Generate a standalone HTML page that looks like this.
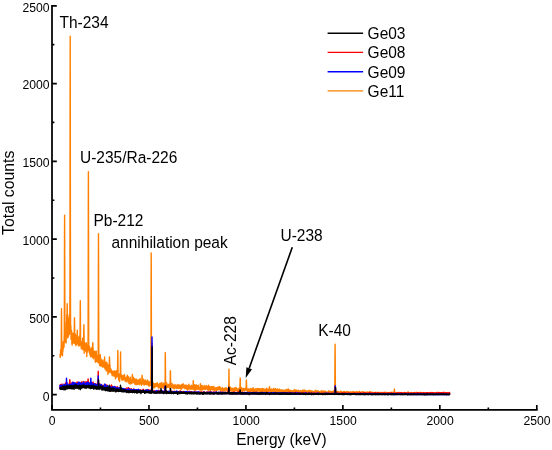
<!DOCTYPE html>
<html><head><meta charset="utf-8"><title>Gamma spectra</title>
<style>html,body{margin:0;padding:0;background:#fff}svg{display:block}</style></head>
<body>
<svg width="552" height="450" viewBox="0 0 552 450">
<rect width="552" height="450" fill="#fff"/>
<g fill="none" stroke-linejoin="round" stroke-width="1.4">
<path stroke="#ff8000" d="M60.0,355.7 60.0,354.6 60.1,355.9 60.2,357.4 60.3,355.9 60.4,357.1 60.5,353.8 60.6,349.8 60.7,354.8 60.8,354.9 60.9,351.3 61.0,351.4 61.1,351.1 61.2,350.0 61.3,336.2 61.4,317.9 61.5,308.8 61.6,318.5 61.7,339.0 61.8,349.3 61.9,354.5 62.0,350.0 62.1,353.0 62.2,348.0 62.3,348.0 62.4,348.8 62.5,355.7 62.6,349.3 62.7,347.4 62.8,346.6 62.9,351.4 63.0,347.8 63.1,349.1 63.2,348.3 63.2,342.0 63.3,347.6 63.4,344.8 63.5,341.5 63.6,345.9 63.7,344.2 63.8,343.3 63.9,343.3 64.0,347.3 64.1,342.7 64.2,336.4 64.3,334.5 64.4,294.8 64.5,243.7 64.6,215.1 64.7,242.2 64.8,294.6 64.9,332.5 65.0,339.1 65.1,339.1 65.2,341.7 65.3,338.6 65.4,340.9 65.5,338.3 65.6,335.5 65.7,342.4 65.8,339.2 65.9,341.3 66.0,339.0 66.1,343.0 66.2,339.2 66.3,333.4 66.4,325.4 66.4,322.3 66.5,325.8 66.6,327.2 66.7,319.1 66.8,314.5 66.9,318.6 67.0,320.5 67.1,310.1 67.2,303.8 67.3,311.7 67.4,326.4 67.5,335.2 67.6,332.0 67.7,337.9 67.8,334.6 67.9,329.2 68.0,327.1 68.1,329.6 68.2,336.2 68.3,336.2 68.4,336.6 68.5,327.8 68.6,321.7 68.7,317.8 68.8,321.6 68.9,330.7 69.0,330.2 69.1,328.8 69.2,319.2 69.3,314.7 69.4,319.5 69.5,331.6 69.5,334.3 69.6,325.8 69.7,322.0 69.8,320.6 69.9,297.4 70.0,229.2 70.1,104.4 70.2,36.3 70.3,104.0 70.4,230.6 70.5,309.2 70.6,328.2 70.7,327.6 70.8,325.5 70.9,328.2 71.0,333.0 71.1,339.2 71.2,335.7 71.3,336.7 71.4,331.1 71.5,330.2 71.6,331.8 71.7,336.2 71.8,337.2 71.9,344.3 72.0,341.6 72.1,336.5 72.2,345.1 72.3,334.9 72.4,343.8 72.5,335.3 72.6,340.8 72.7,335.3 72.7,337.6 72.8,343.3 72.9,333.9 73.0,333.3 73.1,338.4 73.2,339.2 73.3,338.8 73.4,341.7 73.5,334.7 73.6,340.3 73.7,338.7 73.8,341.3 73.9,340.8 74.0,343.0 74.1,334.2 74.2,337.2 74.3,329.2 74.4,322.5 74.5,317.8 74.6,322.8 74.7,332.6 74.8,337.0 74.9,340.1 75.0,340.2 75.1,344.0 75.2,342.1 75.3,333.9 75.4,341.7 75.5,343.1 75.6,338.5 75.7,334.9 75.8,344.6 75.9,340.5 75.9,341.9 76.0,345.8 76.1,337.5 76.2,340.1 76.3,339.8 76.4,342.6 76.5,338.6 76.6,342.0 76.7,340.7 76.8,344.0 76.9,344.2 77.0,335.4 77.1,337.9 77.2,332.3 77.3,330.2 77.4,332.9 77.5,338.0 77.6,337.8 77.7,341.6 77.8,341.3 77.9,340.8 78.0,337.1 78.1,338.8 78.2,339.8 78.3,343.0 78.4,345.8 78.5,338.1 78.6,338.1 78.7,341.8 78.8,339.6 78.9,338.9 79.0,338.8 79.1,338.5 79.1,343.1 79.2,336.7 79.3,345.8 79.4,338.9 79.5,340.2 79.6,339.0 79.7,335.7 79.8,337.0 79.9,345.0 80.0,342.9 80.1,325.5 80.2,310.8 80.3,300.7 80.4,309.5 80.5,330.9 80.6,344.7 80.7,341.3 80.8,342.7 80.9,343.8 81.0,343.0 81.1,346.0 81.2,348.2 81.3,343.9 81.4,346.6 81.5,348.9 81.6,342.0 81.7,343.9 81.8,342.5 81.9,347.1 82.0,346.1 82.1,347.3 82.2,347.0 82.3,343.7 82.3,346.9 82.4,343.3 82.5,343.5 82.6,338.2 82.7,349.2 82.8,342.0 82.9,345.2 83.0,345.1 83.1,349.7 83.2,346.7 83.3,342.9 83.4,345.6 83.5,344.9 83.6,344.3 83.7,335.8 83.8,329.5 83.9,324.8 84.0,330.0 84.1,342.3 84.2,353.2 84.3,347.5 84.4,342.0 84.5,346.2 84.6,350.1 84.7,349.5 84.8,343.1 84.9,346.2 85.0,346.6 85.1,347.0 85.2,346.8 85.3,344.5 85.4,345.4 85.5,346.5 85.5,350.6 85.6,345.8 85.7,349.6 85.8,344.2 85.9,351.6 86.0,348.2 86.1,347.8 86.2,352.0 86.3,342.7 86.4,343.6 86.5,349.6 86.6,345.9 86.7,347.2 86.8,356.5 86.9,347.7 87.0,348.8 87.1,348.4 87.2,352.1 87.3,349.7 87.4,349.5 87.5,345.4 87.6,348.1 87.7,349.2 87.8,344.6 87.9,350.7 88.0,347.6 88.1,336.6 88.2,282.4 88.3,211.0 88.4,171.6 88.5,211.3 88.6,285.5 88.7,331.6 88.7,348.0 88.8,350.6 88.9,350.2 89.0,346.0 89.1,349.0 89.2,350.9 89.3,352.6 89.4,352.8 89.5,346.2 89.6,349.6 89.7,351.0 89.8,352.4 89.9,354.7 90.0,351.7 90.1,349.0 90.2,352.9 90.3,352.5 90.4,352.6 90.5,351.7 90.6,356.8 90.7,352.9 90.8,354.8 90.9,349.8 91.0,354.8 91.1,350.9 91.2,348.2 91.3,353.7 91.4,354.7 91.5,352.4 91.6,353.1 91.7,356.1 91.8,352.0 91.9,347.5 91.9,354.2 92.0,354.2 92.1,356.7 92.2,352.8 92.3,357.4 92.4,356.9 92.5,349.6 92.6,351.7 92.7,344.6 92.8,342.7 92.9,345.1 93.0,349.2 93.1,348.4 93.2,355.1 93.3,356.5 93.4,358.8 93.5,354.9 93.6,350.9 93.7,352.4 93.8,357.9 93.9,357.8 94.0,356.9 94.1,354.7 94.2,356.2 94.3,355.1 94.4,355.0 94.5,356.7 94.6,356.1 94.7,355.5 94.8,356.4 94.9,354.8 95.0,351.1 95.1,354.8 95.1,356.3 95.2,361.3 95.3,355.6 95.4,362.2 95.5,360.8 95.6,354.6 95.7,355.1 95.8,357.5 95.9,361.9 96.0,358.3 96.1,359.3 96.2,355.7 96.3,351.3 96.4,357.0 96.5,359.9 96.6,361.0 96.7,358.0 96.8,358.5 96.9,361.2 97.0,357.8 97.1,361.4 97.2,355.3 97.3,355.5 97.4,355.5 97.5,359.9 97.6,357.2 97.7,359.1 97.8,359.9 97.9,359.8 98.0,362.5 98.1,362.7 98.2,354.9 98.2,347.1 98.3,313.7 98.4,261.5 98.5,233.8 98.6,262.6 98.7,314.0 98.8,346.2 98.9,358.8 99.0,357.1 99.1,359.5 99.2,363.4 99.3,362.8 99.4,358.3 99.5,359.3 99.6,365.6 99.7,357.1 99.8,359.2 99.9,357.3 100.0,362.0 100.1,361.8 100.2,364.1 100.3,354.6 100.4,361.8 100.5,357.3 100.6,363.2 100.7,361.2 100.8,366.1 100.9,362.8 101.0,359.3 101.1,365.2 101.2,359.3 101.3,361.3 101.4,364.9 101.4,363.6 101.5,363.6 101.6,362.6 101.7,364.0 101.8,364.8 101.9,363.6 102.0,365.5 102.1,366.3 102.2,363.2 102.3,360.9 102.4,367.1 102.5,363.3 102.6,365.0 102.7,366.0 102.8,361.4 102.9,365.0 103.0,360.0 103.1,365.8 103.2,362.9 103.3,364.6 103.4,366.0 103.5,362.7 103.6,364.6 103.7,362.8 103.8,364.5 103.9,367.2 104.0,364.8 104.1,364.5 104.2,362.4 104.3,366.9 104.4,364.2 104.5,364.8 104.6,358.4 104.6,357.0 104.7,359.8 104.8,362.4 104.9,362.1 105.0,369.0 105.1,368.2 105.2,367.5 105.3,368.5 105.4,364.9 105.5,367.9 105.6,367.7 105.7,364.6 105.8,368.0 105.9,365.2 106.0,368.6 106.1,369.3 106.2,370.9 106.3,362.1 106.4,367.4 106.5,366.1 106.6,366.8 106.7,366.5 106.8,366.8 106.9,362.5 107.0,369.5 107.1,370.9 107.2,369.6 107.3,370.5 107.4,365.6 107.5,365.5 107.6,369.8 107.7,370.9 107.8,368.5 107.8,364.5 107.9,374.4 108.0,366.7 108.1,370.5 108.2,365.6 108.3,370.6 108.4,368.9 108.5,371.8 108.6,370.6 108.7,365.2 108.8,366.6 108.9,369.5 109.0,370.6 109.1,372.8 109.2,368.4 109.3,364.6 109.4,359.7 109.5,357.0 109.6,360.3 109.7,364.9 109.8,368.1 109.9,366.3 110.0,365.2 110.1,369.8 110.2,371.3 110.3,369.8 110.4,371.1 110.5,371.5 110.6,370.1 110.7,372.4 110.8,368.7 110.9,370.4 111.0,369.7 111.0,370.7 111.1,372.0 111.2,372.6 111.3,371.1 111.4,371.9 111.5,370.2 111.6,370.8 111.7,373.9 111.8,370.8 111.9,374.0 112.0,372.5 112.1,371.8 112.2,375.8 112.3,371.1 112.4,371.1 112.5,371.8 112.6,372.5 112.7,372.4 112.8,373.8 112.9,372.4 113.0,373.0 113.1,371.7 113.2,374.6 113.3,371.6 113.4,371.9 113.5,372.5 113.6,373.2 113.7,371.2 113.8,376.0 113.9,371.6 114.0,372.1 114.1,372.1 114.2,371.9 114.2,374.2 114.3,373.4 114.4,371.6 114.5,372.1 114.6,372.7 114.7,376.3 114.8,372.1 114.9,370.9 115.0,371.3 115.1,373.0 115.2,376.7 115.3,371.6 115.4,373.9 115.5,378.9 115.6,373.0 115.7,376.9 115.8,376.5 115.9,375.3 116.0,371.5 116.1,374.9 116.2,373.6 116.3,370.7 116.4,371.1 116.5,374.6 116.6,374.9 116.7,377.0 116.8,376.0 116.9,373.8 117.0,373.9 117.1,374.6 117.2,372.9 117.3,376.4 117.4,375.0 117.4,373.2 117.5,371.6 117.6,364.9 117.7,355.8 117.8,350.4 117.9,355.9 118.0,367.6 118.1,375.8 118.2,374.0 118.3,375.7 118.4,375.1 118.5,379.0 118.6,376.5 118.7,377.0 118.8,377.5 118.9,380.2 119.0,376.7 119.1,374.4 119.2,375.4 119.3,377.3 119.4,376.3 119.5,374.9 119.6,381.6 119.7,376.7 119.8,375.5 119.9,375.3 120.0,373.4 120.1,374.5 120.2,375.7 120.3,373.7 120.4,366.9 120.5,357.8 120.6,352.0 120.6,357.2 120.7,365.6 120.8,374.7 120.9,376.7 121.0,376.6 121.1,374.6 121.2,377.2 121.3,374.5 121.4,379.0 121.5,377.6 121.6,377.6 121.7,375.9 121.8,375.5 121.9,380.1 122.0,379.1 122.1,376.9 122.2,378.7 122.3,380.3 122.4,375.7 122.5,376.7 122.6,376.8 122.7,378.5 122.8,375.9 122.9,378.2 123.0,375.9 123.1,379.5 123.2,379.4 123.3,377.6 123.4,379.2 123.5,376.8 123.6,377.6 123.7,379.7 123.8,378.0 123.8,378.8 123.9,376.6 124.0,379.3 124.1,379.0 124.2,376.2 124.3,374.4 124.4,374.9 124.5,378.3 124.6,378.0 124.7,375.8 124.8,378.7 124.9,380.2 125.0,378.4 125.1,377.8 125.2,380.1 125.3,381.5 125.4,381.2 125.5,377.6 125.6,380.1 125.7,379.1 125.8,378.5 125.9,377.8 126.0,379.5 126.1,378.1 126.2,380.5 126.3,379.6 126.4,380.8 126.5,377.2 126.6,379.2 126.7,380.4 126.8,379.8 126.9,379.6 127.0,378.1 127.0,382.0 127.1,381.1 127.2,380.0 127.3,375.2 127.4,377.9 127.5,379.7 127.6,378.3 127.7,376.1 127.8,380.0 127.9,380.2 128.0,377.6 128.1,378.9 128.2,378.6 128.3,380.6 128.4,376.6 128.5,377.0 128.6,378.9 128.7,378.8 128.8,383.2 128.9,378.9 129.0,380.3 129.1,379.3 129.2,378.9 129.3,380.6 129.4,382.8 129.5,379.5 129.6,381.4 129.7,380.7 129.8,381.2 129.9,380.8 130.0,384.0 130.1,378.4 130.1,379.9 130.2,378.6 130.3,377.2 130.4,380.4 130.5,383.3 130.6,381.8 130.7,382.4 130.8,381.3 130.9,380.4 131.0,383.7 131.1,380.0 131.2,382.9 131.3,380.1 131.4,380.8 131.5,381.1 131.6,380.7 131.7,381.5 131.8,381.6 131.9,383.3 132.0,380.6 132.1,377.5 132.2,376.5 132.3,375.5 132.4,374.5 132.5,376.2 132.6,377.1 132.7,380.3 132.8,380.8 132.9,381.3 133.0,380.7 133.1,381.6 133.2,381.0 133.3,382.6 133.3,381.5 133.4,377.5 133.5,381.1 133.6,381.4 133.7,380.2 133.8,380.0 133.9,382.8 134.0,381.4 134.1,379.7 134.2,380.7 134.3,380.9 134.4,378.8 134.5,382.2 134.6,381.1 134.7,382.0 134.8,379.0 134.9,384.2 135.0,382.3 135.1,382.1 135.2,380.3 135.3,380.4 135.4,379.2 135.5,383.7 135.6,380.2 135.7,381.8 135.8,382.4 135.9,380.6 136.0,382.8 136.1,384.6 136.2,382.0 136.3,383.7 136.4,382.5 136.5,381.0 136.5,381.1 136.6,379.2 136.7,381.9 136.8,383.9 136.9,382.7 137.0,383.0 137.1,383.5 137.2,381.0 137.3,382.6 137.4,384.6 137.5,380.7 137.6,381.9 137.7,381.2 137.8,381.6 137.9,380.9 138.0,381.7 138.1,380.0 138.2,381.2 138.3,381.3 138.4,381.3 138.5,384.0 138.6,382.1 138.7,382.3 138.8,381.6 138.9,383.9 139.0,379.6 139.1,381.8 139.2,383.8 139.3,384.5 139.4,382.4 139.5,382.2 139.6,383.1 139.7,382.0 139.7,383.0 139.8,381.3 139.9,383.2 140.0,382.2 140.1,380.8 140.2,378.5 140.3,383.6 140.4,382.9 140.5,383.4 140.6,381.1 140.7,383.9 140.8,383.0 140.9,382.3 141.0,383.7 141.1,383.7 141.2,383.0 141.3,385.3 141.4,384.4 141.5,382.9 141.6,382.1 141.7,382.5 141.8,384.0 141.9,380.3 142.0,376.7 142.1,375.3 142.2,376.9 142.3,380.7 142.4,380.9 142.5,383.2 142.6,384.1 142.7,383.6 142.8,380.5 142.9,382.2 142.9,380.9 143.0,383.2 143.1,381.2 143.2,383.4 143.3,382.8 143.4,379.1 143.5,381.5 143.6,383.3 143.7,382.8 143.8,382.2 143.9,381.0 144.0,383.4 144.1,385.1 144.2,383.1 144.3,382.7 144.4,382.6 144.5,380.9 144.6,382.3 144.7,381.6 144.8,384.3 144.9,381.6 145.0,379.9 145.1,381.7 145.2,382.5 145.3,382.6 145.4,380.3 145.5,384.2 145.6,383.0 145.7,382.2 145.8,381.9 145.9,383.5 146.0,382.5 146.1,383.3 146.1,382.8 146.2,383.1 146.3,384.6 146.4,383.0 146.5,381.8 146.6,384.3 146.7,383.3 146.8,382.1 146.9,384.5 147.0,382.8 147.1,384.5 147.2,381.5 147.3,379.9 147.4,380.3 147.5,383.4 147.6,382.1 147.7,383.0 147.8,383.0 147.9,381.0 148.0,385.0 148.1,381.7 148.2,383.3 148.3,381.3 148.4,383.0 148.5,384.2 148.6,382.9 148.7,382.2 148.8,383.2 148.9,382.6 149.0,384.0 149.1,386.2 149.2,382.1 149.3,382.4 149.3,383.1 149.4,383.3 149.5,381.9 149.6,384.0 149.7,384.3 149.8,383.6 149.9,381.8 150.0,385.3 150.1,381.9 150.2,384.4 150.3,385.1 150.4,382.0 150.5,383.9 150.6,385.5 150.7,384.1 150.8,380.5 150.9,369.3 151.0,337.1 151.1,282.3 151.2,252.9 151.3,282.7 151.4,336.6 151.5,371.1 151.6,382.8 151.7,384.8 151.8,384.3 151.9,384.4 152.0,385.2 152.1,385.1 152.2,383.2 152.3,384.4 152.4,383.6 152.5,383.2 152.5,384.1 152.6,382.0 152.7,386.0 152.8,383.9 152.9,385.4 153.0,382.6 153.1,382.8 153.2,387.5 153.3,386.2 153.4,384.2 153.5,384.0 153.6,384.1 153.7,385.1 153.8,384.4 153.9,384.2 154.0,385.1 154.1,383.7 154.2,387.9 154.3,384.2 154.4,386.4 154.5,383.9 154.6,385.4 154.7,386.2 154.8,384.6 154.9,386.2 155.0,386.2 155.1,387.1 155.2,385.1 155.3,384.5 155.4,383.8 155.5,385.3 155.6,383.8 155.7,385.1 155.7,385.3 155.8,384.4 155.9,383.8 156.0,385.6 156.1,385.5 156.2,385.4 156.3,385.1 156.4,386.3 156.5,383.9 156.6,385.7 156.7,384.6 156.8,386.2 156.9,384.8 157.0,384.7 157.1,385.7 157.2,382.7 157.3,384.8 157.4,383.0 157.5,384.1 157.6,386.1 157.7,385.7 157.8,384.7 157.9,385.2 158.0,385.2 158.1,385.6 158.2,387.5 158.3,385.6 158.4,388.1 158.5,384.8 158.6,386.2 158.7,386.2 158.8,385.6 158.8,385.0 158.9,387.1 159.0,387.5 159.1,386.7 159.2,387.9 159.3,386.6 159.4,383.4 159.5,386.7 159.6,384.6 159.7,387.1 159.8,385.0 159.9,385.8 160.0,385.5 160.1,384.7 160.2,383.2 160.3,385.2 160.4,385.3 160.5,386.6 160.6,384.7 160.7,385.7 160.8,384.4 160.9,385.5 161.0,383.3 161.1,387.9 161.2,385.8 161.3,384.4 161.4,385.9 161.5,386.5 161.6,385.8 161.7,387.2 161.8,385.4 161.9,382.5 162.0,384.1 162.0,386.9 162.1,386.6 162.2,386.0 162.3,384.3 162.4,386.6 162.5,386.4 162.6,384.5 162.7,384.5 162.8,386.0 162.9,386.9 163.0,387.5 163.1,386.4 163.2,388.3 163.3,384.7 163.4,386.4 163.5,385.0 163.6,383.3 163.7,384.2 163.8,387.0 163.9,384.6 164.0,384.2 164.1,386.6 164.2,386.8 164.3,385.8 164.4,387.6 164.5,383.9 164.6,388.6 164.7,387.0 164.8,386.0 164.9,385.9 165.0,384.9 165.1,382.1 165.2,373.9 165.2,359.6 165.3,352.5 165.4,359.9 165.5,374.3 165.6,382.2 165.7,384.9 165.8,386.8 165.9,386.5 166.0,384.8 166.1,385.3 166.2,386.6 166.3,383.3 166.4,383.0 166.5,387.6 166.6,385.4 166.7,382.8 166.8,384.9 166.9,385.5 167.0,386.1 167.1,386.5 167.2,386.1 167.3,386.5 167.4,384.9 167.5,386.3 167.6,386.4 167.7,387.3 167.8,385.9 167.9,386.9 168.0,386.1 168.1,384.6 168.2,385.4 168.3,385.3 168.4,385.5 168.4,385.8 168.5,386.1 168.6,386.3 168.7,385.0 168.8,387.2 168.9,384.3 169.0,385.9 169.1,386.8 169.2,386.5 169.3,386.8 169.4,385.8 169.5,386.8 169.6,384.6 169.7,386.9 169.8,388.7 169.9,386.9 170.0,388.1 170.1,384.5 170.2,379.7 170.3,373.9 170.4,370.6 170.5,374.3 170.6,379.1 170.7,384.2 170.8,385.8 170.9,384.8 171.0,383.2 171.1,384.5 171.2,385.9 171.3,385.7 171.4,385.4 171.5,386.8 171.6,387.4 171.6,386.1 171.7,387.3 171.8,386.2 171.9,386.0 172.0,383.4 172.1,387.2 172.2,386.3 172.3,386.4 172.4,385.7 172.5,385.0 172.6,386.8 172.7,387.2 172.8,388.1 172.9,387.3 173.0,385.6 173.1,386.2 173.2,387.4 173.3,386.7 173.4,386.2 173.5,385.7 173.6,387.0 173.7,386.6 173.8,388.4 173.9,387.6 174.0,384.4 174.1,388.9 174.2,386.7 174.3,386.1 174.4,386.8 174.5,387.3 174.6,386.4 174.7,386.3 174.8,386.4 174.8,388.6 174.9,386.5 175.0,387.4 175.1,387.0 175.2,386.1 175.3,385.6 175.4,385.3 175.5,387.0 175.6,385.3 175.7,385.0 175.8,385.1 175.9,384.8 176.0,386.6 176.1,386.6 176.2,385.5 176.3,388.0 176.4,386.2 176.5,387.1 176.6,386.9 176.7,388.5 176.8,387.5 176.9,386.5 177.0,385.5 177.1,385.4 177.2,386.6 177.3,386.7 177.4,387.5 177.5,386.1 177.6,386.8 177.7,385.8 177.8,384.5 177.9,386.6 178.0,388.3 178.0,387.6 178.1,388.3 178.2,388.0 178.3,385.1 178.4,386.3 178.5,388.4 178.6,385.9 178.7,385.2 178.8,387.0 178.9,387.4 179.0,387.0 179.1,386.3 179.2,385.9 179.3,385.3 179.4,385.3 179.5,385.3 179.6,385.1 179.7,385.9 179.8,388.4 179.9,386.8 180.0,386.3 180.1,387.1 180.2,385.7 180.3,387.1 180.4,387.8 180.5,385.1 180.6,386.0 180.7,386.5 180.8,385.7 180.9,385.5 181.0,386.4 181.1,389.6 181.2,387.5 181.2,387.3 181.3,387.9 181.4,386.6 181.5,385.4 181.6,387.4 181.7,388.1 181.8,384.5 181.9,387.3 182.0,388.2 182.1,386.6 182.2,386.4 182.3,387.7 182.4,386.0 182.5,387.4 182.6,387.9 182.7,386.7 182.8,386.0 182.9,387.6 183.0,386.5 183.1,387.0 183.2,383.7 183.3,387.7 183.4,385.4 183.5,387.0 183.6,387.1 183.7,386.1 183.8,385.9 183.9,385.5 184.0,386.6 184.1,387.6 184.2,387.6 184.3,386.4 184.4,386.3 184.4,385.4 184.5,386.5 184.6,385.8 184.7,385.3 184.8,386.8 184.9,388.7 185.0,388.3 185.1,388.6 185.2,385.2 185.3,388.0 185.4,385.7 185.5,386.4 185.6,385.1 185.7,385.9 185.8,387.2 185.9,387.3 186.0,387.0 186.1,386.9 186.2,387.7 186.3,387.1 186.4,385.3 186.5,389.0 186.6,386.8 186.7,388.1 186.8,386.9 186.9,386.2 187.0,387.2 187.1,386.3 187.2,388.9 187.3,385.9 187.4,387.8 187.5,386.5 187.6,387.0 187.6,390.1 187.7,388.0 187.8,387.0 187.9,385.5 188.0,386.9 188.1,386.9 188.2,388.8 188.3,385.6 188.4,385.2 188.5,387.2 188.6,387.5 188.7,389.0 188.8,386.3 188.9,384.3 189.0,386.5 189.1,385.9 189.2,386.7 189.3,388.4 189.4,385.8 189.5,388.7 189.6,387.5 189.7,387.0 189.8,386.3 189.9,386.9 190.0,386.9 190.1,388.2 190.2,388.8 190.3,387.3 190.4,388.1 190.5,388.8 190.6,388.8 190.7,387.9 190.7,389.4 190.8,388.9 190.9,389.2 191.0,387.2 191.1,387.0 191.2,385.2 191.3,389.1 191.4,388.2 191.5,386.4 191.6,387.7 191.7,387.8 191.8,385.6 191.9,387.8 192.0,388.7 192.1,388.9 192.2,387.1 192.3,387.1 192.4,389.0 192.5,388.6 192.6,386.9 192.7,386.9 192.8,388.2 192.9,386.7 193.0,386.3 193.1,386.3 193.2,382.2 193.3,380.6 193.4,382.3 193.5,386.5 193.6,387.1 193.7,386.6 193.8,385.8 193.9,389.9 193.9,384.7 194.0,388.8 194.1,386.5 194.2,386.3 194.3,386.5 194.4,387.4 194.5,388.9 194.6,386.9 194.7,388.4 194.8,390.3 194.9,384.6 195.0,386.9 195.1,385.7 195.2,388.6 195.3,386.1 195.4,385.9 195.5,386.0 195.6,387.7 195.7,389.0 195.8,387.9 195.9,390.0 196.0,389.4 196.1,387.3 196.2,387.4 196.3,385.6 196.4,385.0 196.5,385.1 196.6,385.8 196.7,387.5 196.8,386.4 196.9,388.6 197.0,388.1 197.1,386.8 197.1,389.1 197.2,388.1 197.3,389.2 197.4,387.6 197.5,386.0 197.6,388.6 197.7,387.5 197.8,388.7 197.9,389.0 198.0,389.1 198.1,386.3 198.2,385.3 198.3,387.3 198.4,388.6 198.5,387.1 198.6,388.2 198.7,387.0 198.8,387.5 198.9,387.6 199.0,387.2 199.1,388.5 199.2,388.3 199.3,389.7 199.4,388.3 199.5,389.4 199.6,388.0 199.7,388.9 199.8,387.8 199.9,387.4 200.0,389.4 200.1,388.7 200.2,388.4 200.3,385.9 200.3,384.3 200.4,383.7 200.5,384.7 200.6,385.4 200.7,389.0 200.8,386.3 200.9,388.6 201.0,390.9 201.1,385.2 201.2,386.3 201.3,389.1 201.4,387.8 201.5,388.2 201.6,387.9 201.7,389.6 201.8,388.7 201.9,387.5 202.0,387.8 202.1,386.8 202.2,387.9 202.3,385.6 202.4,388.8 202.5,387.8 202.6,390.0 202.7,389.4 202.8,386.7 202.9,389.0 203.0,387.5 203.1,388.1 203.2,389.2 203.3,388.4 203.4,388.6 203.5,388.6 203.5,387.3 203.6,387.4 203.7,388.7 203.8,389.1 203.9,387.8 204.0,388.2 204.1,387.1 204.2,385.4 204.3,387.3 204.4,388.2 204.5,388.3 204.6,389.0 204.7,389.1 204.8,389.2 204.9,388.6 205.0,388.6 205.1,387.4 205.2,388.6 205.3,388.4 205.4,389.4 205.5,386.5 205.6,387.7 205.7,386.4 205.8,387.4 205.9,386.7 206.0,388.5 206.1,387.5 206.2,385.5 206.3,388.4 206.4,386.6 206.5,386.5 206.6,386.8 206.7,387.1 206.7,386.9 206.8,388.9 206.9,387.8 207.0,389.2 207.1,389.0 207.2,388.9 207.3,388.4 207.4,388.1 207.5,387.8 207.6,389.8 207.7,386.2 207.8,387.1 207.9,387.6 208.0,388.7 208.1,388.4 208.2,387.8 208.3,387.9 208.4,390.1 208.5,387.6 208.6,385.3 208.7,390.3 208.8,387.3 208.9,388.0 209.0,388.5 209.1,386.9 209.2,389.6 209.3,388.2 209.4,386.9 209.5,388.6 209.6,388.8 209.7,388.3 209.8,388.9 209.9,386.8 209.9,389.4 210.0,387.5 210.1,389.7 210.2,387.7 210.3,388.5 210.4,391.1 210.5,388.4 210.6,389.6 210.7,388.9 210.8,386.9 210.9,389.6 211.0,389.6 211.1,387.0 211.2,388.4 211.3,386.9 211.4,388.1 211.5,389.4 211.6,388.6 211.7,387.2 211.8,387.5 211.9,388.5 212.0,388.5 212.1,388.6 212.2,389.1 212.3,386.5 212.4,388.5 212.5,389.7 212.6,389.0 212.7,387.8 212.8,387.9 212.9,388.7 213.0,389.2 213.1,388.5 213.1,390.3 213.2,389.9 213.3,387.7 213.4,389.1 213.5,388.2 213.6,387.3 213.7,387.9 213.8,388.6 213.9,386.4 214.0,387.9 214.1,389.0 214.2,387.9 214.3,388.2 214.4,389.5 214.5,388.6 214.6,388.8 214.7,390.6 214.8,388.8 214.9,388.9 215.0,389.1 215.1,390.3 215.2,389.0 215.3,388.7 215.4,388.6 215.5,389.8 215.6,388.0 215.7,389.9 215.8,388.9 215.9,387.4 216.0,389.4 216.1,389.2 216.2,387.6 216.3,389.1 216.3,389.0 216.4,388.5 216.5,387.7 216.6,391.0 216.7,389.6 216.8,389.8 216.9,389.8 217.0,389.6 217.1,389.6 217.2,388.4 217.3,389.7 217.4,388.6 217.5,388.4 217.6,389.5 217.7,388.6 217.8,387.1 217.9,388.5 218.0,389.4 218.1,388.9 218.2,389.7 218.3,388.5 218.4,387.9 218.5,389.6 218.6,389.0 218.7,387.7 218.8,389.1 218.9,388.0 219.0,387.5 219.1,386.8 219.2,387.4 219.3,386.8 219.4,389.0 219.4,389.3 219.5,389.4 219.6,389.0 219.7,388.2 219.8,388.7 219.9,386.9 220.0,388.7 220.1,387.5 220.2,388.6 220.3,388.3 220.4,390.3 220.5,389.0 220.6,389.0 220.7,389.1 220.8,391.0 220.9,388.1 221.0,389.3 221.1,389.3 221.2,389.2 221.3,389.2 221.4,388.5 221.5,390.2 221.6,389.8 221.7,388.7 221.8,388.8 221.9,389.3 222.0,389.5 222.1,389.8 222.2,389.0 222.3,387.8 222.4,390.0 222.5,387.5 222.6,388.2 222.6,389.4 222.7,388.2 222.8,390.4 222.9,390.7 223.0,390.3 223.1,389.4 223.2,389.3 223.3,389.5 223.4,388.9 223.5,391.1 223.6,388.6 223.7,390.4 223.8,389.7 223.9,389.4 224.0,390.2 224.1,390.4 224.2,390.0 224.3,389.1 224.4,388.5 224.5,388.5 224.6,390.0 224.7,389.8 224.8,390.0 224.9,388.7 225.0,391.0 225.1,387.9 225.2,389.6 225.3,389.9 225.4,388.8 225.5,388.1 225.6,388.8 225.7,388.1 225.8,389.0 225.8,388.0 225.9,387.9 226.0,389.2 226.1,387.8 226.2,389.0 226.3,389.1 226.4,390.0 226.5,389.4 226.6,388.4 226.7,390.4 226.8,388.6 226.9,388.8 227.0,388.9 227.1,391.3 227.2,389.3 227.3,388.6 227.4,389.9 227.5,389.1 227.6,391.5 227.7,388.6 227.8,389.8 227.9,388.4 228.0,391.0 228.1,388.6 228.2,389.5 228.3,388.5 228.4,390.1 228.5,389.8 228.6,386.8 228.7,387.9 228.8,382.4 228.9,373.7 229.0,369.1 229.0,373.4 229.1,381.0 229.2,387.8 229.3,390.5 229.4,388.1 229.5,388.2 229.6,388.5 229.7,388.2 229.8,390.1 229.9,389.5 230.0,390.6 230.1,390.6 230.2,388.4 230.3,389.9 230.4,387.2 230.5,389.3 230.6,389.9 230.7,388.6 230.8,387.7 230.9,388.9 231.0,390.5 231.1,389.0 231.2,388.1 231.3,389.8 231.4,390.1 231.5,388.4 231.6,389.2 231.7,390.4 231.8,389.7 231.9,390.1 232.0,389.1 232.1,389.3 232.2,388.3 232.2,388.7 232.3,390.9 232.4,389.0 232.5,388.6 232.6,389.0 232.7,388.5 232.8,389.9 232.9,390.3 233.0,388.6 233.1,390.4 233.2,391.4 233.3,388.5 233.4,390.1 233.5,389.7 233.6,390.7 233.7,390.7 233.8,390.5 233.9,389.8 234.0,389.1 234.1,391.6 234.2,388.8 234.3,390.6 234.4,390.5 234.5,388.9 234.6,389.6 234.7,390.9 234.8,387.8 234.9,390.3 235.0,389.3 235.1,389.3 235.2,388.2 235.3,389.9 235.4,388.6 235.4,390.2 235.5,388.5 235.6,390.2 235.7,389.9 235.8,387.8 235.9,389.3 236.0,389.5 236.1,387.5 236.2,389.2 236.3,390.3 236.4,388.9 236.5,390.7 236.6,388.5 236.7,388.5 236.8,390.1 236.9,390.2 237.0,389.4 237.1,389.6 237.2,390.5 237.3,389.1 237.4,391.5 237.5,390.0 237.6,390.0 237.7,389.9 237.8,389.3 237.9,390.7 238.0,389.1 238.1,389.8 238.2,390.2 238.3,390.9 238.4,390.7 238.5,389.3 238.6,390.5 238.6,389.6 238.7,388.7 238.8,388.7 238.9,388.3 239.0,389.9 239.1,390.7 239.2,388.8 239.3,389.4 239.4,388.7 239.5,389.7 239.6,388.6 239.7,388.9 239.8,388.9 239.9,388.1 240.0,385.2 240.1,380.6 240.2,378.0 240.3,380.4 240.4,385.8 240.5,387.1 240.6,389.6 240.7,388.8 240.8,389.8 240.9,390.0 241.0,387.9 241.1,390.0 241.2,390.9 241.3,390.4 241.4,390.0 241.5,387.8 241.6,389.6 241.7,388.9 241.8,390.7 241.8,389.5 241.9,389.2 242.0,388.2 242.1,390.4 242.2,389.3 242.3,389.5 242.4,390.7 242.5,389.8 242.6,390.0 242.7,391.9 242.8,389.3 242.9,389.3 243.0,390.2 243.1,391.0 243.2,388.5 243.3,389.6 243.4,388.9 243.5,388.6 243.6,390.3 243.7,389.1 243.8,390.1 243.9,389.9 244.0,389.9 244.1,389.9 244.2,388.9 244.3,389.8 244.4,390.0 244.5,390.1 244.6,389.6 244.7,390.7 244.8,390.3 244.9,389.9 245.0,390.4 245.0,390.0 245.1,390.4 245.2,388.1 245.3,388.7 245.4,389.5 245.5,390.0 245.6,388.0 245.7,389.6 245.8,390.0 245.9,389.7 246.0,389.5 246.1,387.8 246.2,386.4 246.3,381.8 246.4,380.0 246.5,382.1 246.6,386.9 246.7,387.5 246.8,390.1 246.9,390.0 247.0,389.1 247.1,388.9 247.2,390.9 247.3,390.3 247.4,391.2 247.5,389.8 247.6,390.1 247.7,390.3 247.8,390.6 247.9,390.3 248.0,390.6 248.1,389.5 248.2,388.6 248.2,391.7 248.3,390.1 248.4,390.4 248.5,389.6 248.6,390.8 248.7,390.1 248.8,390.9 248.9,389.4 249.0,389.9 249.1,390.1 249.2,389.7 249.3,390.2 249.4,391.4 249.5,389.5 249.6,389.8 249.7,390.1 249.8,389.2 249.9,389.0 250.0,391.0 250.1,390.7 250.2,388.7 250.3,388.8 250.4,390.7 250.5,391.1 250.6,390.6 250.7,390.5 250.8,391.4 250.9,390.0 251.0,391.2 251.1,391.1 251.2,389.2 251.3,390.6 251.3,390.1 251.4,389.5 251.5,389.3 251.6,390.3 251.7,390.0 251.8,390.8 251.9,388.5 252.0,389.5 252.1,391.0 252.2,390.1 252.3,389.4 252.4,389.6 252.5,388.5 252.6,388.9 252.7,390.5 252.8,390.2 252.9,391.2 253.0,389.9 253.1,389.9 253.2,387.7 253.3,390.0 253.4,391.9 253.5,390.7 253.6,390.0 253.7,391.2 253.8,390.8 253.9,390.4 254.0,389.8 254.1,390.2 254.2,390.9 254.3,389.4 254.4,390.6 254.5,390.5 254.5,391.3 254.6,390.8 254.7,389.5 254.8,391.5 254.9,390.2 255.0,389.5 255.1,390.4 255.2,389.9 255.3,391.1 255.4,389.0 255.5,389.2 255.6,389.9 255.7,391.6 255.8,391.0 255.9,389.3 256.0,388.7 256.1,389.9 256.2,389.1 256.3,390.7 256.4,390.3 256.5,390.1 256.6,389.8 256.7,391.5 256.8,389.3 256.9,389.0 257.0,391.1 257.1,391.3 257.2,389.9 257.3,390.7 257.4,392.2 257.5,389.5 257.6,390.0 257.7,390.6 257.7,388.4 257.8,390.1 257.9,390.8 258.0,390.1 258.1,391.1 258.2,390.8 258.3,389.8 258.4,390.7 258.5,390.6 258.6,388.8 258.7,389.5 258.8,389.5 258.9,389.7 259.0,389.8 259.1,388.9 259.2,390.2 259.3,388.6 259.4,391.0 259.5,390.4 259.6,391.4 259.7,390.5 259.8,389.8 259.9,389.0 260.0,390.8 260.1,390.2 260.2,390.5 260.3,390.8 260.4,391.2 260.5,390.2 260.6,391.7 260.7,390.1 260.8,390.2 260.9,390.8 260.9,391.1 261.0,391.4 261.1,388.6 261.2,391.4 261.3,388.9 261.4,389.7 261.5,390.6 261.6,391.2 261.7,389.4 261.8,388.8 261.9,391.0 262.0,390.5 262.1,389.4 262.2,390.0 262.3,388.6 262.4,390.7 262.5,389.8 262.6,391.3 262.7,388.5 262.8,390.9 262.9,392.1 263.0,390.4 263.1,390.4 263.2,388.6 263.3,390.6 263.4,390.3 263.5,389.8 263.6,388.9 263.7,390.3 263.8,389.4 263.9,389.8 264.0,390.5 264.1,390.2 264.1,390.3 264.2,391.1 264.3,389.3 264.4,391.5 264.5,389.3 264.6,389.5 264.7,390.4 264.8,391.0 264.9,390.5 265.0,389.9 265.1,389.7 265.2,390.1 265.3,389.5 265.4,390.8 265.5,390.1 265.6,391.6 265.7,389.7 265.8,390.2 265.9,390.7 266.0,389.3 266.1,389.7 266.2,392.7 266.3,390.3 266.4,391.6 266.5,389.4 266.6,388.2 266.7,390.8 266.8,390.3 266.9,390.6 267.0,390.0 267.1,389.8 267.2,389.3 267.3,391.2 267.3,389.0 267.4,391.1 267.5,390.1 267.6,389.4 267.7,389.8 267.8,391.2 267.9,391.0 268.0,390.8 268.1,390.4 268.2,389.4 268.3,391.5 268.4,390.0 268.5,389.9 268.6,389.9 268.7,390.0 268.8,389.1 268.9,390.0 269.0,389.7 269.1,389.9 269.2,388.7 269.3,390.1 269.4,387.4 269.5,386.8 269.6,387.7 269.7,389.6 269.8,391.4 269.9,390.7 270.0,391.0 270.1,390.0 270.2,391.6 270.3,389.2 270.4,390.2 270.5,390.6 270.5,391.0 270.6,391.1 270.7,391.4 270.8,390.9 270.9,390.4 271.0,390.6 271.1,391.6 271.2,390.7 271.3,391.2 271.4,390.3 271.5,388.9 271.6,390.0 271.7,390.7 271.8,391.8 271.9,391.7 272.0,391.9 272.1,389.9 272.2,391.1 272.3,390.4 272.4,391.0 272.5,390.4 272.6,389.4 272.7,391.1 272.8,390.8 272.9,391.2 273.0,389.8 273.1,391.4 273.2,391.5 273.3,391.7 273.4,391.7 273.5,390.2 273.6,388.4 273.7,391.4 273.7,389.8 273.8,390.4 273.9,391.5 274.0,390.8 274.1,390.8 274.2,391.1 274.3,389.0 274.4,392.1 274.5,390.3 274.6,390.3 274.7,391.1 274.8,390.5 274.9,389.9 275.0,390.5 275.1,390.3 275.2,390.1 275.3,392.3 275.4,389.4 275.5,388.8 275.6,389.8 275.7,389.8 275.8,391.8 275.9,390.7 276.0,391.3 276.1,391.1 276.2,389.9 276.3,391.3 276.4,390.8 276.5,392.2 276.6,390.8 276.7,390.6 276.8,391.3 276.9,391.3 276.9,389.2 277.0,391.7 277.1,391.5 277.2,391.4 277.3,389.7 277.4,389.0 277.5,390.4 277.6,391.3 277.7,391.1 277.8,389.9 277.9,391.5 278.0,389.6 278.1,389.6 278.2,390.7 278.3,390.2 278.4,390.1 278.5,389.5 278.6,391.6 278.7,389.8 278.8,391.1 278.9,391.4 279.0,390.7 279.1,390.9 279.2,391.6 279.3,392.1 279.4,391.5 279.5,389.6 279.6,389.2 279.7,390.3 279.8,389.9 279.9,391.2 280.0,390.9 280.0,390.6 280.1,391.7 280.2,391.6 280.3,390.7 280.4,391.1 280.5,391.7 280.6,390.5 280.7,391.0 280.8,390.0 280.9,390.9 281.0,391.1 281.1,390.8 281.2,391.0 281.3,391.4 281.4,391.2 281.5,390.3 281.6,390.4 281.7,389.9 281.8,392.2 281.9,391.2 282.0,391.2 282.1,390.8 282.2,391.3 282.3,391.3 282.4,390.3 282.5,390.8 282.6,391.8 282.7,389.9 282.8,390.1 282.9,391.4 283.0,390.3 283.1,391.5 283.2,390.1 283.2,391.1 283.3,391.6 283.4,391.2 283.5,391.5 283.6,390.8 283.7,390.8 283.8,390.9 283.9,391.4 284.0,393.8 284.1,390.9 284.2,392.4 284.3,390.8 284.4,390.1 284.5,390.8 284.6,391.3 284.7,391.1 284.8,391.1 284.9,391.4 285.0,391.5 285.1,391.7 285.2,390.1 285.3,391.0 285.4,390.3 285.5,391.2 285.6,391.0 285.7,391.2 285.8,390.7 285.9,390.4 286.0,390.9 286.1,391.6 286.2,391.6 286.3,389.8 286.4,391.3 286.4,391.3 286.5,389.9 286.6,390.2 286.7,390.7 286.8,391.4 286.9,389.3 287.0,390.8 287.1,390.7 287.2,391.2 287.3,392.2 287.4,392.1 287.5,390.8 287.6,390.8 287.7,391.3 287.8,392.0 287.9,392.2 288.0,391.4 288.1,392.2 288.2,390.4 288.3,390.2 288.4,389.0 288.5,390.5 288.6,391.6 288.7,391.8 288.8,393.8 288.9,391.6 289.0,391.3 289.1,390.4 289.2,390.7 289.3,390.7 289.4,391.0 289.5,390.7 289.6,390.1 289.6,392.0 289.7,391.5 289.8,392.2 289.9,390.0 290.0,390.2 290.1,390.6 290.2,392.1 290.3,391.1 290.4,391.4 290.5,391.1 290.6,391.3 290.7,390.8 290.8,391.5 290.9,390.6 291.0,391.0 291.1,391.4 291.2,391.3 291.3,391.6 291.4,390.6 291.5,391.4 291.6,391.0 291.7,391.5 291.8,392.4 291.9,390.6 292.0,392.0 292.1,390.8 292.2,390.9 292.3,391.2 292.4,390.9 292.5,391.0 292.6,391.5 292.7,392.0 292.8,390.7 292.8,391.5 292.9,391.0 293.0,391.6 293.1,391.1 293.2,391.9 293.3,391.3 293.4,390.9 293.5,391.3 293.6,391.7 293.7,392.1 293.8,391.2 293.9,391.1 294.0,391.5 294.1,391.9 294.2,390.9 294.3,389.5 294.4,391.6 294.5,391.1 294.6,391.1 294.7,393.2 294.8,391.3 294.9,391.9 295.0,390.3 295.1,391.5 295.2,391.9 295.3,391.5 295.4,391.3 295.5,391.8 295.6,391.4 295.7,392.4 295.8,391.6 295.9,390.8 296.0,390.0 296.0,390.9 296.1,391.2 296.2,390.5 296.3,390.7 296.4,390.2 296.5,390.6 296.6,391.5 296.7,391.2 296.8,391.3 296.9,391.2 297.0,391.3 297.1,392.0 297.2,393.0 297.3,391.9 297.4,392.9 297.5,391.4 297.6,391.4 297.7,392.7 297.8,391.0 297.9,390.8 298.0,391.4 298.1,390.3 298.2,390.1 298.3,392.3 298.4,390.7 298.5,391.2 298.6,391.2 298.7,390.8 298.8,392.0 298.9,391.9 299.0,392.1 299.1,392.0 299.2,391.6 299.2,392.5 299.3,392.3 299.4,391.1 299.5,391.6 299.6,391.2 299.7,392.9 299.8,392.1 299.9,391.9 300.0,391.5 300.1,392.0 300.2,390.9 300.3,391.6 300.4,391.5 300.5,391.5 300.6,391.0 300.7,391.9 300.8,390.8 300.9,391.2 301.0,391.5 301.1,391.5 301.2,391.2 301.3,390.9 301.4,390.9 301.5,391.3 301.6,391.0 301.7,391.5 301.8,390.7 301.9,391.6 302.0,393.1 302.1,390.7 302.2,391.5 302.3,392.4 302.4,391.7 302.4,392.2 302.5,390.1 302.6,391.3 302.7,392.7 302.8,391.2 302.9,391.9 303.0,390.3 303.1,392.4 303.2,393.2 303.3,391.6 303.4,391.9 303.5,391.9 303.6,393.2 303.7,391.4 303.8,390.5 303.9,393.0 304.0,390.8 304.1,392.1 304.2,390.0 304.3,391.4 304.4,391.8 304.5,390.9 304.6,391.3 304.7,392.1 304.8,391.2 304.9,392.0 305.0,392.9 305.1,390.3 305.2,391.9 305.3,392.1 305.4,391.5 305.5,392.8 305.6,392.6 305.6,392.1 305.7,392.1 305.8,391.7 305.9,390.9 306.0,392.1 306.1,391.4 306.2,391.3 306.3,392.5 306.4,391.6 306.5,392.4 306.6,391.0 306.7,391.4 306.8,391.7 306.9,392.7 307.0,391.7 307.1,392.3 307.2,391.3 307.3,391.8 307.4,392.3 307.5,391.1 307.6,391.3 307.7,392.2 307.8,391.0 307.9,392.0 308.0,392.0 308.1,391.7 308.2,392.3 308.3,392.1 308.4,391.9 308.5,390.8 308.6,390.8 308.7,392.0 308.8,390.7 308.8,391.8 308.9,391.6 309.0,391.2 309.1,391.6 309.2,390.2 309.3,391.7 309.4,392.6 309.5,390.9 309.6,392.1 309.7,392.0 309.8,393.9 309.9,391.2 310.0,391.3 310.1,391.3 310.2,391.2 310.3,390.7 310.4,391.9 310.5,391.2 310.6,392.4 310.7,392.1 310.8,391.2 310.9,391.6 311.0,392.8 311.1,391.6 311.2,392.0 311.3,392.4 311.4,391.6 311.5,392.2 311.6,392.9 311.7,392.6 311.8,390.7 311.9,392.9 311.9,391.8 312.0,391.5 312.1,391.5 312.2,392.7 312.3,392.1 312.4,391.8 312.5,391.4 312.6,392.4 312.7,392.7 312.8,391.3 312.9,391.2 313.0,391.7 313.1,392.3 313.2,391.7 313.3,391.9 313.4,391.4 313.5,392.8 313.6,391.9 313.7,392.1 313.8,392.7 313.9,391.8 314.0,391.9 314.1,392.2 314.2,391.7 314.3,392.9 314.4,392.0 314.5,391.7 314.6,391.8 314.7,391.3 314.8,392.8 314.9,393.0 315.0,391.8 315.1,391.7 315.1,390.6 315.2,391.6 315.3,392.6 315.4,391.5 315.5,392.6 315.6,393.0 315.7,390.3 315.8,391.8 315.9,391.5 316.0,391.6 316.1,390.8 316.2,391.8 316.3,391.2 316.4,392.7 316.5,392.9 316.6,391.1 316.7,391.1 316.8,391.7 316.9,391.9 317.0,391.9 317.1,392.5 317.2,391.0 317.3,391.6 317.4,391.7 317.5,391.8 317.6,391.4 317.7,391.7 317.8,391.6 317.9,392.8 318.0,391.7 318.1,390.6 318.2,392.4 318.3,392.1 318.3,391.5 318.4,391.4 318.5,391.7 318.6,393.1 318.7,391.7 318.8,392.8 318.9,392.6 319.0,391.7 319.1,392.1 319.2,391.7 319.3,391.8 319.4,391.8 319.5,391.7 319.6,392.6 319.7,392.5 319.8,392.8 319.9,392.4 320.0,392.8 320.1,392.5 320.2,392.2 320.3,392.8 320.4,393.0 320.5,393.0 320.6,391.8 320.7,392.1 320.8,391.5 320.9,391.4 321.0,392.3 321.1,391.7 321.2,393.1 321.3,390.7 321.4,391.4 321.5,392.3 321.5,392.9 321.6,391.9 321.7,393.3 321.8,392.6 321.9,391.7 322.0,392.1 322.1,392.5 322.2,391.5 322.3,392.8 322.4,392.0 322.5,392.5 322.6,392.7 322.7,391.9 322.8,392.8 322.9,391.0 323.0,392.5 323.1,390.9 323.2,392.9 323.3,391.8 323.4,392.9 323.5,393.0 323.6,392.1 323.7,391.8 323.8,393.0 323.9,391.4 324.0,392.7 324.1,392.1 324.2,392.0 324.3,391.8 324.4,393.3 324.5,391.2 324.6,391.8 324.7,392.5 324.7,392.9 324.8,393.3 324.9,393.1 325.0,391.9 325.1,392.4 325.2,392.9 325.3,392.6 325.4,391.2 325.5,392.4 325.6,392.6 325.7,391.4 325.8,391.9 325.9,392.2 326.0,392.6 326.1,393.2 326.2,393.0 326.3,392.5 326.4,392.4 326.5,392.0 326.6,391.9 326.7,392.1 326.8,392.1 326.9,392.9 327.0,393.6 327.1,392.6 327.2,392.9 327.3,392.7 327.4,392.4 327.5,393.0 327.6,393.0 327.7,392.3 327.8,392.2 327.9,392.7 327.9,392.0 328.0,392.4 328.1,392.9 328.2,392.3 328.3,391.1 328.4,392.7 328.5,391.6 328.6,391.4 328.7,391.4 328.8,392.8 328.9,391.0 329.0,392.2 329.1,392.5 329.2,392.4 329.3,391.9 329.4,392.3 329.5,392.4 329.6,391.5 329.7,392.8 329.8,393.0 329.9,391.8 330.0,391.9 330.1,391.6 330.2,393.0 330.3,391.7 330.4,392.0 330.5,391.2 330.6,393.1 330.7,392.2 330.8,392.5 330.9,393.3 331.0,392.8 331.1,391.6 331.1,392.6 331.2,392.8 331.3,391.8 331.4,391.7 331.5,391.7 331.6,392.8 331.7,392.4 331.8,391.7 331.9,392.8 332.0,392.8 332.1,391.9 332.2,391.4 332.3,393.1 332.4,394.0 332.5,393.3 332.6,393.0 332.7,392.5 332.8,392.0 332.9,392.5 333.0,392.8 333.1,392.3 333.2,393.0 333.3,392.4 333.4,392.8 333.5,390.8 333.6,391.9 333.7,392.9 333.8,393.0 333.9,392.7 334.0,393.4 334.1,392.8 334.2,392.8 334.3,391.9 334.3,392.7 334.4,392.9 334.5,393.2 334.6,393.0 334.7,391.6 334.8,387.7 334.9,374.6 335.0,355.2 335.1,344.2 335.2,355.0 335.3,375.0 335.4,388.7 335.5,392.4 335.6,391.9 335.7,391.6 335.8,392.3 335.9,392.0 336.0,392.7 336.1,392.7 336.2,392.8 336.3,391.9 336.4,392.2 336.5,392.6 336.6,392.6 336.7,392.1 336.8,392.3 336.9,393.0 337.0,391.4 337.1,392.3 337.2,392.5 337.3,391.6 337.4,391.9 337.5,392.5 337.5,392.2 337.6,393.1 337.7,392.9 337.8,393.8 337.9,391.8 338.0,393.6 338.1,392.1 338.2,393.0 338.3,393.1 338.4,392.6 338.5,392.3 338.6,392.1 338.7,391.4 338.8,392.3 338.9,392.0 339.0,392.9 339.1,392.1 339.2,392.4 339.3,392.8 339.4,392.6 339.5,392.5 339.6,392.4 339.7,392.3 339.8,392.8 339.9,393.0 340.0,392.1 340.1,393.5 340.2,392.9 340.3,391.6 340.4,394.1 340.5,392.9 340.6,392.1 340.6,393.5 340.7,391.0 340.8,394.1 340.9,391.7 341.0,391.6 341.1,392.0 341.2,392.7 341.3,392.3 341.4,393.1 341.5,392.1 341.6,393.2 341.7,392.7 341.8,392.0 341.9,393.2 342.0,392.8 342.1,392.5 342.2,393.3 342.3,391.9 342.4,392.4 342.5,393.5 342.6,392.6 342.7,393.0 342.8,393.0 342.9,392.5 343.0,393.0 343.1,392.0 343.2,393.0 343.3,392.0 343.4,392.6 343.5,392.1 343.6,392.9 343.7,392.9 343.8,393.3 343.8,392.3 343.9,392.1 344.0,391.4 344.1,391.9 344.2,392.5 344.3,392.7 344.4,392.4 344.5,392.6 344.6,391.8 344.7,392.1 344.8,393.1 344.9,393.0 345.0,391.8 345.1,392.4 345.2,392.8 345.3,391.9 345.4,392.8 345.5,392.8 345.6,392.9 345.7,393.8 345.8,392.1 345.9,393.3 346.0,393.0 346.1,393.1 346.2,392.2 346.3,392.7 346.4,392.6 346.5,393.6 346.6,392.7 346.7,393.5 346.8,392.5 346.9,392.4 347.0,392.7 347.0,391.5 347.1,392.4 347.2,392.3 347.3,392.6 347.4,392.8 347.5,392.1 347.6,392.0 347.7,393.4 347.8,392.1 347.9,392.4 348.0,392.1 348.1,392.4 348.2,393.4 348.3,393.3 348.4,391.6 348.5,392.5 348.6,393.5 348.7,392.5 348.8,392.9 348.9,393.7 349.0,394.0 349.1,393.6 349.2,392.5 349.3,392.7 349.4,392.8 349.5,392.5 349.6,392.4 349.7,393.9 349.8,392.9 349.9,393.2 350.0,393.4 350.1,393.0 350.2,392.8 350.2,392.9 350.3,393.5 350.4,393.0 350.5,391.6 350.6,393.3 350.7,393.7 350.8,392.6 350.9,392.4 351.0,392.5 351.1,393.4 351.2,392.2 351.3,393.2 351.4,393.4 351.5,393.1 351.6,392.8 351.7,392.3 351.8,392.4 351.9,392.8 352.0,392.2 352.1,392.7 352.2,392.3 352.3,393.5 352.4,393.6 352.5,392.3 352.6,393.5 352.7,392.9 352.8,392.8 352.9,393.0 353.0,393.0 353.1,392.0 353.2,394.2 353.3,392.3 353.4,391.5 353.4,392.8 353.5,392.8 353.6,392.4 353.7,391.8 353.8,393.4 353.9,392.7 354.0,392.9 354.1,392.5 354.2,392.7 354.3,392.4 354.4,393.0 354.5,392.8 354.6,393.2 354.7,393.2 354.8,392.9 354.9,392.9 355.0,393.4 355.1,391.9 355.2,392.9 355.3,393.6 355.4,392.2 355.5,393.2 355.6,392.5 355.7,392.8 355.8,392.7 355.9,392.7 356.0,393.1 356.1,392.8 356.2,391.7 356.3,394.0 356.4,392.8 356.5,392.6 356.6,393.4 356.6,393.6 356.7,391.7 356.8,393.0 356.9,391.7 357.0,392.5 357.1,392.8 357.2,392.6 357.3,392.5 357.4,392.2 357.5,392.6 357.6,392.8 357.7,392.7 357.8,392.1 357.9,392.4 358.0,393.4 358.1,393.2 358.2,392.7 358.3,393.2 358.4,393.1 358.5,393.4 358.6,393.0 358.7,392.6 358.8,392.3 358.9,392.9 359.0,391.7 359.1,392.9 359.2,391.2 359.3,392.3 359.4,392.6 359.5,393.1 359.6,394.4 359.7,393.0 359.8,392.8 359.8,391.9 359.9,393.5 360.0,392.0 360.1,392.3 360.2,392.1 360.3,392.6 360.4,392.6 360.5,393.0 360.6,392.5 360.7,392.8 360.8,393.5 360.9,392.4 361.0,392.5 361.1,392.6 361.2,392.4 361.3,392.3 361.4,392.9 361.5,393.6 361.6,393.6 361.7,392.2 361.8,392.5 361.9,392.9 362.0,393.1 362.1,392.9 362.2,392.9 362.3,393.1 362.4,393.3 362.5,391.8 362.6,392.8 362.7,393.2 362.8,393.6 362.9,393.3 363.0,392.5 363.0,392.5 363.1,393.0 363.2,392.9 363.3,393.1 363.4,393.5 363.5,392.3 363.6,392.7 363.7,391.6 363.8,393.3 363.9,393.0 364.0,392.5 364.1,393.1 364.2,393.7 364.3,393.4 364.4,392.9 364.5,392.8 364.6,393.0 364.7,392.4 364.8,392.4 364.9,392.8 365.0,392.9 365.1,393.1 365.2,392.7 365.3,392.5 365.4,392.9 365.5,392.7 365.6,393.1 365.7,393.7 365.8,393.5 365.9,392.6 366.0,392.7 366.1,392.2 366.2,392.9 366.2,392.5 366.3,392.4 366.4,392.4 366.5,392.6 366.6,392.8 366.7,392.9 366.8,393.5 366.9,392.7 367.0,392.5 367.1,393.2 367.2,392.0 367.3,393.1 367.4,393.1 367.5,393.1 367.6,393.4 367.7,392.8 367.8,393.0 367.9,392.1 368.0,392.7 368.1,392.7 368.2,393.1 368.3,393.7 368.4,393.1 368.5,393.5 368.6,392.5 368.7,393.0 368.8,392.2 368.9,392.6 369.0,392.6 369.1,392.9 369.2,392.9 369.3,392.7 369.4,392.6 369.4,393.4 369.5,392.8 369.6,391.7 369.7,393.1 369.8,393.2 369.9,393.4 370.0,393.8 370.1,392.4 370.2,393.0 370.3,392.9 370.4,392.1 370.5,391.8 370.6,393.5 370.7,392.5 370.8,392.7 370.9,392.8 371.0,392.8 371.1,393.1 371.2,392.2 371.3,392.7 371.4,392.9 371.5,392.4 371.6,392.6 371.7,392.8 371.8,392.9 371.9,392.2 372.0,392.8 372.1,393.1 372.2,393.5 372.3,393.2 372.4,393.6 372.5,393.0 372.5,392.9 372.6,394.1 372.7,393.1 372.8,392.7 372.9,393.0 373.0,393.6 373.1,392.4 373.2,393.4 373.3,393.7 373.4,393.6 373.5,393.1 373.6,392.6 373.7,392.5 373.8,393.0 373.9,393.7 374.0,393.4 374.1,393.5 374.2,393.2 374.3,394.0 374.4,393.0 374.5,392.8 374.6,393.2 374.7,392.9 374.8,393.6 374.9,393.8 375.0,393.4 375.1,392.5 375.2,392.6 375.3,393.3 375.4,392.5 375.5,393.3 375.6,392.4 375.7,392.9 375.7,393.3 375.8,392.7 375.9,393.5 376.0,393.6 376.1,393.8 376.2,393.0 376.3,393.2 376.4,393.2 376.5,393.3 376.6,392.4 376.7,393.3 376.8,393.5 376.9,392.5 377.0,392.4 377.1,393.0 377.2,394.0 377.3,393.4 377.4,392.8 377.5,393.1 377.6,392.4 377.7,393.8 377.8,392.8 377.9,393.5 378.0,392.5 378.1,393.2 378.2,392.6 378.3,393.5 378.4,393.8 378.5,393.7 378.6,393.5 378.7,393.7 378.8,392.6 378.9,392.5 378.9,393.0 379.0,393.7 379.1,393.2 379.2,393.5 379.3,392.5 379.4,393.0 379.5,392.9 379.6,393.4 379.7,394.2 379.8,393.6 379.9,393.7 380.0,393.0 380.1,393.1 380.2,393.6 380.3,393.4 380.4,392.4 380.5,393.7 380.6,393.6 380.7,393.3 380.8,393.5 380.9,393.4 381.0,392.9 381.1,392.4 381.2,394.1 381.3,393.2 381.4,393.2 381.5,393.2 381.6,393.3 381.7,393.4 381.8,392.7 381.9,393.4 382.0,393.3 382.1,393.2 382.1,393.2 382.2,393.3 382.3,392.7 382.4,393.2 382.5,393.1 382.6,393.2 382.7,393.7 382.8,393.6 382.9,393.7 383.0,393.1 383.1,393.6 383.2,393.7 383.3,393.1 383.4,393.0 383.5,394.1 383.6,392.4 383.7,393.2 383.8,393.3 383.9,392.7 384.0,393.2 384.1,393.5 384.2,392.2 384.3,393.7 384.4,393.3 384.5,392.8 384.6,393.7 384.7,393.3 384.8,393.0 384.9,392.1 385.0,393.6 385.1,393.2 385.2,392.9 385.3,393.2 385.3,393.8 385.4,393.0 385.5,393.2 385.6,393.0 385.7,392.7 385.8,392.7 385.9,393.0 386.0,393.1 386.1,393.7 386.2,393.3 386.3,393.1 386.4,393.4 386.5,393.2 386.6,393.6 386.7,392.5 386.8,392.2 386.9,393.4 387.0,393.0 387.1,393.3 387.2,392.6 387.3,393.0 387.4,393.2 387.5,393.3 387.6,393.2 387.7,393.7 387.8,392.9 387.9,393.6 388.0,393.0 388.1,393.2 388.2,392.7 388.3,393.2 388.4,392.7 388.5,393.7 388.5,392.9 388.6,393.3 388.7,393.1 388.8,393.2 388.9,392.8 389.0,394.2 389.1,393.1 389.2,394.0 389.3,392.7 389.4,394.2 389.5,393.7 389.6,394.0 389.7,392.5 389.8,393.9 389.9,393.2 390.0,393.5 390.1,394.1 390.2,393.4 390.3,392.9 390.4,393.3 390.5,392.8 390.6,393.4 390.7,393.2 390.8,393.4 390.9,393.1 391.0,392.3 391.1,393.1 391.2,393.2 391.3,393.5 391.4,393.6 391.5,392.6 391.6,393.8 391.7,393.7 391.7,393.3 391.8,393.5 391.9,392.3 392.0,394.4 392.1,393.1 392.2,392.9 392.3,393.8 392.4,393.6 392.5,393.1 392.6,392.5 392.7,393.7 392.8,394.0 392.9,392.8 393.0,392.5 393.1,393.4 393.2,394.3 393.3,392.6 393.4,393.4 393.5,392.7 393.6,393.3 393.7,393.4 393.8,393.5 393.9,392.6 394.0,392.5 394.1,393.7 394.2,392.0 394.3,389.8 394.4,389.0 394.5,390.1 394.6,391.7 394.7,392.9 394.8,393.2 394.9,393.5 394.9,393.4 395.0,393.5 395.1,393.1 395.2,393.7 395.3,393.4 395.4,393.3 395.5,392.7 395.6,393.1 395.7,393.3 395.8,393.0 395.9,393.1 396.0,392.8 396.1,393.0 396.2,392.4 396.3,392.6 396.4,393.3 396.5,393.5 396.6,392.9 396.7,393.0 396.8,393.3 396.9,394.0 397.0,394.1 397.1,393.1 397.2,392.9 397.3,392.9 397.4,393.9 397.5,392.8 397.6,393.5 397.7,393.1 397.8,393.1 397.9,393.7 398.0,393.6 398.1,394.3 398.1,393.7 398.2,394.1 398.3,393.1 398.4,393.3 398.5,392.9 398.6,393.1 398.7,393.6 398.8,393.1 398.9,393.5 399.0,393.0 399.1,393.1 399.2,393.8 399.3,393.3 399.4,393.3 399.5,393.4 399.6,392.9 399.7,392.5 399.8,393.5 399.9,393.5 400.0,394.3 400.1,393.4 400.2,393.5 400.3,394.3 400.4,393.2 400.5,393.0 400.6,393.6 400.7,393.5 400.8,393.7 400.9,392.9 401.0,394.0 401.1,393.4 401.2,392.4 401.2,393.3 401.3,393.1 401.4,393.4 401.5,393.8 401.6,393.3 401.7,393.1 401.8,393.8 401.9,393.1 402.0,392.7 402.1,392.8 402.2,394.0 402.3,393.8 402.4,394.1 402.5,392.8 402.6,393.0 402.7,393.0 402.8,393.7 402.9,393.8 403.0,393.3 403.1,393.3 403.2,393.7 403.3,393.2 403.4,393.0 403.5,393.2 403.6,393.8 403.7,394.3 403.8,393.4 403.9,393.2 404.0,393.4 404.1,393.5 404.2,393.6 404.3,393.0 404.4,393.3 404.4,393.3 404.5,393.8 404.6,393.6 404.7,393.2 404.8,393.8 404.9,393.9 405.0,393.5 405.1,392.8 405.2,393.2 405.3,392.6 405.4,393.4 405.5,393.5 405.6,394.0 405.7,393.6 405.8,392.7 405.9,393.2 406.0,393.0 406.1,393.0 406.2,393.3 406.3,393.4 406.4,393.3 406.5,393.0 406.6,393.1 406.7,393.1 406.8,393.3 406.9,393.7 407.0,393.4 407.1,393.8 407.2,392.9 407.3,394.3 407.4,393.4 407.5,392.2 407.6,393.5 407.6,393.9 407.7,393.3 407.8,392.7 407.9,393.4 408.0,393.0 408.1,393.3 408.2,393.5 408.3,391.9 408.4,393.3 408.5,393.6 408.6,393.6 408.7,393.2 408.8,393.1 408.9,393.0 409.0,393.3 409.1,394.0 409.2,393.1 409.3,393.5 409.4,393.5 409.5,394.0 409.6,393.6 409.7,393.7 409.8,393.4 409.9,394.0 410.0,393.3 410.1,393.3 410.2,393.9 410.3,393.6 410.4,393.7 410.5,392.9 410.6,394.5 410.7,393.5 410.8,394.1 410.8,393.5 410.9,393.0 411.0,393.6 411.1,393.3 411.2,393.7 411.3,392.5 411.4,392.9 411.5,392.8 411.6,394.0 411.7,393.9 411.8,392.9 411.9,393.4 412.0,393.5 412.1,393.2 412.2,393.9 412.3,393.0 412.4,393.3 412.5,393.1 412.6,393.7 412.7,393.1 412.8,393.7 412.9,392.9 413.0,392.8 413.1,392.9 413.2,393.1 413.3,393.1 413.4,394.6 413.5,393.0 413.6,393.5 413.7,393.3 413.8,393.5 413.9,394.0 414.0,393.6 414.0,393.1 414.1,392.7 414.2,393.6 414.3,393.8 414.4,392.7 414.5,393.8 414.6,392.4 414.7,393.3 414.8,393.8 414.9,392.9 415.0,392.6 415.1,394.0 415.2,392.7 415.3,393.5 415.4,392.7 415.5,393.5 415.6,394.1 415.7,393.1 415.8,392.9 415.9,392.4 416.0,392.6 416.1,393.1 416.2,393.5 416.3,393.6 416.4,393.5 416.5,393.7 416.6,393.5 416.7,394.5 416.8,393.3 416.9,393.4 417.0,392.2 417.1,393.0 417.2,393.6 417.2,393.1 417.3,393.9 417.4,393.6 417.5,394.2 417.6,392.7 417.7,393.1 417.8,393.9 417.9,393.4 418.0,392.9 418.1,393.2 418.2,393.2 418.3,393.8 418.4,393.7 418.5,393.3 418.6,393.0 418.7,393.8 418.8,393.9 418.9,392.9 419.0,393.8 419.1,392.9 419.2,393.3 419.3,393.0 419.4,392.6 419.5,393.1 419.6,393.0 419.7,393.8 419.8,393.7 419.9,393.1 420.0,392.7 420.1,392.8 420.2,392.3 420.3,393.2 420.4,393.3 420.4,392.9 420.5,393.4 420.6,393.4 420.7,393.9 420.8,392.9 420.9,393.9 421.0,393.2 421.1,394.0 421.2,392.9 421.3,393.9 421.4,393.0 421.5,394.1 421.6,393.6 421.7,392.9 421.8,393.8 421.9,393.4 422.0,393.6 422.1,394.4 422.2,393.3 422.3,393.2 422.4,393.9 422.5,393.1 422.6,393.8 422.7,393.8 422.8,393.4 422.9,393.7 423.0,392.4 423.1,394.1 423.2,393.1 423.3,393.0 423.4,394.3 423.5,394.2 423.6,393.1 423.6,393.6 423.7,393.2 423.8,392.9 423.9,393.6 424.0,393.9 424.1,394.6 424.2,393.3 424.3,393.8 424.4,393.3 424.5,393.3 424.6,394.0 424.7,392.6 424.8,392.9 424.9,393.0 425.0,393.9 425.1,393.6 425.2,393.7 425.3,393.6 425.4,393.9 425.5,393.2 425.6,393.3 425.7,393.2 425.8,393.6 425.9,392.8 426.0,393.3 426.1,394.6 426.2,393.7 426.3,393.4 426.4,393.0 426.5,393.5 426.6,393.5 426.7,393.7 426.8,393.1 426.8,393.6 426.9,393.7 427.0,393.7 427.1,393.2 427.2,393.7 427.3,394.2 427.4,393.1 427.5,393.7 427.6,393.3 427.7,393.3 427.8,392.9 427.9,393.0 428.0,393.7 428.1,393.5 428.2,394.0 428.3,392.7 428.4,393.2 428.5,392.8 428.6,393.6 428.7,394.3 428.8,392.7 428.9,393.4 429.0,393.4 429.1,393.4 429.2,393.1 429.3,393.2 429.4,394.1 429.5,392.9 429.6,393.7 429.7,393.6 429.8,392.7 429.9,393.0 430.0,393.6 430.0,394.2 430.1,393.4 430.2,393.2 430.3,393.5 430.4,394.0 430.5,393.8 430.6,394.0 430.7,393.3 430.8,393.1 430.9,393.0 431.0,393.8 431.1,393.3 431.2,393.2 431.3,393.7 431.4,393.5 431.5,392.5 431.6,393.3 431.7,393.0 431.8,393.6 431.9,393.4 432.0,394.2 432.1,393.4 432.2,392.9 432.3,392.5 432.4,392.9 432.5,393.1 432.6,393.4 432.7,393.7 432.8,393.5 432.9,393.2 433.0,393.8 433.1,393.0 433.1,393.9 433.2,394.2 433.3,393.9 433.4,394.2 433.5,394.0 433.6,392.9 433.7,393.5 433.8,393.3 433.9,392.9 434.0,392.9 434.1,393.7 434.2,392.9 434.3,393.3 434.4,393.4 434.5,393.3 434.6,394.1 434.7,393.8 434.8,393.5 434.9,393.2 435.0,393.6 435.1,393.5 435.2,393.0 435.3,392.8 435.4,393.1 435.5,392.9 435.6,393.6 435.7,393.6 435.8,393.3 435.9,393.6 436.0,393.7 436.1,392.7 436.2,393.5 436.3,393.9 436.3,393.2 436.4,392.7 436.5,393.4 436.6,392.9 436.7,393.6 436.8,393.7 436.9,393.8 437.0,393.5 437.1,392.7 437.2,394.0 437.3,392.7 437.4,393.9 437.5,393.6 437.6,393.1 437.7,393.2 437.8,393.3 437.9,394.2 438.0,393.3 438.1,393.9 438.2,392.3 438.3,393.6 438.4,393.4 438.5,394.0 438.6,393.7 438.7,394.0 438.8,393.0 438.9,393.6 439.0,393.2 439.1,393.8 439.2,393.7 439.3,392.9 439.4,393.9 439.5,394.3 439.5,393.3 439.6,394.0 439.7,393.7 439.8,393.1 439.9,393.8 440.0,393.1 440.1,393.8 440.2,392.8 440.3,392.9 440.4,393.7 440.5,393.6 440.6,393.8 440.7,393.4 440.8,393.0 440.9,394.1 441.0,393.1 441.1,394.0 441.2,393.8 441.3,394.2 441.4,392.6 441.5,393.5 441.6,393.4 441.7,393.8 441.8,393.0 441.9,394.4 442.0,393.5 442.1,392.5 442.2,393.6 442.3,393.5 442.4,393.2 442.5,393.8 442.6,393.5 442.7,393.1 442.7,393.4 442.8,393.3 442.9,393.6 443.0,393.3 443.1,393.5 443.2,392.9 443.3,393.2 443.4,393.6 443.5,394.5 443.6,393.2 443.7,393.2 443.8,393.9 443.9,394.3 444.0,394.0 444.1,393.1 444.2,393.9 444.3,393.7 444.4,393.4 444.5,393.0 444.6,393.5 444.7,393.5 444.8,393.7 444.9,392.8 445.0,393.0 445.1,393.5 445.2,394.1 445.3,393.8 445.4,393.2 445.5,393.8 445.6,393.1 445.7,393.3 445.8,393.4 445.9,393.2 445.9,393.3 446.0,393.9 446.1,393.6 446.2,392.5 446.3,394.0 446.4,393.7 446.5,393.0 446.6,393.6 446.7,393.8 446.8,394.1 446.9,393.3 447.0,393.1 447.1,392.9 447.2,393.5 447.3,393.1 447.4,393.9 447.5,393.4 447.6,393.8 447.7,393.4 447.8,393.2 447.9,393.0 448.0,393.9 448.1,393.0 448.2,393.7 448.3,393.9 448.4,393.6 448.5,394.1 448.6,393.5 448.7,393.4 448.8,393.6 448.9,393.3 449.0,393.6 449.1,393.5 449.1,394.1 449.2,393.5 449.3,393.9 449.4,393.7 449.5,393.5 449.6,393.4 449.7,394.2 449.8,394.2"/>
<path stroke="#ff0000" d="M60.0,387.7 60.0,389.0 60.1,386.5 60.2,387.4 60.3,384.7 60.4,387.4 60.5,386.0 60.6,385.9 60.7,385.0 60.8,388.6 60.9,385.0 61.0,386.9 61.1,387.0 61.2,387.3 61.3,387.4 61.4,387.3 61.5,388.8 61.6,386.2 61.7,386.8 61.8,388.0 61.9,386.9 62.0,383.9 62.1,386.3 62.2,387.2 62.3,384.6 62.4,387.7 62.5,386.9 62.6,387.4 62.7,387.0 62.8,385.8 62.9,385.9 63.0,387.6 63.1,386.8 63.2,386.5 63.2,387.1 63.3,386.6 63.4,387.5 63.5,387.5 63.6,386.5 63.7,387.8 63.8,386.0 63.9,386.7 64.0,387.6 64.1,387.2 64.2,387.0 64.3,386.6 64.4,386.3 64.5,386.7 64.6,387.5 64.7,384.6 64.8,385.2 64.9,386.2 65.0,385.1 65.1,385.9 65.2,386.6 65.3,386.2 65.4,382.9 65.5,385.0 65.6,384.9 65.7,386.7 65.8,385.4 65.9,383.3 66.0,385.6 66.1,384.8 66.2,384.5 66.3,385.3 66.4,384.1 66.4,385.8 66.5,385.4 66.6,386.9 66.7,382.6 66.8,385.6 66.9,385.9 67.0,384.2 67.1,386.6 67.2,386.0 67.3,387.0 67.4,385.9 67.5,386.4 67.6,385.2 67.7,386.0 67.8,386.6 67.9,386.2 68.0,386.0 68.1,386.5 68.2,384.6 68.3,384.9 68.4,385.6 68.5,387.3 68.6,385.1 68.7,387.4 68.8,385.5 68.9,385.6 69.0,386.4 69.1,386.7 69.2,386.5 69.3,382.9 69.4,385.9 69.5,385.7 69.5,383.8 69.6,383.1 69.7,380.8 69.8,379.8 69.9,381.4 70.0,380.6 70.1,384.9 70.2,385.7 70.3,385.2 70.4,384.1 70.5,387.0 70.6,385.0 70.7,385.4 70.8,384.4 70.9,385.1 71.0,386.0 71.1,386.4 71.2,387.5 71.3,383.9 71.4,387.2 71.5,385.8 71.6,383.0 71.7,385.8 71.8,384.4 71.9,385.5 72.0,384.3 72.1,385.1 72.2,385.9 72.3,383.4 72.4,385.5 72.5,387.0 72.6,385.6 72.7,384.4 72.7,386.6 72.8,384.1 72.9,384.1 73.0,382.3 73.1,386.0 73.2,384.2 73.3,387.3 73.4,385.7 73.5,385.0 73.6,384.5 73.7,385.2 73.8,385.2 73.9,385.9 74.0,385.7 74.1,384.6 74.2,384.3 74.3,384.2 74.4,383.7 74.5,383.4 74.6,387.3 74.7,385.7 74.8,385.2 74.9,385.9 75.0,383.6 75.1,384.0 75.2,385.1 75.3,384.8 75.4,383.3 75.5,385.4 75.6,385.4 75.7,383.7 75.8,384.3 75.9,383.0 75.9,384.4 76.0,383.9 76.1,385.7 76.2,386.2 76.3,384.9 76.4,387.2 76.5,384.3 76.6,383.6 76.7,384.8 76.8,385.2 76.9,383.4 77.0,384.9 77.1,383.5 77.2,381.9 77.3,383.9 77.4,383.6 77.5,384.2 77.6,384.5 77.7,384.4 77.8,384.7 77.9,383.3 78.0,387.0 78.1,385.1 78.2,383.9 78.3,385.9 78.4,384.9 78.5,385.7 78.6,384.2 78.7,383.6 78.8,382.8 78.9,384.0 79.0,385.7 79.1,384.4 79.1,383.9 79.2,382.8 79.3,387.1 79.4,384.2 79.5,387.0 79.6,383.7 79.7,384.1 79.8,384.0 79.9,383.4 80.0,384.1 80.1,385.5 80.2,384.2 80.3,383.0 80.4,384.8 80.5,384.6 80.6,386.3 80.7,383.0 80.8,385.3 80.9,385.6 81.0,385.2 81.1,385.8 81.2,384.9 81.3,382.8 81.4,383.5 81.5,382.6 81.6,382.5 81.7,385.8 81.8,383.9 81.9,382.5 82.0,381.4 82.1,386.4 82.2,386.5 82.3,383.8 82.3,384.9 82.4,385.8 82.5,383.9 82.6,385.5 82.7,386.9 82.8,384.5 82.9,384.3 83.0,383.6 83.1,383.1 83.2,384.2 83.3,384.7 83.4,385.3 83.5,386.7 83.6,385.0 83.7,383.0 83.8,383.5 83.9,381.5 84.0,384.6 84.1,386.8 84.2,383.2 84.3,382.9 84.4,386.0 84.5,386.6 84.6,384.1 84.7,383.3 84.8,385.9 84.9,384.8 85.0,385.4 85.1,386.0 85.2,386.2 85.3,384.2 85.4,384.9 85.5,385.3 85.5,386.8 85.6,382.0 85.7,385.7 85.8,384.6 85.9,386.0 86.0,383.9 86.1,386.6 86.2,384.4 86.3,384.8 86.4,383.3 86.5,386.0 86.6,385.4 86.7,384.9 86.8,381.7 86.9,386.6 87.0,384.2 87.1,385.5 87.2,384.2 87.3,383.8 87.4,384.5 87.5,384.3 87.6,384.3 87.7,385.4 87.8,384.4 87.9,384.1 88.0,380.4 88.1,379.0 88.2,380.4 88.3,382.1 88.4,383.8 88.5,384.1 88.6,383.3 88.7,387.2 88.7,384.3 88.8,384.9 88.9,385.0 89.0,386.7 89.1,384.2 89.2,383.4 89.3,383.6 89.4,385.1 89.5,384.1 89.6,383.8 89.7,382.6 89.8,383.4 89.9,384.8 90.0,384.9 90.1,384.8 90.2,384.8 90.3,385.7 90.4,384.1 90.5,386.0 90.6,386.2 90.7,384.7 90.8,385.9 90.9,385.5 91.0,387.4 91.1,384.1 91.2,385.2 91.3,385.4 91.4,384.6 91.5,385.0 91.6,386.2 91.7,382.6 91.8,385.9 91.9,384.0 91.9,382.9 92.0,386.1 92.1,385.2 92.2,386.4 92.3,384.0 92.4,385.8 92.5,386.8 92.6,383.7 92.7,384.2 92.8,386.6 92.9,383.9 93.0,385.2 93.1,381.9 93.2,383.2 93.3,386.2 93.4,385.9 93.5,386.7 93.6,385.4 93.7,385.5 93.8,384.6 93.9,385.5 94.0,387.5 94.1,386.6 94.2,383.8 94.3,384.1 94.4,385.8 94.5,385.8 94.6,385.9 94.7,385.6 94.8,387.8 94.9,384.5 95.0,386.6 95.1,385.5 95.1,387.9 95.2,385.4 95.3,384.0 95.4,387.9 95.5,383.8 95.6,385.2 95.7,386.7 95.8,387.9 95.9,384.3 96.0,385.5 96.1,385.1 96.2,386.2 96.3,386.9 96.4,384.8 96.5,387.1 96.6,384.8 96.7,388.0 96.8,387.1 96.9,387.8 97.0,384.3 97.1,388.0 97.2,387.4 97.3,385.2 97.4,385.7 97.5,383.2 97.6,383.7 97.7,385.3 97.8,385.2 97.9,388.1 98.0,385.6 98.1,381.0 98.2,374.7 98.2,371.3 98.3,374.9 98.4,381.5 98.5,383.5 98.6,385.4 98.7,386.6 98.8,386.5 98.9,385.8 99.0,387.1 99.1,386.6 99.2,388.3 99.3,385.4 99.4,385.1 99.5,385.8 99.6,385.7 99.7,385.8 99.8,383.8 99.9,386.1 100.0,388.0 100.1,387.7 100.2,385.5 100.3,385.0 100.4,385.4 100.5,385.3 100.6,386.2 100.7,388.3 100.8,387.3 100.9,388.4 101.0,387.0 101.1,388.2 101.2,386.4 101.3,386.8 101.4,388.5 101.4,385.7 101.5,385.7 101.6,388.3 101.7,386.5 101.8,385.8 101.9,387.0 102.0,385.7 102.1,386.5 102.2,385.4 102.3,386.5 102.4,387.0 102.5,386.2 102.6,385.9 102.7,386.5 102.8,387.4 102.9,387.8 103.0,387.3 103.1,387.6 103.2,386.7 103.3,386.7 103.4,387.1 103.5,387.0 103.6,386.8 103.7,385.1 103.8,385.6 103.9,387.8 104.0,386.6 104.1,387.5 104.2,387.2 104.3,387.4 104.4,387.9 104.5,388.8 104.6,389.0 104.6,387.0 104.7,385.8 104.8,388.3 104.9,386.7 105.0,387.7 105.1,387.0 105.2,388.3 105.3,387.6 105.4,387.5 105.5,389.1 105.6,387.1 105.7,387.6 105.8,389.2 105.9,386.7 106.0,387.5 106.1,387.2 106.2,387.1 106.3,388.0 106.4,388.8 106.5,388.1 106.6,388.1 106.7,385.0 106.8,385.5 106.9,388.2 107.0,388.1 107.1,387.3 107.2,387.0 107.3,388.5 107.4,388.9 107.5,385.5 107.6,386.5 107.7,389.4 107.8,389.4 107.8,388.7 107.9,387.5 108.0,387.2 108.1,388.2 108.2,389.5 108.3,387.6 108.4,387.2 108.5,387.9 108.6,388.5 108.7,387.3 108.8,388.0 108.9,389.2 109.0,387.9 109.1,389.5 109.2,386.9 109.3,387.5 109.4,389.2 109.5,387.8 109.6,386.7 109.7,389.7 109.8,388.3 109.9,386.3 110.0,389.7 110.1,388.3 110.2,389.8 110.3,388.3 110.4,389.8 110.5,389.8 110.6,388.8 110.7,388.1 110.8,387.8 110.9,387.8 111.0,387.0 111.0,387.5 111.1,387.5 111.2,389.4 111.3,388.5 111.4,384.9 111.5,385.9 111.6,387.5 111.7,387.6 111.8,387.3 111.9,388.9 112.0,386.3 112.1,388.9 112.2,388.6 112.3,386.1 112.4,390.0 112.5,388.1 112.6,390.1 112.7,389.3 112.8,388.7 112.9,389.0 113.0,388.4 113.1,389.4 113.2,388.7 113.3,389.9 113.4,389.1 113.5,390.2 113.6,388.0 113.7,390.1 113.8,388.0 113.9,389.2 114.0,389.1 114.1,387.5 114.2,388.7 114.2,390.3 114.3,388.3 114.4,390.3 114.5,388.5 114.6,389.3 114.7,390.3 114.8,388.8 114.9,389.2 115.0,386.8 115.1,389.4 115.2,386.9 115.3,387.5 115.4,389.6 115.5,389.8 115.6,387.6 115.7,389.1 115.8,388.8 115.9,389.3 116.0,390.3 116.1,389.4 116.2,390.0 116.3,390.5 116.4,389.4 116.5,387.3 116.6,387.5 116.7,389.2 116.8,389.0 116.9,388.6 117.0,387.8 117.1,388.9 117.2,389.7 117.3,389.6 117.4,388.1 117.4,386.6 117.5,389.9 117.6,390.6 117.7,388.5 117.8,389.4 117.9,389.2 118.0,388.1 118.1,389.3 118.2,390.7 118.3,390.7 118.4,389.4 118.5,390.5 118.6,389.1 118.7,390.7 118.8,389.8 118.9,390.8 119.0,389.8 119.1,389.9 119.2,388.9 119.3,388.2 119.4,389.7 119.5,390.4 119.6,387.6 119.7,389.2 119.8,389.0 119.9,389.0 120.0,388.2 120.1,388.6 120.2,389.0 120.3,388.9 120.4,390.5 120.5,390.2 120.6,389.8 120.6,389.6 120.7,389.7 120.8,389.4 120.9,389.7 121.0,390.1 121.1,391.0 121.2,389.0 121.3,389.2 121.4,390.6 121.5,389.3 121.6,389.4 121.7,389.7 121.8,391.1 121.9,391.0 122.0,390.4 122.1,388.4 122.2,390.7 122.3,390.2 122.4,390.9 122.5,390.4 122.6,389.6 122.7,391.2 122.8,391.2 122.9,389.3 123.0,389.9 123.1,390.5 123.2,389.1 123.3,389.1 123.4,391.2 123.5,390.2 123.6,389.0 123.7,390.6 123.8,390.3 123.8,389.2 123.9,390.3 124.0,391.2 124.1,390.7 124.2,391.3 124.3,389.6 124.4,391.3 124.5,389.3 124.6,391.3 124.7,390.1 124.8,391.4 124.9,390.5 125.0,389.3 125.1,389.2 125.2,389.1 125.3,390.3 125.4,390.2 125.5,390.1 125.6,389.7 125.7,390.6 125.8,389.3 125.9,390.0 126.0,389.3 126.1,389.9 126.2,389.8 126.3,391.0 126.4,390.7 126.5,391.5 126.6,390.6 126.7,390.5 126.8,389.7 126.9,391.5 127.0,387.7 127.0,390.5 127.1,389.4 127.2,389.6 127.3,391.6 127.4,390.7 127.5,389.3 127.6,391.6 127.7,389.9 127.8,391.3 127.9,390.9 128.0,390.4 128.1,391.6 128.2,390.4 128.3,391.1 128.4,391.2 128.5,390.0 128.6,387.7 128.7,390.3 128.8,390.2 128.9,390.7 129.0,391.2 129.1,390.4 129.2,389.4 129.3,390.5 129.4,390.0 129.5,390.9 129.6,388.7 129.7,391.8 129.8,390.2 129.9,390.3 130.0,390.5 130.1,391.6 130.1,391.6 130.2,390.9 130.3,390.7 130.4,391.7 130.5,391.6 130.6,390.3 130.7,389.9 130.8,391.2 130.9,391.3 131.0,391.3 131.1,388.8 131.2,390.4 131.3,390.8 131.4,390.0 131.5,389.0 131.6,389.9 131.7,391.8 131.8,390.9 131.9,391.1 132.0,391.1 132.1,391.8 132.2,391.1 132.3,391.7 132.4,390.6 132.5,390.8 132.6,391.9 132.7,391.9 132.8,391.2 132.9,390.3 133.0,390.5 133.1,390.9 133.2,391.9 133.3,391.2 133.3,391.4 133.4,391.1 133.5,391.8 133.6,391.2 133.7,391.4 133.8,388.8 133.9,390.3 134.0,391.0 134.1,390.9 134.2,391.0 134.3,390.8 134.4,391.2 134.5,390.9 134.6,390.1 134.7,390.3 134.8,390.7 134.9,389.9 135.0,390.8 135.1,391.7 135.2,391.9 135.3,391.5 135.4,391.0 135.5,390.6 135.6,390.1 135.7,391.4 135.8,391.6 135.9,390.4 136.0,390.1 136.1,391.3 136.2,390.7 136.3,389.9 136.4,390.7 136.5,391.0 136.5,392.0 136.6,390.0 136.7,390.5 136.8,390.9 136.9,391.3 137.0,391.9 137.1,391.1 137.2,391.1 137.3,390.2 137.4,391.9 137.5,389.9 137.6,391.0 137.7,390.1 137.8,391.7 137.9,390.8 138.0,390.1 138.1,391.0 138.2,392.0 138.3,391.3 138.4,390.7 138.5,392.0 138.6,392.0 138.7,390.9 138.8,391.8 138.9,390.6 139.0,391.9 139.1,392.0 139.2,391.6 139.3,390.0 139.4,391.7 139.5,391.1 139.6,390.9 139.7,391.8 139.7,390.3 139.8,391.0 139.9,390.8 140.0,392.1 140.1,392.1 140.2,392.1 140.3,391.2 140.4,391.3 140.5,390.6 140.6,390.0 140.7,391.3 140.8,391.3 140.9,390.8 141.0,390.0 141.1,391.7 141.2,390.7 141.3,391.3 141.4,391.4 141.5,390.6 141.6,391.7 141.7,391.9 141.8,390.7 141.9,391.2 142.0,391.3 142.1,391.3 142.2,390.8 142.3,391.4 142.4,390.6 142.5,390.9 142.6,390.1 142.7,390.3 142.8,390.6 142.9,391.3 142.9,391.1 143.0,391.6 143.1,389.1 143.2,391.3 143.3,390.8 143.4,390.2 143.5,392.1 143.6,391.8 143.7,391.5 143.8,391.9 143.9,392.1 144.0,391.6 144.1,390.3 144.2,390.7 144.3,391.2 144.4,391.2 144.5,392.2 144.6,390.7 144.7,390.9 144.8,392.0 144.9,391.1 145.0,391.4 145.1,391.6 145.2,391.9 145.3,391.7 145.4,391.9 145.5,390.9 145.6,391.0 145.7,391.0 145.8,391.4 145.9,391.5 146.0,389.8 146.1,392.2 146.1,390.4 146.2,391.0 146.3,391.2 146.4,391.6 146.5,391.4 146.6,392.1 146.7,392.2 146.8,391.4 146.9,392.2 147.0,390.7 147.1,390.5 147.2,392.2 147.3,392.2 147.4,391.1 147.5,391.1 147.6,391.2 147.7,391.0 147.8,390.8 147.9,390.7 148.0,390.0 148.1,391.3 148.2,390.7 148.3,392.2 148.4,391.4 148.5,392.2 148.6,390.3 148.7,389.7 148.8,390.9 148.9,392.2 149.0,391.4 149.1,391.3 149.2,391.2 149.3,390.6 149.3,390.7 149.4,392.3 149.5,390.4 149.6,391.7 149.7,391.7 149.8,390.4 149.9,391.5 150.0,392.3 150.1,392.3 150.2,391.4 150.3,390.8 150.4,390.4 150.5,391.6 150.6,391.8 150.7,390.4 150.8,391.8 150.9,390.5 151.0,391.4 151.1,391.4 151.2,391.7 151.3,391.4 151.4,391.8 151.5,391.2 151.6,386.8 151.7,374.5 151.8,354.1 151.9,343.3 152.0,354.2 152.1,374.3 152.2,387.0 152.3,389.8 152.4,391.7 152.5,392.1 152.5,392.0 152.6,391.4 152.7,391.9 152.8,391.9 152.9,392.0 153.0,391.7 153.1,391.6 153.2,391.5 153.3,392.6 153.4,392.5 153.5,392.6 153.6,391.3 153.7,391.1 153.8,391.0 153.9,391.8 154.0,391.1 154.1,391.9 154.2,391.9 154.3,392.7 154.4,392.4 154.5,392.2 154.6,391.3 154.7,390.8 154.8,392.2 154.9,391.6 155.0,391.7 155.1,392.4 155.2,392.7 155.3,392.4 155.4,392.7 155.5,392.1 155.6,392.0 155.7,392.0 155.7,392.0 155.8,391.6 155.9,392.5 156.0,391.3 156.1,392.7 156.2,391.9 156.3,391.7 156.4,392.4 156.5,392.7 156.6,391.5 156.7,392.4 156.8,391.4 156.9,391.5 157.0,391.9 157.1,391.9 157.2,391.3 157.3,391.7 157.4,392.5 157.5,391.9 157.6,391.6 157.7,391.8 157.8,391.8 157.9,392.1 158.0,392.0 158.1,392.6 158.2,392.7 158.3,391.3 158.4,392.4 158.5,391.8 158.6,392.8 158.7,391.9 158.8,392.5 158.8,390.1 158.9,392.6 159.0,392.6 159.1,391.4 159.2,391.3 159.3,392.8 159.4,391.9 159.5,391.5 159.6,392.8 159.7,391.6 159.8,392.3 159.9,392.6 160.0,392.2 160.1,392.3 160.2,392.8 160.3,390.7 160.4,392.3 160.5,392.5 160.6,391.5 160.7,392.1 160.8,391.2 160.9,392.2 161.0,391.8 161.1,392.0 161.2,392.0 161.3,392.2 161.4,392.1 161.5,391.0 161.6,392.5 161.7,392.4 161.8,392.3 161.9,391.7 162.0,391.8 162.0,391.5 162.1,392.8 162.2,391.9 162.3,392.2 162.4,392.3 162.5,392.0 162.6,392.8 162.7,391.9 162.8,392.0 162.9,392.9 163.0,392.2 163.1,391.2 163.2,392.4 163.3,391.8 163.4,392.3 163.5,392.6 163.6,392.7 163.7,392.4 163.8,391.3 163.9,391.6 164.0,392.6 164.1,391.5 164.2,392.2 164.3,392.6 164.4,391.9 164.5,392.7 164.6,392.9 164.7,391.3 164.8,392.5 164.9,389.7 165.0,387.6 165.1,386.0 165.2,387.5 165.2,390.1 165.3,392.7 165.4,392.1 165.5,392.2 165.6,392.7 165.7,392.2 165.8,391.6 165.9,392.6 166.0,392.0 166.1,392.9 166.2,392.0 166.3,391.8 166.4,390.7 166.5,391.7 166.6,391.9 166.7,391.4 166.8,392.8 166.9,391.6 167.0,392.5 167.1,392.6 167.2,391.6 167.3,392.1 167.4,391.4 167.5,392.9 167.6,392.1 167.7,392.5 167.8,392.4 167.9,393.0 168.0,391.7 168.1,392.1 168.2,392.8 168.3,393.0 168.4,392.8 168.4,391.4 168.5,392.3 168.6,392.4 168.7,392.0 168.8,392.3 168.9,392.1 169.0,391.8 169.1,392.1 169.2,391.8 169.3,393.0 169.4,392.2 169.5,392.5 169.6,392.2 169.7,392.3 169.8,392.6 169.9,392.5 170.0,391.7 170.1,392.6 170.2,393.0 170.3,391.9 170.4,391.7 170.5,392.4 170.6,392.2 170.7,392.8 170.8,392.4 170.9,391.7 171.0,391.8 171.1,392.2 171.2,392.5 171.3,393.0 171.4,392.1 171.5,392.1 171.6,391.7 171.6,391.2 171.7,392.1 171.8,391.8 171.9,393.0 172.0,391.6 172.1,391.8 172.2,391.6 172.3,392.0 172.4,392.1 172.5,391.5 172.6,392.7 172.7,392.0 172.8,391.7 172.9,392.8 173.0,393.0 173.1,392.1 173.2,392.3 173.3,392.0 173.4,392.0 173.5,392.8 173.6,392.2 173.7,391.7 173.8,392.6 173.9,392.5 174.0,393.0 174.1,391.9 174.2,391.3 174.3,393.1 174.4,392.0 174.5,391.9 174.6,392.7 174.7,392.6 174.8,393.0 174.8,392.8 174.9,392.3 175.0,392.0 175.1,392.3 175.2,391.9 175.3,392.3 175.4,393.1 175.5,391.6 175.6,391.7 175.7,392.8 175.8,391.4 175.9,392.1 176.0,392.3 176.1,391.4 176.2,393.1 176.3,393.1 176.4,392.0 176.5,392.6 176.6,392.9 176.7,391.6 176.8,392.2 176.9,393.1 177.0,392.8 177.1,392.0 177.2,391.5 177.3,393.1 177.4,392.3 177.5,392.7 177.6,393.1 177.7,392.5 177.8,393.1 177.9,392.7 178.0,391.6 178.0,392.2 178.1,392.0 178.2,392.1 178.3,392.3 178.4,391.9 178.5,393.1 178.6,392.7 178.7,392.0 178.8,392.9 178.9,392.7 179.0,391.8 179.1,391.6 179.2,392.8 179.3,392.9 179.4,392.2 179.5,392.3 179.6,392.9 179.7,392.2 179.8,392.2 179.9,392.4 180.0,390.9 180.1,391.8 180.2,392.1 180.3,391.9 180.4,390.9 180.5,391.9 180.6,392.9 180.7,392.3 180.8,392.5 180.9,392.8 181.0,392.4 181.1,392.4 181.2,392.5 181.2,392.8 181.3,392.1 181.4,393.2 181.5,392.1 181.6,392.5 181.7,392.4 181.8,393.2 181.9,391.6 182.0,393.2 182.1,393.0 182.2,392.2 182.3,392.9 182.4,392.8 182.5,393.2 182.6,392.8 182.7,392.4 182.8,392.2 182.9,392.7 183.0,392.4 183.1,392.3 183.2,392.9 183.3,393.0 183.4,391.5 183.5,393.0 183.6,391.9 183.7,392.5 183.8,391.8 183.9,392.9 184.0,392.3 184.1,392.4 184.2,392.7 184.3,392.4 184.4,393.0 184.4,392.6 184.5,392.8 184.6,392.2 184.7,392.6 184.8,393.3 184.9,392.8 185.0,392.7 185.1,393.1 185.2,391.9 185.3,392.4 185.4,392.2 185.5,393.0 185.6,392.8 185.7,392.1 185.8,393.3 185.9,392.4 186.0,392.6 186.1,392.9 186.2,392.6 186.3,393.2 186.4,392.5 186.5,393.3 186.6,393.3 186.7,391.9 186.8,393.0 186.9,393.3 187.0,392.1 187.1,393.1 187.2,393.3 187.3,392.7 187.4,392.2 187.5,392.5 187.6,391.8 187.6,392.7 187.7,392.3 187.8,393.2 187.9,392.6 188.0,391.9 188.1,392.4 188.2,392.6 188.3,393.3 188.4,392.9 188.5,393.3 188.6,392.3 188.7,393.1 188.8,392.5 188.9,393.2 189.0,391.7 189.1,393.3 189.2,392.6 189.3,391.3 189.4,392.6 189.5,393.1 189.6,392.4 189.7,392.2 189.8,392.2 189.9,393.3 190.0,392.6 190.1,393.3 190.2,391.7 190.3,392.7 190.4,393.0 190.5,392.4 190.6,392.5 190.7,393.3 190.7,391.9 190.8,392.8 190.9,393.4 191.0,392.0 191.1,391.9 191.2,392.1 191.3,392.4 191.4,393.2 191.5,392.3 191.6,391.8 191.7,392.3 191.8,391.9 191.9,393.1 192.0,392.2 192.1,392.3 192.2,393.4 192.3,393.4 192.4,393.1 192.5,392.7 192.6,392.5 192.7,392.9 192.8,392.8 192.9,392.8 193.0,392.7 193.1,392.5 193.2,392.5 193.3,392.8 193.4,392.6 193.5,393.0 193.6,392.4 193.7,393.0 193.8,391.9 193.9,392.8 193.9,392.6 194.0,393.2 194.1,393.0 194.2,392.7 194.3,392.8 194.4,393.1 194.5,393.4 194.6,392.8 194.7,392.7 194.8,392.5 194.9,392.2 195.0,393.0 195.1,393.4 195.2,392.9 195.3,393.4 195.4,393.4 195.5,392.3 195.6,392.5 195.7,393.1 195.8,393.1 195.9,392.9 196.0,393.4 196.1,392.6 196.2,393.0 196.3,391.9 196.4,393.4 196.5,392.3 196.6,393.2 196.7,392.3 196.8,393.3 196.9,392.5 197.0,393.1 197.1,393.3 197.1,392.9 197.2,392.6 197.3,392.6 197.4,392.1 197.5,392.4 197.6,393.4 197.7,393.1 197.8,393.5 197.9,393.0 198.0,392.5 198.1,393.5 198.2,393.5 198.3,392.8 198.4,393.0 198.5,392.1 198.6,392.7 198.7,392.6 198.8,392.0 198.9,393.1 199.0,392.9 199.1,393.4 199.2,392.7 199.3,392.4 199.4,392.2 199.5,392.9 199.6,393.2 199.7,393.3 199.8,393.5 199.9,392.8 200.0,392.2 200.1,393.5 200.2,393.5 200.3,392.2 200.3,393.5 200.4,392.7 200.5,393.5 200.6,392.5 200.7,392.5 200.8,392.8 200.9,392.5 201.0,392.9 201.1,392.6 201.2,392.0 201.3,392.4 201.4,393.2 201.5,393.3 201.6,393.0 201.7,393.0 201.8,392.9 201.9,393.2 202.0,392.6 202.1,392.9 202.2,392.7 202.3,392.9 202.4,392.6 202.5,393.5 202.6,392.1 202.7,392.7 202.8,392.7 202.9,392.6 203.0,392.4 203.1,392.5 203.2,392.8 203.3,393.0 203.4,393.5 203.5,392.8 203.5,393.1 203.6,393.1 203.7,391.7 203.8,393.5 203.9,392.9 204.0,392.3 204.1,392.4 204.2,392.3 204.3,393.5 204.4,393.4 204.5,392.6 204.6,393.1 204.7,392.1 204.8,392.8 204.9,392.8 205.0,392.7 205.1,393.1 205.2,392.9 205.3,393.3 205.4,392.9 205.5,393.2 205.6,392.8 205.7,393.5 205.8,393.5 205.9,392.7 206.0,392.8 206.1,393.4 206.2,393.0 206.3,393.4 206.4,391.9 206.5,393.5 206.6,392.1 206.7,393.3 206.7,392.7 206.8,393.1 206.9,393.1 207.0,392.5 207.1,392.5 207.2,393.1 207.3,393.4 207.4,391.9 207.5,392.2 207.6,392.9 207.7,393.1 207.8,392.8 207.9,392.9 208.0,392.4 208.1,393.4 208.2,392.9 208.3,393.3 208.4,392.3 208.5,392.1 208.6,393.0 208.7,392.7 208.8,392.3 208.9,393.1 209.0,393.4 209.1,392.4 209.2,392.7 209.3,393.1 209.4,392.2 209.5,392.8 209.6,393.5 209.7,392.8 209.8,393.0 209.9,392.0 209.9,393.0 210.0,393.1 210.1,392.7 210.2,392.8 210.3,393.5 210.4,392.9 210.5,393.1 210.6,392.3 210.7,391.8 210.8,393.5 210.9,393.4 211.0,393.4 211.1,393.3 211.2,393.3 211.3,392.9 211.4,392.4 211.5,393.5 211.6,393.5 211.7,393.5 211.8,392.4 211.9,392.3 212.0,393.6 212.1,393.6 212.2,392.9 212.3,392.4 212.4,392.5 212.5,392.9 212.6,392.6 212.7,392.8 212.8,393.2 212.9,392.1 213.0,393.0 213.1,393.5 213.1,393.2 213.2,393.6 213.3,393.0 213.4,392.4 213.5,393.6 213.6,392.4 213.7,392.0 213.8,392.8 213.9,393.5 214.0,393.4 214.1,393.1 214.2,393.6 214.3,393.6 214.4,393.1 214.5,393.1 214.6,392.7 214.7,393.6 214.8,392.1 214.9,392.5 215.0,392.6 215.1,393.3 215.2,392.2 215.3,393.2 215.4,392.1 215.5,392.5 215.6,393.4 215.7,393.2 215.8,392.1 215.9,392.5 216.0,393.1 216.1,392.9 216.2,392.9 216.3,393.4 216.3,393.1 216.4,393.3 216.5,393.2 216.6,392.8 216.7,393.5 216.8,392.7 216.9,393.0 217.0,392.6 217.1,392.6 217.2,392.4 217.3,392.7 217.4,392.7 217.5,393.1 217.6,392.7 217.7,393.4 217.8,393.1 217.9,392.7 218.0,393.0 218.1,392.8 218.2,393.5 218.3,392.4 218.4,393.3 218.5,392.8 218.6,393.0 218.7,392.6 218.8,393.2 218.9,393.5 219.0,393.6 219.1,393.2 219.2,393.6 219.3,392.8 219.4,392.3 219.4,393.6 219.5,393.6 219.6,392.9 219.7,392.4 219.8,392.9 219.9,392.9 220.0,392.8 220.1,392.8 220.2,392.2 220.3,392.7 220.4,393.6 220.5,393.3 220.6,392.9 220.7,393.4 220.8,393.2 220.9,393.3 221.0,393.4 221.1,392.7 221.2,393.2 221.3,393.6 221.4,393.4 221.5,393.0 221.6,392.0 221.7,392.9 221.8,392.3 221.9,392.8 222.0,393.6 222.1,392.9 222.2,393.5 222.3,393.6 222.4,393.6 222.5,392.2 222.6,393.6 222.6,393.3 222.7,392.5 222.8,392.7 222.9,393.6 223.0,393.1 223.1,393.3 223.2,393.1 223.3,392.7 223.4,393.3 223.5,393.2 223.6,392.4 223.7,393.6 223.8,393.2 223.9,392.8 224.0,393.6 224.1,393.4 224.2,393.6 224.3,393.0 224.4,393.4 224.5,392.7 224.6,392.6 224.7,393.0 224.8,393.2 224.9,392.9 225.0,393.0 225.1,393.6 225.2,392.6 225.3,393.0 225.4,392.7 225.5,393.6 225.6,392.7 225.7,392.1 225.8,392.8 225.8,393.6 225.9,393.1 226.0,393.1 226.1,393.0 226.2,393.2 226.3,392.8 226.4,393.3 226.5,393.0 226.6,393.4 226.7,393.0 226.8,392.6 226.9,393.3 227.0,392.8 227.1,393.5 227.2,393.3 227.3,393.2 227.4,392.5 227.5,393.4 227.6,392.5 227.7,393.6 227.8,393.2 227.9,392.7 228.0,392.8 228.1,393.6 228.2,393.6 228.3,392.6 228.4,393.1 228.5,390.9 228.6,388.9 228.7,387.6 228.8,388.6 228.9,390.6 229.0,392.2 229.0,393.6 229.1,392.9 229.2,393.1 229.3,393.1 229.4,392.5 229.5,393.6 229.6,393.0 229.7,393.0 229.8,393.5 229.9,392.3 230.0,393.6 230.1,393.1 230.2,393.1 230.3,393.6 230.4,393.7 230.5,393.6 230.6,392.7 230.7,392.7 230.8,392.8 230.9,393.0 231.0,393.7 231.1,393.0 231.2,393.4 231.3,392.6 231.4,392.5 231.5,392.1 231.6,392.8 231.7,392.7 231.8,393.6 231.9,393.1 232.0,393.7 232.1,392.7 232.2,393.7 232.2,393.2 232.3,393.5 232.4,393.3 232.5,392.9 232.6,393.4 232.7,393.0 232.8,393.6 232.9,392.5 233.0,393.4 233.1,392.7 233.2,392.1 233.3,393.7 233.4,393.6 233.5,393.2 233.6,392.6 233.7,393.4 233.8,393.0 233.9,393.5 234.0,392.9 234.1,393.7 234.2,392.7 234.3,393.7 234.4,393.7 234.5,392.3 234.6,393.1 234.7,393.6 234.8,392.1 234.9,392.7 235.0,392.6 235.1,393.3 235.2,392.9 235.3,392.9 235.4,393.7 235.4,392.9 235.5,393.2 235.6,392.6 235.7,392.5 235.8,393.5 235.9,393.4 236.0,393.1 236.1,392.8 236.2,393.3 236.3,393.2 236.4,392.9 236.5,393.0 236.6,392.6 236.7,393.0 236.8,393.6 236.9,393.7 237.0,392.8 237.1,393.3 237.2,393.3 237.3,393.3 237.4,393.7 237.5,393.3 237.6,393.7 237.7,393.4 237.8,393.6 237.9,392.3 238.0,393.0 238.1,393.3 238.2,393.1 238.3,392.8 238.4,393.5 238.5,393.3 238.6,393.3 238.6,392.0 238.7,393.1 238.8,393.7 238.9,392.8 239.0,392.0 239.1,393.6 239.2,391.6 239.3,393.2 239.4,392.7 239.5,393.4 239.6,393.3 239.7,393.7 239.8,393.7 239.9,393.7 240.0,392.7 240.1,393.7 240.2,393.0 240.3,393.0 240.4,393.5 240.5,393.2 240.6,393.2 240.7,393.4 240.8,393.2 240.9,393.2 241.0,393.7 241.1,393.7 241.2,393.6 241.3,393.1 241.4,392.6 241.5,392.5 241.6,393.0 241.7,392.8 241.8,393.1 241.8,392.7 241.9,393.1 242.0,393.0 242.1,393.3 242.2,393.2 242.3,392.3 242.4,393.7 242.5,393.2 242.6,393.5 242.7,392.8 242.8,392.4 242.9,393.4 243.0,393.7 243.1,392.9 243.2,392.9 243.3,393.7 243.4,393.3 243.5,393.2 243.6,393.7 243.7,392.9 243.8,393.0 243.9,393.1 244.0,393.7 244.1,393.5 244.2,393.5 244.3,393.0 244.4,393.7 244.5,392.5 244.6,393.0 244.7,393.7 244.8,392.4 244.9,393.1 245.0,393.5 245.0,393.2 245.1,393.7 245.2,393.1 245.3,393.7 245.4,393.7 245.5,392.6 245.6,392.6 245.7,393.4 245.8,393.7 245.9,392.8 246.0,393.3 246.1,393.1 246.2,392.9 246.3,393.7 246.4,392.9 246.5,393.7 246.6,392.6 246.7,393.7 246.8,393.5 246.9,393.5 247.0,392.9 247.1,392.9 247.2,393.1 247.3,393.0 247.4,393.0 247.5,393.3 247.6,393.7 247.7,393.7 247.8,393.7 247.9,393.3 248.0,393.4 248.1,393.3 248.2,393.1 248.2,393.4 248.3,393.7 248.4,393.7 248.5,393.7 248.6,392.7 248.7,392.8 248.8,393.7 248.9,393.4 249.0,393.1 249.1,392.5 249.2,393.5 249.3,393.2 249.4,392.7 249.5,393.7 249.6,393.6 249.7,393.3 249.8,393.6 249.9,392.3 250.0,392.9 250.1,393.2 250.2,393.7 250.3,392.9 250.4,393.0 250.5,393.5 250.6,393.5 250.7,393.7 250.8,393.3 250.9,392.9 251.0,392.8 251.1,393.0 251.2,392.9 251.3,393.5 251.3,393.5 251.4,392.7 251.5,393.1 251.6,393.6 251.7,393.0 251.8,392.9 251.9,393.0 252.0,393.2 252.1,393.5 252.2,393.1 252.3,392.5 252.4,393.2 252.5,393.6 252.6,393.1 252.7,393.8 252.8,393.2 252.9,393.4 253.0,392.8 253.1,393.2 253.2,392.8 253.3,392.2 253.4,393.4 253.5,393.7 253.6,393.1 253.7,393.3 253.8,393.2 253.9,393.6 254.0,393.0 254.1,393.3 254.2,393.8 254.3,393.4 254.4,393.1 254.5,392.8 254.5,393.6 254.6,393.7 254.7,392.8 254.8,393.6 254.9,393.3 255.0,393.1 255.1,393.0 255.2,393.3 255.3,393.8 255.4,392.8 255.5,393.5 255.6,393.5 255.7,392.4 255.8,392.9 255.9,393.8 256.0,393.5 256.1,393.4 256.2,393.6 256.3,393.8 256.4,392.9 256.5,393.0 256.6,393.2 256.7,393.5 256.8,393.2 256.9,393.0 257.0,393.8 257.1,393.5 257.2,393.6 257.3,393.0 257.4,393.2 257.5,393.8 257.6,393.6 257.7,392.5 257.7,393.8 257.8,393.3 257.9,393.6 258.0,392.8 258.1,393.3 258.2,393.5 258.3,393.8 258.4,393.4 258.5,393.0 258.6,393.0 258.7,393.8 258.8,392.6 258.9,393.4 259.0,393.8 259.1,393.3 259.2,393.6 259.3,393.6 259.4,393.6 259.5,393.4 259.6,393.6 259.7,393.8 259.8,393.1 259.9,393.6 260.0,392.8 260.1,393.1 260.2,393.1 260.3,393.3 260.4,392.8 260.5,393.5 260.6,393.8 260.7,393.2 260.8,393.8 260.9,393.5 260.9,393.2 261.0,393.5 261.1,392.8 261.2,393.0 261.3,393.3 261.4,393.5 261.5,392.9 261.6,393.6 261.7,393.5 261.8,393.0 261.9,393.1 262.0,392.4 262.1,393.4 262.2,393.8 262.3,393.1 262.4,392.8 262.5,393.4 262.6,392.7 262.7,392.6 262.8,393.6 262.9,393.6 263.0,393.8 263.1,393.1 263.2,393.0 263.3,393.1 263.4,393.8 263.5,393.7 263.6,393.8 263.7,393.8 263.8,393.8 263.9,393.8 264.0,393.4 264.1,393.2 264.1,393.1 264.2,393.4 264.3,393.7 264.4,393.4 264.5,393.1 264.6,393.5 264.7,393.3 264.8,393.5 264.9,393.6 265.0,393.4 265.1,393.8 265.2,392.9 265.3,393.8 265.4,393.2 265.5,393.8 265.6,392.7 265.7,393.0 265.8,393.7 265.9,393.6 266.0,393.8 266.1,393.4 266.2,393.2 266.3,392.3 266.4,393.8 266.5,392.8 266.6,393.6 266.7,393.3 266.8,393.0 266.9,393.1 267.0,393.2 267.1,393.5 267.2,393.4 267.3,393.3 267.3,392.9 267.4,393.8 267.5,393.6 267.6,393.8 267.7,393.8 267.8,393.7 267.9,392.9 268.0,392.5 268.1,392.8 268.2,393.8 268.3,393.4 268.4,393.8 268.5,393.2 268.6,392.8 268.7,393.1 268.8,393.0 268.9,393.5 269.0,393.8 269.1,393.8 269.2,393.4 269.3,393.1 269.4,392.8 269.5,393.5 269.6,393.4 269.7,393.3 269.8,392.9 269.9,393.4 270.0,393.8 270.1,392.9 270.2,393.2 270.3,393.2 270.4,393.8 270.5,393.4 270.5,393.8 270.6,393.8 270.7,393.5 270.8,393.6 270.9,393.2 271.0,392.8 271.1,393.4 271.2,392.6 271.3,393.7 271.4,393.1 271.5,393.8 271.6,393.4 271.7,393.5 271.8,393.5 271.9,393.2 272.0,393.8 272.1,393.4 272.2,393.8 272.3,393.4 272.4,393.2 272.5,393.6 272.6,393.6 272.7,393.8 272.8,393.2 272.9,393.7 273.0,393.2 273.1,393.8 273.2,392.8 273.3,393.8 273.4,392.9 273.5,393.6 273.6,393.2 273.7,393.5 273.7,393.1 273.8,393.4 273.9,392.9 274.0,393.1 274.1,393.1 274.2,392.7 274.3,393.7 274.4,392.9 274.5,393.4 274.6,393.9 274.7,393.2 274.8,393.5 274.9,392.7 275.0,393.6 275.1,393.4 275.2,393.3 275.3,393.9 275.4,393.2 275.5,393.9 275.6,392.8 275.7,392.7 275.8,393.4 275.9,393.9 276.0,393.4 276.1,393.4 276.2,393.1 276.3,393.6 276.4,393.9 276.5,393.5 276.6,393.8 276.7,392.7 276.8,393.7 276.9,393.7 276.9,393.5 277.0,393.9 277.1,393.6 277.2,393.5 277.3,393.6 277.4,393.5 277.5,392.9 277.6,393.3 277.7,393.9 277.8,393.6 277.9,393.1 278.0,393.7 278.1,393.4 278.2,393.5 278.3,393.2 278.4,393.5 278.5,393.5 278.6,393.8 278.7,393.3 278.8,393.8 278.9,392.7 279.0,393.5 279.1,393.5 279.2,393.1 279.3,393.5 279.4,393.4 279.5,393.5 279.6,393.8 279.7,393.8 279.8,393.7 279.9,393.0 280.0,393.7 280.0,393.6 280.1,393.6 280.2,393.2 280.3,392.6 280.4,393.8 280.5,393.2 280.6,393.4 280.7,393.6 280.8,393.2 280.9,393.9 281.0,393.1 281.1,393.4 281.2,393.9 281.3,392.8 281.4,393.1 281.5,393.0 281.6,393.9 281.7,393.6 281.8,393.7 281.9,393.2 282.0,392.9 282.1,393.9 282.2,393.5 282.3,393.5 282.4,393.0 282.5,393.5 282.6,393.9 282.7,393.6 282.8,393.9 282.9,393.8 283.0,393.5 283.1,393.7 283.2,393.4 283.2,393.9 283.3,392.5 283.4,392.9 283.5,393.2 283.6,393.9 283.7,393.9 283.8,393.8 283.9,393.6 284.0,392.5 284.1,392.9 284.2,393.7 284.3,393.0 284.4,393.0 284.5,393.5 284.6,393.0 284.7,393.3 284.8,393.8 284.9,393.9 285.0,393.5 285.1,393.1 285.2,393.9 285.3,393.9 285.4,393.3 285.5,393.9 285.6,392.7 285.7,393.7 285.8,393.2 285.9,392.7 286.0,393.9 286.1,393.9 286.2,392.6 286.3,393.6 286.4,393.6 286.4,393.4 286.5,393.1 286.6,393.0 286.7,393.5 286.8,393.6 286.9,393.5 287.0,393.4 287.1,393.0 287.2,393.5 287.3,392.8 287.4,393.9 287.5,393.3 287.6,392.8 287.7,393.0 287.8,393.4 287.9,393.9 288.0,393.8 288.1,393.6 288.2,393.4 288.3,393.6 288.4,393.9 288.5,393.8 288.6,393.3 288.7,393.2 288.8,393.9 288.9,393.7 289.0,393.9 289.1,393.8 289.2,392.1 289.3,393.5 289.4,393.7 289.5,393.8 289.6,393.9 289.6,393.9 289.7,393.6 289.8,393.7 289.9,393.0 290.0,393.9 290.1,393.4 290.2,393.0 290.3,393.9 290.4,393.3 290.5,394.0 290.6,393.3 290.7,393.0 290.8,393.6 290.9,393.4 291.0,393.8 291.1,393.4 291.2,393.1 291.3,393.6 291.4,393.6 291.5,393.4 291.6,393.2 291.7,394.0 291.8,393.5 291.9,393.8 292.0,393.4 292.1,393.2 292.2,393.5 292.3,393.1 292.4,394.0 292.5,393.7 292.6,394.0 292.7,393.6 292.8,393.5 292.8,393.7 292.9,394.0 293.0,393.6 293.1,393.8 293.2,393.3 293.3,393.7 293.4,393.1 293.5,393.5 293.6,394.0 293.7,393.7 293.8,394.0 293.9,393.2 294.0,393.0 294.1,393.6 294.2,393.4 294.3,394.0 294.4,394.0 294.5,393.8 294.6,393.7 294.7,394.0 294.8,393.6 294.9,393.5 295.0,393.4 295.1,393.0 295.2,393.3 295.3,393.8 295.4,393.6 295.5,393.4 295.6,394.0 295.7,393.1 295.8,393.3 295.9,393.7 296.0,393.9 296.0,392.1 296.1,393.3 296.2,393.3 296.3,392.9 296.4,393.2 296.5,393.5 296.6,393.4 296.7,394.0 296.8,393.4 296.9,394.0 297.0,393.5 297.1,393.4 297.2,394.0 297.3,392.9 297.4,394.0 297.5,393.2 297.6,393.8 297.7,393.5 297.8,393.9 297.9,392.7 298.0,393.2 298.1,392.9 298.2,393.3 298.3,393.4 298.4,393.6 298.5,393.7 298.6,393.4 298.7,393.6 298.8,393.7 298.9,394.0 299.0,393.8 299.1,393.4 299.2,393.8 299.2,393.5 299.3,393.7 299.4,394.0 299.5,394.0 299.6,393.9 299.7,393.8 299.8,393.8 299.9,393.2 300.0,394.0 300.1,394.0 300.2,393.4 300.3,393.8 300.4,393.7 300.5,392.7 300.6,393.1 300.7,393.4 300.8,393.3 300.9,393.6 301.0,393.3 301.1,393.9 301.2,393.9 301.3,393.8 301.4,393.1 301.5,393.1 301.6,393.9 301.7,393.2 301.8,393.7 301.9,393.3 302.0,393.8 302.1,393.3 302.2,393.7 302.3,393.8 302.4,393.7 302.4,393.6 302.5,393.9 302.6,394.1 302.7,393.0 302.8,393.8 302.9,394.1 303.0,394.1 303.1,394.1 303.2,393.9 303.3,393.2 303.4,394.1 303.5,393.8 303.6,394.1 303.7,393.3 303.8,393.6 303.9,393.6 304.0,393.2 304.1,393.1 304.2,393.3 304.3,393.9 304.4,394.1 304.5,394.1 304.6,394.1 304.7,393.0 304.8,393.8 304.9,393.7 305.0,393.6 305.1,393.0 305.2,393.9 305.3,393.3 305.4,393.6 305.5,393.8 305.6,394.1 305.6,393.4 305.7,394.0 305.8,393.9 305.9,393.6 306.0,393.7 306.1,393.3 306.2,394.0 306.3,393.7 306.4,393.6 306.5,393.7 306.6,393.5 306.7,393.8 306.8,393.3 306.9,394.0 307.0,394.1 307.1,393.7 307.2,393.3 307.3,393.9 307.4,394.0 307.5,393.9 307.6,393.7 307.7,393.8 307.8,393.6 307.9,394.1 308.0,393.2 308.1,393.5 308.2,394.1 308.3,393.2 308.4,393.6 308.5,393.2 308.6,394.1 308.7,393.1 308.8,393.7 308.8,394.1 308.9,393.5 309.0,393.9 309.1,394.1 309.2,393.8 309.3,394.1 309.4,393.5 309.5,393.8 309.6,393.9 309.7,393.2 309.8,393.7 309.9,394.0 310.0,394.1 310.1,393.8 310.2,393.4 310.3,394.0 310.4,394.1 310.5,393.4 310.6,393.7 310.7,393.8 310.8,393.0 310.9,394.1 311.0,393.7 311.1,394.1 311.2,393.9 311.3,393.6 311.4,393.4 311.5,394.1 311.6,393.5 311.7,393.5 311.8,393.8 311.9,392.9 311.9,393.8 312.0,394.1 312.1,393.6 312.2,394.1 312.3,393.2 312.4,393.4 312.5,393.9 312.6,393.6 312.7,393.6 312.8,393.1 312.9,394.0 313.0,394.1 313.1,394.1 313.2,393.9 313.3,394.1 313.4,393.9 313.5,393.6 313.6,393.9 313.7,394.1 313.8,393.4 313.9,393.9 314.0,393.7 314.1,393.5 314.2,394.1 314.3,394.1 314.4,392.9 314.5,393.9 314.6,394.1 314.7,393.9 314.8,394.0 314.9,394.1 315.0,393.9 315.1,393.8 315.1,393.8 315.2,393.6 315.3,394.1 315.4,394.1 315.5,393.5 315.6,394.0 315.7,393.4 315.8,393.7 315.9,394.1 316.0,393.6 316.1,394.1 316.2,393.7 316.3,393.4 316.4,393.1 316.5,393.8 316.6,393.6 316.7,393.7 316.8,393.5 316.9,394.2 317.0,394.0 317.1,393.7 317.2,393.7 317.3,394.1 317.4,393.5 317.5,393.4 317.6,393.8 317.7,393.9 317.8,394.0 317.9,393.8 318.0,393.4 318.1,393.3 318.2,394.0 318.3,394.2 318.3,394.1 318.4,393.5 318.5,393.8 318.6,393.7 318.7,393.7 318.8,393.7 318.9,393.9 319.0,394.2 319.1,394.1 319.2,393.8 319.3,393.7 319.4,394.0 319.5,394.0 319.6,393.4 319.7,394.0 319.8,393.8 319.9,394.0 320.0,394.1 320.1,394.2 320.2,394.0 320.3,394.1 320.4,393.6 320.5,394.2 320.6,394.0 320.7,393.6 320.8,393.9 320.9,393.7 321.0,393.6 321.1,394.2 321.2,394.0 321.3,394.2 321.4,393.4 321.5,393.9 321.5,393.7 321.6,393.3 321.7,394.0 321.8,393.8 321.9,393.7 322.0,394.0 322.1,393.5 322.2,393.6 322.3,393.5 322.4,393.9 322.5,394.0 322.6,394.0 322.7,394.0 322.8,394.2 322.9,393.8 323.0,393.6 323.1,393.9 323.2,394.0 323.3,393.9 323.4,393.8 323.5,393.8 323.6,393.3 323.7,394.2 323.8,393.8 323.9,393.7 324.0,393.9 324.1,394.0 324.2,394.2 324.3,394.1 324.4,393.7 324.5,393.4 324.6,394.1 324.7,393.7 324.7,393.7 324.8,393.6 324.9,393.8 325.0,393.7 325.1,393.6 325.2,394.2 325.3,393.9 325.4,394.2 325.5,394.2 325.6,394.2 325.7,394.2 325.8,393.7 325.9,393.6 326.0,394.0 326.1,393.9 326.2,394.0 326.3,394.0 326.4,393.8 326.5,393.8 326.6,394.0 326.7,394.1 326.8,394.0 326.9,393.6 327.0,394.0 327.1,393.4 327.2,394.0 327.3,393.4 327.4,394.2 327.5,394.1 327.6,393.7 327.7,393.7 327.8,393.9 327.9,393.2 327.9,393.8 328.0,393.8 328.1,394.1 328.2,393.3 328.3,393.6 328.4,393.7 328.5,394.2 328.6,393.7 328.7,394.0 328.8,393.7 328.9,393.6 329.0,394.1 329.1,393.8 329.2,393.6 329.3,393.8 329.4,394.0 329.5,394.2 329.6,394.1 329.7,394.2 329.8,393.5 329.9,393.8 330.0,394.2 330.1,393.8 330.2,394.2 330.3,394.2 330.4,393.4 330.5,393.5 330.6,394.2 330.7,394.1 330.8,393.8 330.9,394.0 331.0,394.1 331.1,394.0 331.1,393.9 331.2,394.0 331.3,393.8 331.4,393.9 331.5,394.1 331.6,393.8 331.7,394.2 331.8,393.3 331.9,394.2 332.0,393.9 332.1,393.7 332.2,393.7 332.3,393.7 332.4,393.4 332.5,394.2 332.6,393.8 332.7,393.8 332.8,394.0 332.9,394.0 333.0,393.4 333.1,394.1 333.2,394.0 333.3,393.9 333.4,393.9 333.5,393.8 333.6,393.9 333.7,393.7 333.8,393.8 333.9,393.7 334.0,393.3 334.1,394.1 334.2,393.3 334.3,394.0 334.3,393.6 334.4,393.8 334.5,393.9 334.6,394.3 334.7,393.3 334.8,394.1 334.9,393.9 335.0,392.7 335.1,391.0 335.2,387.6 335.3,386.0 335.4,387.7 335.5,391.0 335.6,392.8 335.7,394.1 335.8,393.7 335.9,393.7 336.0,394.0 336.1,393.7 336.2,394.3 336.3,393.5 336.4,393.4 336.5,394.2 336.6,393.7 336.7,393.3 336.8,393.6 336.9,394.1 337.0,394.1 337.1,393.5 337.2,393.2 337.3,394.2 337.4,393.8 337.5,394.1 337.5,393.9 337.6,393.7 337.7,393.8 337.8,394.0 337.9,393.1 338.0,393.8 338.1,393.8 338.2,393.4 338.3,393.8 338.4,393.8 338.5,393.4 338.6,394.1 338.7,393.5 338.8,393.4 338.9,393.5 339.0,393.8 339.1,393.8 339.2,394.3 339.3,393.8 339.4,393.7 339.5,393.5 339.6,393.7 339.7,393.9 339.8,394.1 339.9,393.8 340.0,393.7 340.1,393.3 340.2,393.8 340.3,393.9 340.4,393.8 340.5,393.9 340.6,393.8 340.6,394.3 340.7,394.3 340.8,394.2 340.9,393.6 341.0,393.8 341.1,393.7 341.2,393.3 341.3,394.1 341.4,393.4 341.5,393.6 341.6,394.0 341.7,393.2 341.8,394.2 341.9,394.1 342.0,393.8 342.1,393.6 342.2,393.8 342.3,394.3 342.4,393.8 342.5,393.8 342.6,392.8 342.7,393.3 342.8,393.7 342.9,394.1 343.0,393.6 343.1,394.1 343.2,393.7 343.3,393.6 343.4,393.9 343.5,393.6 343.6,393.9 343.7,393.9 343.8,393.2 343.8,393.5 343.9,393.8 344.0,394.0 344.1,393.7 344.2,393.5 344.3,393.4 344.4,393.2 344.5,393.6 344.6,394.1 344.7,393.0 344.8,393.3 344.9,393.4 345.0,393.3 345.1,394.3 345.2,393.9 345.3,393.9 345.4,393.3 345.5,394.1 345.6,393.8 345.7,393.2 345.8,393.5 345.9,393.9 346.0,393.1 346.1,394.2 346.2,393.6 346.3,393.8 346.4,393.5 346.5,393.8 346.6,394.0 346.7,393.7 346.8,394.2 346.9,393.5 347.0,393.8 347.0,393.4 347.1,393.9 347.2,394.0 347.3,393.6 347.4,393.3 347.5,394.3 347.6,393.7 347.7,393.5 347.8,394.2 347.9,394.0 348.0,393.5 348.1,394.0 348.2,394.0 348.3,393.1 348.4,394.1 348.5,394.0 348.6,394.3 348.7,394.1 348.8,394.2 348.9,393.1 349.0,393.3 349.1,394.2 349.2,393.0 349.3,393.4 349.4,393.8 349.5,393.4 349.6,393.6 349.7,394.0 349.8,394.3 349.9,394.0 350.0,393.7 350.1,393.8 350.2,394.0 350.2,393.4 350.3,394.1 350.4,393.4 350.5,393.9 350.6,393.7 350.7,394.1 350.8,393.7 350.9,394.0 351.0,394.3 351.1,393.7 351.2,393.7 351.3,393.4 351.4,393.6 351.5,394.1 351.6,393.9 351.7,394.3 351.8,394.1 351.9,393.3 352.0,393.2 352.1,393.4 352.2,393.6 352.3,393.5 352.4,393.5 352.5,394.3 352.6,394.0 352.7,393.3 352.8,393.3 352.9,393.6 353.0,393.8 353.1,393.9 353.2,393.9 353.3,394.0 353.4,394.3 353.4,393.7 353.5,393.9 353.6,393.8 353.7,393.1 353.8,393.5 353.9,394.0 354.0,393.5 354.1,394.2 354.2,393.3 354.3,393.6 354.4,393.8 354.5,393.5 354.6,393.2 354.7,393.9 354.8,394.1 354.9,392.9 355.0,393.7 355.1,393.2 355.2,394.0 355.3,393.6 355.4,393.9 355.5,393.5 355.6,393.8 355.7,393.9 355.8,393.1 355.9,393.6 356.0,394.3 356.1,393.8 356.2,394.0 356.3,394.1 356.4,393.9 356.5,393.9 356.6,393.7 356.6,394.0 356.7,394.3 356.8,393.9 356.9,393.4 357.0,394.2 357.1,393.5 357.2,393.5 357.3,393.9 357.4,393.6 357.5,394.0 357.6,393.8 357.7,394.1 357.8,393.5 357.9,393.2 358.0,393.9 358.1,393.3 358.2,394.3 358.3,394.0 358.4,394.1 358.5,393.1 358.6,393.9 358.7,393.4 358.8,394.3 358.9,393.7 359.0,393.5 359.1,393.7 359.2,394.3 359.3,393.6 359.4,393.4 359.5,393.2 359.6,393.6 359.7,394.3 359.8,393.8 359.8,393.4 359.9,394.0 360.0,393.5 360.1,393.9 360.2,393.7 360.3,393.4 360.4,394.0 360.5,392.6 360.6,393.6 360.7,393.6 360.8,394.0 360.9,393.7 361.0,393.8 361.1,394.2 361.2,394.3 361.3,393.6 361.4,393.7 361.5,394.4 361.6,394.4 361.7,393.8 361.8,393.7 361.9,393.5 362.0,394.1 362.1,393.5 362.2,393.8 362.3,393.9 362.4,393.7 362.5,393.3 362.6,393.5 362.7,393.4 362.8,393.9 362.9,393.8 363.0,394.1 363.0,393.9 363.1,393.8 363.2,393.9 363.3,393.4 363.4,393.5 363.5,393.4 363.6,393.6 363.7,393.3 363.8,393.6 363.9,393.3 364.0,393.5 364.1,393.4 364.2,393.7 364.3,394.1 364.4,394.2 364.5,393.0 364.6,393.5 364.7,393.5 364.8,393.7 364.9,393.9 365.0,392.6 365.1,394.1 365.2,393.7 365.3,393.7 365.4,394.1 365.5,394.1 365.6,393.9 365.7,393.8 365.8,393.9 365.9,393.4 366.0,394.1 366.1,393.5 366.2,393.1 366.2,393.3 366.3,394.1 366.4,394.4 366.5,393.4 366.6,393.5 366.7,393.9 366.8,393.2 366.9,393.8 367.0,393.6 367.1,394.1 367.2,393.6 367.3,393.8 367.4,393.9 367.5,393.3 367.6,393.6 367.7,394.2 367.8,393.4 367.9,393.4 368.0,394.0 368.1,393.8 368.2,393.7 368.3,393.8 368.4,393.6 368.5,393.4 368.6,393.9 368.7,392.9 368.8,393.9 368.9,393.9 369.0,392.9 369.1,392.8 369.2,393.7 369.3,393.7 369.4,394.1 369.4,393.2 369.5,393.6 369.6,394.0 369.7,393.5 369.8,393.2 369.9,393.4 370.0,392.8 370.1,393.2 370.2,393.5 370.3,393.7 370.4,393.5 370.5,393.2 370.6,393.3 370.7,393.3 370.8,393.6 370.9,393.4 371.0,393.2 371.1,393.7 371.2,394.1 371.3,393.0 371.4,393.4 371.5,393.8 371.6,393.6 371.7,393.8 371.8,394.3 371.9,393.7 372.0,394.2 372.1,393.6 372.2,393.7 372.3,393.2 372.4,393.7 372.5,393.5 372.5,393.8 372.6,393.8 372.7,394.2 372.8,393.3 372.9,393.6 373.0,393.9 373.1,393.6 373.2,393.8 373.3,393.9 373.4,393.6 373.5,393.2 373.6,393.8 373.7,394.2 373.8,393.9 373.9,393.0 374.0,394.0 374.1,393.2 374.2,393.7 374.3,393.4 374.4,393.7 374.5,394.2 374.6,393.8 374.7,392.9 374.8,393.7 374.9,393.4 375.0,393.8 375.1,393.7 375.2,393.5 375.3,393.5 375.4,392.8 375.5,393.7 375.6,393.7 375.7,393.9 375.7,394.1 375.8,394.3 375.9,393.4 376.0,394.3 376.1,393.1 376.2,393.3 376.3,393.8 376.4,394.1 376.5,393.6 376.6,393.6 376.7,393.2 376.8,393.9 376.9,393.8 377.0,393.7 377.1,393.7 377.2,393.9 377.3,394.3 377.4,394.3 377.5,393.9 377.6,393.7 377.7,393.3 377.8,392.8 377.9,393.0 378.0,393.5 378.1,392.9 378.2,393.7 378.3,393.8 378.4,392.8 378.5,394.0 378.6,393.8 378.7,393.7 378.8,393.1 378.9,393.9 378.9,393.3 379.0,393.8 379.1,394.1 379.2,393.5 379.3,393.6 379.4,394.1 379.5,394.0 379.6,393.9 379.7,393.3 379.8,393.5 379.9,393.5 380.0,393.4 380.1,393.8 380.2,393.5 380.3,393.9 380.4,394.1 380.5,393.9 380.6,393.6 380.7,393.6 380.8,393.2 380.9,394.3 381.0,393.7 381.1,393.5 381.2,394.0 381.3,393.5 381.4,393.8 381.5,394.1 381.6,393.2 381.7,394.2 381.8,393.2 381.9,393.8 382.0,394.0 382.1,394.0 382.1,393.9 382.2,393.9 382.3,393.5 382.4,394.3 382.5,393.2 382.6,393.3 382.7,393.1 382.8,394.0 382.9,394.4 383.0,393.9 383.1,393.7 383.2,393.5 383.3,393.8 383.4,393.7 383.5,393.6 383.6,394.2 383.7,392.9 383.8,394.0 383.9,393.5 384.0,393.2 384.1,393.9 384.2,393.6 384.3,393.0 384.4,393.7 384.5,393.2 384.6,393.5 384.7,393.5 384.8,393.3 384.9,393.7 385.0,393.7 385.1,393.3 385.2,393.5 385.3,393.4 385.3,394.1 385.4,393.6 385.5,393.2 385.6,393.3 385.7,393.5 385.8,393.8 385.9,393.8 386.0,393.4 386.1,393.1 386.2,393.6 386.3,393.1 386.4,393.7 386.5,393.2 386.6,394.0 386.7,393.5 386.8,394.0 386.9,393.4 387.0,393.4 387.1,394.0 387.2,393.9 387.3,393.8 387.4,394.2 387.5,394.0 387.6,393.9 387.7,393.3 387.8,393.1 387.9,393.8 388.0,393.7 388.1,393.5 388.2,393.8 388.3,393.7 388.4,393.3 388.5,393.5 388.5,393.6 388.6,393.8 388.7,393.0 388.8,393.8 388.9,393.6 389.0,394.0 389.1,393.8 389.2,393.6 389.3,393.8 389.4,393.4 389.5,393.6 389.6,394.1 389.7,394.4 389.8,393.2 389.9,393.8 390.0,393.0 390.1,393.6 390.2,393.9 390.3,393.4 390.4,393.7 390.5,393.6 390.6,394.0 390.7,393.4 390.8,393.2 390.9,393.8 391.0,392.9 391.1,393.8 391.2,393.5 391.3,394.2 391.4,394.3 391.5,392.8 391.6,393.1 391.7,393.2 391.7,394.3 391.8,393.5 391.9,393.4 392.0,393.6 392.1,393.5 392.2,393.9 392.3,393.7 392.4,394.0 392.5,393.7 392.6,393.5 392.7,393.9 392.8,393.7 392.9,393.8 393.0,393.6 393.1,393.2 393.2,393.5 393.3,393.4 393.4,394.1 393.5,393.7 393.6,393.3 393.7,393.9 393.8,393.8 393.9,394.0 394.0,393.1 394.1,393.8 394.2,393.9 394.3,393.4 394.4,393.2 394.5,393.4 394.6,393.2 394.7,393.5 394.8,393.6 394.9,393.8 394.9,393.8 395.0,393.8 395.1,393.4 395.2,393.6 395.3,393.6 395.4,393.4 395.5,393.6 395.6,394.1 395.7,393.9 395.8,394.0 395.9,394.3 396.0,393.5 396.1,394.1 396.2,394.1 396.3,394.0 396.4,393.2 396.5,393.7 396.6,393.2 396.7,393.6 396.8,393.8 396.9,393.4 397.0,393.4 397.1,393.5 397.2,394.0 397.3,393.8 397.4,394.0 397.5,393.7 397.6,393.5 397.7,393.0 397.8,393.0 397.9,393.3 398.0,393.2 398.1,393.5 398.1,392.5 398.2,393.0 398.3,392.6 398.4,393.4 398.5,393.4 398.6,393.2 398.7,393.5 398.8,393.5 398.9,394.0 399.0,393.2 399.1,393.5 399.2,393.3 399.3,393.7 399.4,394.3 399.5,393.4 399.6,393.1 399.7,394.1 399.8,394.0 399.9,393.7 400.0,393.7 400.1,394.2 400.2,392.9 400.3,393.2 400.4,393.8 400.5,394.3 400.6,393.4 400.7,392.8 400.8,393.3 400.9,393.1 401.0,393.9 401.1,393.5 401.2,394.2 401.2,392.8 401.3,393.4 401.4,394.4 401.5,394.3 401.6,393.4 401.7,393.5 401.8,393.7 401.9,393.3 402.0,392.8 402.1,393.4 402.2,394.3 402.3,393.6 402.4,394.1 402.5,393.9 402.6,393.4 402.7,393.6 402.8,394.0 402.9,393.6 403.0,393.9 403.1,393.4 403.2,393.7 403.3,393.4 403.4,393.7 403.5,393.3 403.6,393.6 403.7,393.6 403.8,393.8 403.9,393.5 404.0,394.3 404.1,392.5 404.2,393.8 404.3,393.5 404.4,393.8 404.4,393.8 404.5,393.4 404.6,393.8 404.7,393.7 404.8,394.1 404.9,393.9 405.0,394.0 405.1,392.9 405.2,394.1 405.3,394.0 405.4,393.5 405.5,393.0 405.6,394.2 405.7,394.2 405.8,393.5 405.9,393.4 406.0,394.1 406.1,394.3 406.2,393.9 406.3,393.3 406.4,393.6 406.5,393.3 406.6,393.6 406.7,393.6 406.8,393.3 406.9,393.6 407.0,393.5 407.1,393.9 407.2,393.8 407.3,393.4 407.4,393.7 407.5,393.9 407.6,393.3 407.6,393.3 407.7,393.6 407.8,393.9 407.9,393.2 408.0,392.6 408.1,393.9 408.2,394.2 408.3,393.9 408.4,393.9 408.5,394.1 408.6,394.0 408.7,393.2 408.8,393.2 408.9,393.0 409.0,393.3 409.1,393.7 409.2,393.1 409.3,393.8 409.4,393.7 409.5,394.0 409.6,393.1 409.7,393.2 409.8,393.7 409.9,393.7 410.0,393.5 410.1,393.5 410.2,393.2 410.3,393.5 410.4,393.4 410.5,394.2 410.6,393.7 410.7,394.3 410.8,392.9 410.8,393.0 410.9,393.3 411.0,393.1 411.1,392.8 411.2,393.2 411.3,394.2 411.4,393.6 411.5,394.5 411.6,393.9 411.7,394.0 411.8,393.6 411.9,393.4 412.0,393.9 412.1,393.7 412.2,393.4 412.3,393.6 412.4,393.6 412.5,394.5 412.6,393.7 412.7,393.2 412.8,393.5 412.9,394.1 413.0,393.7 413.1,393.4 413.2,393.9 413.3,393.3 413.4,393.9 413.5,393.7 413.6,393.6 413.7,392.7 413.8,393.7 413.9,393.8 414.0,393.3 414.0,393.7 414.1,393.5 414.2,394.4 414.3,393.4 414.4,393.6 414.5,394.1 414.6,393.0 414.7,393.6 414.8,393.6 414.9,394.1 415.0,394.2 415.1,393.8 415.2,394.2 415.3,393.4 415.4,393.2 415.5,393.8 415.6,394.2 415.7,393.7 415.8,394.0 415.9,393.5 416.0,393.5 416.1,393.7 416.2,393.5 416.3,393.1 416.4,392.9 416.5,393.8 416.6,393.3 416.7,393.6 416.8,394.0 416.9,393.0 417.0,393.4 417.1,393.5 417.2,393.4 417.2,393.6 417.3,394.0 417.4,392.8 417.5,393.2 417.6,393.4 417.7,393.2 417.8,393.0 417.9,393.6 418.0,393.3 418.1,393.7 418.2,393.3 418.3,393.6 418.4,392.6 418.5,393.7 418.6,393.3 418.7,393.4 418.8,393.7 418.9,393.2 419.0,393.6 419.1,393.7 419.2,393.5 419.3,393.8 419.4,393.1 419.5,393.3 419.6,393.1 419.7,394.1 419.8,393.4 419.9,393.8 420.0,393.5 420.1,393.0 420.2,393.4 420.3,393.6 420.4,393.1 420.4,393.1 420.5,392.8 420.6,394.3 420.7,393.4 420.8,393.7 420.9,393.9 421.0,393.5 421.1,394.0 421.2,394.4 421.3,393.9 421.4,393.6 421.5,392.8 421.6,393.8 421.7,394.0 421.8,394.3 421.9,393.7 422.0,393.6 422.1,393.5 422.2,394.1 422.3,393.8 422.4,394.4 422.5,393.5 422.6,394.2 422.7,394.5 422.8,393.1 422.9,393.3 423.0,393.4 423.1,393.4 423.2,393.9 423.3,393.1 423.4,393.9 423.5,392.8 423.6,393.4 423.6,394.3 423.7,393.2 423.8,392.7 423.9,393.6 424.0,393.1 424.1,393.6 424.2,393.8 424.3,394.5 424.4,393.0 424.5,393.7 424.6,393.4 424.7,394.0 424.8,393.9 424.9,393.1 425.0,393.7 425.1,393.7 425.2,394.0 425.3,393.4 425.4,393.2 425.5,393.7 425.6,393.6 425.7,394.0 425.8,393.0 425.9,393.8 426.0,393.6 426.1,392.8 426.2,393.6 426.3,394.1 426.4,393.9 426.5,393.7 426.6,392.8 426.7,393.4 426.8,393.6 426.8,393.2 426.9,393.0 427.0,393.8 427.1,392.9 427.2,393.2 427.3,393.3 427.4,394.5 427.5,393.4 427.6,392.9 427.7,393.6 427.8,392.6 427.9,393.5 428.0,393.9 428.1,393.3 428.2,393.4 428.3,393.2 428.4,393.6 428.5,393.0 428.6,393.7 428.7,393.5 428.8,394.0 428.9,393.8 429.0,393.4 429.1,393.8 429.2,393.7 429.3,393.6 429.4,393.4 429.5,393.2 429.6,393.2 429.7,393.1 429.8,393.4 429.9,393.7 430.0,394.2 430.0,393.6 430.1,393.8 430.2,394.2 430.3,392.8 430.4,394.3 430.5,393.4 430.6,393.3 430.7,393.6 430.8,392.4 430.9,393.5 431.0,393.8 431.1,392.8 431.2,393.8 431.3,394.1 431.4,393.9 431.5,393.8 431.6,393.5 431.7,393.4 431.8,394.1 431.9,393.4 432.0,392.6 432.1,393.8 432.2,393.5 432.3,393.2 432.4,393.0 432.5,393.8 432.6,393.9 432.7,393.9 432.8,393.0 432.9,393.1 433.0,394.4 433.1,394.4 433.1,394.0 433.2,394.1 433.3,393.3 433.4,393.4 433.5,392.7 433.6,393.2 433.7,393.4 433.8,393.0 433.9,393.9 434.0,394.1 434.1,393.5 434.2,393.1 434.3,394.2 434.4,393.1 434.5,393.1 434.6,393.7 434.7,393.4 434.8,393.6 434.9,393.5 435.0,393.2 435.1,393.8 435.2,393.1 435.3,393.1 435.4,393.1 435.5,394.3 435.6,394.3 435.7,393.2 435.8,393.7 435.9,393.8 436.0,393.8 436.1,394.0 436.2,393.6 436.3,393.8 436.3,393.8 436.4,393.3 436.5,394.0 436.6,393.0 436.7,394.4 436.8,392.4 436.9,394.0 437.0,393.2 437.1,393.1 437.2,393.5 437.3,393.2 437.4,393.5 437.5,394.2 437.6,393.3 437.7,393.0 437.8,393.7 437.9,394.2 438.0,393.7 438.1,393.3 438.2,393.4 438.3,393.0 438.4,393.2 438.5,393.3 438.6,394.3 438.7,392.5 438.8,393.5 438.9,393.1 439.0,393.6 439.1,393.5 439.2,393.4 439.3,392.8 439.4,392.8 439.5,393.2 439.5,392.6 439.6,393.6 439.7,393.3 439.8,393.7 439.9,392.9 440.0,393.5 440.1,393.1 440.2,392.7 440.3,394.3 440.4,392.6 440.5,393.3 440.6,393.6 440.7,394.3 440.8,393.6 440.9,394.4 441.0,393.4 441.1,393.5 441.2,392.7 441.3,393.6 441.4,393.0 441.5,393.0 441.6,392.6 441.7,393.6 441.8,393.1 441.9,394.1 442.0,393.9 442.1,393.6 442.2,393.5 442.3,394.0 442.4,393.6 442.5,393.2 442.6,393.7 442.7,393.5 442.7,393.8 442.8,392.9 442.9,392.7 443.0,393.4 443.1,393.5 443.2,392.8 443.3,393.3 443.4,393.7 443.5,394.0 443.6,393.7 443.7,392.5 443.8,393.7 443.9,392.2 444.0,393.5 444.1,393.5 444.2,392.9 444.3,393.6 444.4,393.3 444.5,393.9 444.6,394.0 444.7,393.8 444.8,393.4 444.9,393.7 445.0,394.3 445.1,393.2 445.2,393.5 445.3,393.6 445.4,393.7 445.5,394.4 445.6,392.8 445.7,393.7 445.8,393.2 445.9,392.9 445.9,393.0 446.0,393.4 446.1,393.4 446.2,393.3 446.3,393.1 446.4,393.2 446.5,393.6 446.6,393.3 446.7,393.3 446.8,393.1 446.9,393.4 447.0,392.9 447.1,393.4 447.2,393.1 447.3,393.4 447.4,393.7 447.5,393.8 447.6,393.5 447.7,393.2 447.8,392.9 447.9,393.5 448.0,393.7 448.1,393.7 448.2,392.9 448.3,393.4 448.4,393.7 448.5,393.1 448.6,394.0 448.7,393.4 448.8,393.5 448.9,393.5 449.0,393.9 449.1,393.0 449.1,392.7 449.2,394.0 449.3,393.4 449.4,393.2 449.5,392.5 449.6,393.6 449.7,393.8 449.8,393.4"/>
<path stroke="#0000ff" d="M60.0,385.0 60.0,387.3 60.1,387.0 60.2,385.2 60.3,388.9 60.4,388.9 60.5,386.2 60.6,386.4 60.7,388.9 60.8,386.6 60.9,387.2 61.0,387.0 61.1,388.2 61.2,387.8 61.3,388.3 61.4,387.1 61.5,387.4 61.6,385.1 61.7,386.4 61.8,388.8 61.9,386.6 62.0,385.3 62.1,386.7 62.2,385.7 62.3,387.1 62.4,386.2 62.5,388.2 62.6,386.0 62.7,388.6 62.8,385.4 62.9,388.6 63.0,388.6 63.1,386.3 63.2,387.1 63.2,386.8 63.3,386.4 63.4,386.9 63.5,388.0 63.6,386.6 63.7,386.4 63.8,386.2 63.9,384.3 64.0,387.7 64.1,386.7 64.2,386.1 64.3,387.3 64.4,388.2 64.5,387.4 64.6,385.4 64.7,387.0 64.8,385.9 64.9,387.6 65.0,386.1 65.1,387.5 65.2,387.7 65.3,386.5 65.4,386.5 65.5,384.7 65.6,388.3 65.7,385.9 65.8,384.5 65.9,384.8 66.0,387.0 66.1,387.3 66.2,386.9 66.3,385.3 66.4,383.3 66.4,380.0 66.5,378.3 66.6,380.4 66.7,384.4 66.8,386.9 66.9,387.9 67.0,386.4 67.1,385.9 67.2,383.0 67.3,385.6 67.4,386.2 67.5,384.4 67.6,387.2 67.7,385.8 67.8,384.9 67.9,385.2 68.0,385.6 68.1,386.6 68.2,387.7 68.3,386.3 68.4,386.9 68.5,385.2 68.6,386.2 68.7,385.3 68.8,387.9 68.9,384.7 69.0,387.1 69.1,387.8 69.2,387.8 69.3,386.8 69.4,384.5 69.5,385.0 69.5,387.4 69.6,385.8 69.7,386.0 69.8,387.7 69.9,387.1 70.0,387.7 70.1,386.9 70.2,387.7 70.3,386.8 70.4,387.0 70.5,386.8 70.6,386.8 70.7,384.2 70.8,386.1 70.9,385.3 71.0,384.6 71.1,384.4 71.2,384.7 71.3,386.3 71.4,387.0 71.5,386.6 71.6,386.2 71.7,385.6 71.8,385.7 71.9,384.1 72.0,385.7 72.1,383.1 72.2,384.2 72.3,386.2 72.4,384.4 72.5,387.4 72.6,383.7 72.7,384.9 72.7,385.0 72.8,387.4 72.9,382.1 73.0,385.8 73.1,385.7 73.2,384.0 73.3,385.7 73.4,386.6 73.5,384.6 73.6,386.8 73.7,384.4 73.8,385.2 73.9,383.9 74.0,387.0 74.1,383.7 74.2,385.0 74.3,382.7 74.4,386.3 74.5,382.9 74.6,384.4 74.7,384.3 74.8,386.3 74.9,384.6 75.0,384.4 75.1,386.5 75.2,386.9 75.3,386.4 75.4,383.3 75.5,385.1 75.6,384.0 75.7,384.9 75.8,385.1 75.9,385.0 75.9,385.8 76.0,383.6 76.1,385.0 76.2,385.0 76.3,387.1 76.4,384.8 76.5,386.2 76.6,385.9 76.7,383.8 76.8,386.7 76.9,385.5 77.0,384.4 77.1,383.6 77.2,385.9 77.3,384.8 77.4,384.8 77.5,386.7 77.6,387.2 77.7,387.1 77.8,384.3 77.9,385.0 78.0,387.0 78.1,386.0 78.2,385.7 78.3,385.6 78.4,385.2 78.5,382.1 78.6,386.2 78.7,384.9 78.8,386.2 78.9,386.0 79.0,386.3 79.1,385.4 79.1,385.8 79.2,384.6 79.3,384.8 79.4,386.3 79.5,382.4 79.6,386.6 79.7,384.5 79.8,382.1 79.9,386.0 80.0,383.2 80.1,383.1 80.2,384.5 80.3,387.0 80.4,383.0 80.5,384.9 80.6,385.7 80.7,383.2 80.8,386.0 80.9,383.5 81.0,385.7 81.1,384.2 81.2,386.4 81.3,385.5 81.4,386.2 81.5,385.9 81.6,384.7 81.7,385.1 81.8,384.6 81.9,383.1 82.0,385.0 82.1,386.9 82.2,385.3 82.3,384.8 82.3,383.5 82.4,383.4 82.5,383.5 82.6,385.2 82.7,383.9 82.8,386.8 82.9,383.0 83.0,384.2 83.1,384.1 83.2,385.3 83.3,384.7 83.4,385.7 83.5,384.0 83.6,386.6 83.7,383.4 83.8,384.0 83.9,381.9 84.0,384.8 84.1,384.9 84.2,384.5 84.3,384.7 84.4,384.9 84.5,386.2 84.6,386.2 84.7,385.5 84.8,385.1 84.9,386.3 85.0,386.3 85.1,385.1 85.2,383.7 85.3,385.0 85.4,383.8 85.5,383.4 85.5,383.7 85.6,385.4 85.7,385.3 85.8,386.8 85.9,385.8 86.0,384.2 86.1,386.3 86.2,383.0 86.3,382.9 86.4,385.4 86.5,383.6 86.6,386.9 86.7,386.4 86.8,385.5 86.9,384.9 87.0,385.2 87.1,386.2 87.2,382.3 87.3,384.6 87.4,384.6 87.5,384.1 87.6,384.8 87.7,385.4 87.8,385.8 87.9,387.1 88.0,383.1 88.1,386.4 88.2,387.1 88.3,386.2 88.4,387.1 88.5,382.5 88.6,384.7 88.7,383.3 88.7,383.2 88.8,384.4 88.9,384.5 89.0,386.2 89.1,385.4 89.2,386.1 89.3,385.2 89.4,386.2 89.5,383.6 89.6,384.3 89.7,385.5 89.8,387.3 89.9,384.4 90.0,384.2 90.1,385.5 90.2,387.1 90.3,384.8 90.4,383.9 90.5,387.0 90.6,382.4 90.7,380.4 90.8,378.3 90.9,379.4 91.0,382.8 91.1,384.2 91.2,385.8 91.3,385.5 91.4,382.4 91.5,383.8 91.6,386.0 91.7,386.1 91.8,385.6 91.9,382.7 91.9,385.3 92.0,384.2 92.1,386.1 92.2,387.3 92.3,383.9 92.4,385.8 92.5,386.7 92.6,386.6 92.7,386.6 92.8,386.5 92.9,387.6 93.0,384.2 93.1,385.3 93.2,384.5 93.3,386.3 93.4,385.4 93.5,385.6 93.6,384.3 93.7,384.8 93.8,385.4 93.9,386.7 94.0,387.5 94.1,386.9 94.2,386.7 94.3,386.6 94.4,387.5 94.5,383.8 94.6,385.6 94.7,387.8 94.8,387.4 94.9,387.7 95.0,385.7 95.1,384.6 95.1,387.3 95.2,385.2 95.3,386.4 95.4,384.6 95.5,384.3 95.6,385.7 95.7,385.2 95.8,386.1 95.9,386.6 96.0,387.6 96.1,385.7 96.2,386.2 96.3,386.7 96.4,386.3 96.5,386.4 96.6,387.5 96.7,386.9 96.8,384.8 96.9,386.5 97.0,384.5 97.1,387.7 97.2,388.0 97.3,386.1 97.4,385.3 97.5,387.1 97.6,385.5 97.7,385.2 97.8,385.0 97.9,386.3 98.0,385.4 98.1,383.9 98.2,378.3 98.2,375.9 98.3,377.9 98.4,383.7 98.5,386.3 98.6,387.5 98.7,385.3 98.8,388.2 98.9,387.8 99.0,383.9 99.1,385.7 99.2,388.2 99.3,386.6 99.4,385.5 99.5,385.9 99.6,386.8 99.7,387.6 99.8,385.6 99.9,386.6 100.0,385.6 100.1,386.1 100.2,387.2 100.3,384.9 100.4,387.3 100.5,386.1 100.6,387.5 100.7,387.0 100.8,387.0 100.9,387.6 101.0,386.5 101.1,385.2 101.2,384.5 101.3,385.1 101.4,387.0 101.4,385.1 101.5,386.4 101.6,384.7 101.7,388.4 101.8,385.1 101.9,387.7 102.0,385.6 102.1,387.5 102.2,385.9 102.3,387.4 102.4,388.7 102.5,388.2 102.6,387.4 102.7,387.1 102.8,388.7 102.9,388.6 103.0,388.0 103.1,387.4 103.2,386.9 103.3,388.2 103.4,388.8 103.5,386.9 103.6,387.6 103.7,386.2 103.8,387.9 103.9,386.5 104.0,388.4 104.1,387.0 104.2,387.2 104.3,386.8 104.4,388.5 104.5,387.5 104.6,388.4 104.6,387.6 104.7,386.7 104.8,384.0 104.9,387.4 105.0,386.7 105.1,387.4 105.2,386.2 105.3,387.0 105.4,386.4 105.5,387.2 105.6,384.8 105.7,386.0 105.8,389.2 105.9,387.3 106.0,387.6 106.1,389.2 106.2,388.7 106.3,388.2 106.4,388.6 106.5,387.6 106.6,389.3 106.7,386.9 106.8,386.9 106.9,387.4 107.0,388.2 107.1,387.8 107.2,388.4 107.3,386.6 107.4,387.3 107.5,385.7 107.6,388.3 107.7,386.3 107.8,388.6 107.8,388.2 107.9,389.2 108.0,387.4 108.1,388.1 108.2,387.3 108.3,386.4 108.4,388.1 108.5,387.7 108.6,387.1 108.7,388.2 108.8,388.7 108.9,387.8 109.0,387.6 109.1,387.3 109.2,387.3 109.3,388.9 109.4,387.7 109.5,386.9 109.6,388.8 109.7,387.9 109.8,389.0 109.9,388.1 110.0,386.4 110.1,388.1 110.2,389.4 110.3,388.0 110.4,388.1 110.5,387.2 110.6,389.8 110.7,389.4 110.8,388.5 110.9,389.8 111.0,387.2 111.0,389.9 111.1,389.4 111.2,389.9 111.3,389.2 111.4,387.7 111.5,387.9 111.6,387.6 111.7,387.9 111.8,390.0 111.9,388.3 112.0,390.0 112.1,389.2 112.2,389.1 112.3,389.2 112.4,388.2 112.5,389.5 112.6,386.9 112.7,388.1 112.8,387.5 112.9,388.0 113.0,387.8 113.1,388.8 113.2,386.8 113.3,389.9 113.4,388.3 113.5,388.8 113.6,389.1 113.7,388.5 113.8,389.6 113.9,388.0 114.0,388.1 114.1,388.8 114.2,388.2 114.2,390.0 114.3,390.3 114.4,389.6 114.5,389.2 114.6,386.5 114.7,389.2 114.8,388.0 114.9,388.2 115.0,386.9 115.1,388.9 115.2,388.4 115.3,389.3 115.4,390.0 115.5,390.1 115.6,389.9 115.7,387.7 115.8,388.9 115.9,389.3 116.0,389.2 116.1,389.7 116.2,389.2 116.3,389.3 116.4,388.6 116.5,388.4 116.6,390.5 116.7,389.0 116.8,388.0 116.9,390.3 117.0,389.6 117.1,389.2 117.2,388.3 117.3,388.8 117.4,389.6 117.4,388.9 117.5,388.4 117.6,389.0 117.7,387.7 117.8,389.0 117.9,390.4 118.0,390.2 118.1,389.6 118.2,389.7 118.3,388.9 118.4,389.2 118.5,387.9 118.6,388.8 118.7,388.2 118.8,390.3 118.9,390.0 119.0,389.0 119.1,389.5 119.2,389.0 119.3,389.4 119.4,390.2 119.5,388.1 119.6,388.6 119.7,390.9 119.8,390.3 119.9,389.7 120.0,389.1 120.1,389.8 120.2,390.9 120.3,389.0 120.4,389.9 120.5,388.7 120.6,389.5 120.6,388.9 120.7,389.1 120.8,389.0 120.9,390.3 121.0,388.9 121.1,389.7 121.2,391.0 121.3,390.2 121.4,390.2 121.5,389.5 121.6,389.3 121.7,390.9 121.8,389.3 121.9,390.0 122.0,390.9 122.1,389.2 122.2,390.6 122.3,391.0 122.4,389.3 122.5,389.2 122.6,390.6 122.7,389.1 122.8,389.2 122.9,390.5 123.0,388.4 123.1,390.1 123.2,389.9 123.3,391.2 123.4,389.6 123.5,390.7 123.6,389.8 123.7,391.2 123.8,389.2 123.8,388.9 123.9,388.6 124.0,391.3 124.1,389.7 124.2,389.9 124.3,391.3 124.4,390.9 124.5,390.3 124.6,389.1 124.7,391.0 124.8,390.1 124.9,390.3 125.0,390.0 125.1,390.6 125.2,389.6 125.3,389.5 125.4,391.4 125.5,389.4 125.6,391.0 125.7,390.6 125.8,389.5 125.9,390.3 126.0,389.9 126.1,389.8 126.2,389.9 126.3,390.9 126.4,391.2 126.5,389.9 126.6,389.9 126.7,390.2 126.8,390.6 126.9,389.8 127.0,390.5 127.0,391.6 127.1,390.3 127.2,390.1 127.3,389.9 127.4,391.3 127.5,391.2 127.6,390.3 127.7,390.9 127.8,390.6 127.9,389.9 128.0,390.3 128.1,389.2 128.2,390.4 128.3,389.3 128.4,389.8 128.5,388.7 128.6,390.7 128.7,390.7 128.8,389.7 128.9,391.1 129.0,391.1 129.1,390.5 129.2,390.4 129.3,391.7 129.4,390.5 129.5,391.0 129.6,390.8 129.7,390.6 129.8,390.9 129.9,390.0 130.0,390.4 130.1,390.9 130.1,390.7 130.2,390.0 130.3,390.2 130.4,389.8 130.5,390.9 130.6,390.7 130.7,389.3 130.8,390.8 130.9,389.5 131.0,390.2 131.1,391.1 131.2,391.8 131.3,390.3 131.4,391.3 131.5,391.3 131.6,391.8 131.7,389.9 131.8,390.7 131.9,390.8 132.0,390.5 132.1,390.7 132.2,390.8 132.3,390.5 132.4,391.0 132.5,391.9 132.6,390.3 132.7,390.5 132.8,390.8 132.9,389.7 133.0,391.9 133.1,391.9 133.2,389.8 133.3,390.6 133.3,391.9 133.4,391.2 133.5,390.4 133.6,391.8 133.7,390.5 133.8,389.4 133.9,389.9 134.0,390.9 134.1,390.7 134.2,391.6 134.3,390.8 134.4,391.2 134.5,391.6 134.6,391.9 134.7,389.6 134.8,390.9 134.9,391.7 135.0,391.2 135.1,389.9 135.2,389.8 135.3,391.4 135.4,390.8 135.5,390.3 135.6,391.2 135.7,391.8 135.8,391.7 135.9,391.0 136.0,391.5 136.1,391.9 136.2,391.2 136.3,390.3 136.4,390.5 136.5,391.2 136.5,389.7 136.6,391.6 136.7,391.1 136.8,392.0 136.9,390.5 137.0,391.1 137.1,392.0 137.2,391.6 137.3,389.8 137.4,390.5 137.5,391.0 137.6,390.4 137.7,392.0 137.8,391.6 137.9,392.0 138.0,391.6 138.1,391.3 138.2,390.7 138.3,390.4 138.4,390.4 138.5,389.2 138.6,391.4 138.7,391.1 138.8,390.7 138.9,391.7 139.0,391.3 139.1,390.8 139.2,391.7 139.3,390.8 139.4,390.3 139.5,391.9 139.6,392.1 139.7,391.1 139.7,391.8 139.8,391.0 139.9,391.4 140.0,390.9 140.1,390.4 140.2,390.6 140.3,391.4 140.4,391.9 140.5,392.1 140.6,392.1 140.7,391.7 140.8,391.1 140.9,391.6 141.0,391.6 141.1,392.1 141.2,392.1 141.3,392.1 141.4,390.8 141.5,392.1 141.6,390.7 141.7,391.8 141.8,390.8 141.9,391.0 142.0,390.7 142.1,390.4 142.2,391.7 142.3,391.9 142.4,391.5 142.5,391.8 142.6,390.8 142.7,391.3 142.8,391.2 142.9,391.0 142.9,391.6 143.0,390.5 143.1,392.1 143.2,391.1 143.3,390.9 143.4,391.8 143.5,391.7 143.6,390.7 143.7,391.5 143.8,392.1 143.9,392.1 144.0,390.6 144.1,391.9 144.2,390.4 144.3,390.4 144.4,391.4 144.5,390.9 144.6,391.9 144.7,391.6 144.8,391.8 144.9,390.9 145.0,392.2 145.1,391.4 145.2,391.3 145.3,391.0 145.4,392.2 145.5,392.2 145.6,391.9 145.7,391.5 145.8,391.3 145.9,391.2 146.0,390.0 146.1,390.9 146.1,391.0 146.2,391.7 146.3,390.8 146.4,390.9 146.5,390.9 146.6,391.4 146.7,391.0 146.8,390.4 146.9,391.9 147.0,392.2 147.1,390.8 147.2,390.9 147.3,391.5 147.4,391.7 147.5,389.6 147.6,391.7 147.7,392.2 147.8,391.7 147.9,391.1 148.0,391.8 148.1,391.7 148.2,391.2 148.3,391.7 148.4,391.3 148.5,391.4 148.6,392.1 148.7,391.4 148.8,392.2 148.9,390.8 149.0,392.0 149.1,391.6 149.2,392.3 149.3,391.7 149.3,392.3 149.4,390.5 149.5,391.5 149.6,391.1 149.7,392.3 149.8,392.3 149.9,391.6 150.0,392.3 150.1,390.7 150.2,391.8 150.3,391.4 150.4,391.3 150.5,391.6 150.6,391.1 150.7,392.0 150.8,391.4 150.9,390.9 151.0,391.5 151.1,391.6 151.2,391.9 151.3,391.6 151.4,391.3 151.5,391.8 151.6,391.8 151.7,386.1 151.8,372.0 151.9,349.2 152.0,336.9 152.1,349.0 152.2,372.5 152.3,386.8 152.4,390.5 152.5,392.4 152.5,391.7 152.6,391.9 152.7,392.6 152.8,391.5 152.9,391.1 153.0,391.8 153.1,392.6 153.2,391.5 153.3,392.5 153.4,392.0 153.5,391.7 153.6,392.4 153.7,392.6 153.8,392.0 153.9,392.0 154.0,392.5 154.1,392.4 154.2,391.5 154.3,392.0 154.4,392.2 154.5,392.3 154.6,391.9 154.7,391.9 154.8,392.1 154.9,392.7 155.0,392.2 155.1,392.3 155.2,391.9 155.3,391.3 155.4,391.4 155.5,391.6 155.6,391.9 155.7,392.2 155.7,391.8 155.8,392.3 155.9,392.2 156.0,392.5 156.1,392.0 156.2,392.1 156.3,390.9 156.4,391.7 156.5,392.2 156.6,391.6 156.7,392.3 156.8,391.4 156.9,391.6 157.0,390.4 157.1,392.7 157.2,392.1 157.3,392.1 157.4,391.9 157.5,391.6 157.6,392.6 157.7,392.5 157.8,391.9 157.9,391.5 158.0,392.7 158.1,392.7 158.2,391.4 158.3,391.6 158.4,391.5 158.5,392.6 158.6,392.2 158.7,392.0 158.8,391.8 158.8,392.2 158.9,392.1 159.0,391.5 159.1,392.3 159.2,392.4 159.3,392.3 159.4,392.4 159.5,392.0 159.6,392.2 159.7,392.4 159.8,391.3 159.9,391.9 160.0,392.3 160.1,391.4 160.2,392.4 160.3,392.1 160.4,392.2 160.5,392.5 160.6,392.3 160.7,392.1 160.8,392.8 160.9,392.4 161.0,392.0 161.1,392.0 161.2,392.0 161.3,390.8 161.4,391.8 161.5,392.2 161.6,392.2 161.7,392.2 161.8,391.9 161.9,392.3 162.0,391.3 162.0,392.8 162.1,391.8 162.2,391.9 162.3,392.8 162.4,391.8 162.5,391.9 162.6,392.5 162.7,390.9 162.8,391.8 162.9,392.4 163.0,392.5 163.1,392.6 163.2,392.1 163.3,392.2 163.4,392.9 163.5,392.8 163.6,392.6 163.7,392.4 163.8,392.4 163.9,392.6 164.0,391.9 164.1,391.7 164.2,392.2 164.3,392.9 164.4,392.3 164.5,391.9 164.6,392.3 164.7,392.0 164.8,391.6 164.9,390.8 165.0,388.4 165.1,386.8 165.2,388.1 165.2,390.2 165.3,391.9 165.4,392.3 165.5,391.5 165.6,392.9 165.7,392.3 165.8,392.9 165.9,392.2 166.0,392.0 166.1,391.9 166.2,392.2 166.3,392.9 166.4,392.2 166.5,391.8 166.6,391.8 166.7,391.1 166.8,392.0 166.9,392.8 167.0,392.6 167.1,392.3 167.2,391.7 167.3,392.9 167.4,391.8 167.5,392.0 167.6,392.8 167.7,392.0 167.8,392.7 167.9,392.3 168.0,392.5 168.1,392.2 168.2,393.0 168.3,392.1 168.4,393.0 168.4,392.6 168.5,392.6 168.6,391.5 168.7,392.1 168.8,392.6 168.9,392.8 169.0,392.3 169.1,392.7 169.2,391.2 169.3,393.0 169.4,392.3 169.5,393.0 169.6,391.8 169.7,392.8 169.8,391.5 169.9,392.7 170.0,391.8 170.1,392.3 170.2,391.8 170.3,392.4 170.4,393.0 170.5,392.8 170.6,393.0 170.7,391.9 170.8,392.1 170.9,392.4 171.0,392.2 171.1,392.3 171.2,392.7 171.3,391.4 171.4,392.3 171.5,392.5 171.6,393.0 171.6,392.7 171.7,392.4 171.8,392.5 171.9,392.7 172.0,392.4 172.1,393.0 172.2,392.4 172.3,393.0 172.4,392.9 172.5,392.8 172.6,392.0 172.7,392.2 172.8,392.4 172.9,393.0 173.0,392.7 173.1,392.0 173.2,391.8 173.3,393.1 173.4,392.7 173.5,392.4 173.6,392.3 173.7,392.5 173.8,392.1 173.9,393.1 174.0,391.7 174.1,393.1 174.2,392.4 174.3,392.2 174.4,391.9 174.5,392.0 174.6,392.0 174.7,391.8 174.8,392.6 174.8,392.1 174.9,391.7 175.0,392.9 175.1,393.1 175.2,393.0 175.3,391.8 175.4,391.9 175.5,392.7 175.6,392.4 175.7,392.3 175.8,392.0 175.9,393.1 176.0,392.8 176.1,392.6 176.2,392.4 176.3,392.5 176.4,392.7 176.5,392.4 176.6,393.1 176.7,391.0 176.8,392.1 176.9,392.1 177.0,392.9 177.1,392.3 177.2,391.5 177.3,391.6 177.4,392.5 177.5,393.1 177.6,392.5 177.7,392.7 177.8,392.1 177.9,393.1 178.0,392.6 178.0,392.4 178.1,392.8 178.2,392.0 178.3,393.1 178.4,393.1 178.5,392.7 178.6,392.1 178.7,392.7 178.8,392.9 178.9,392.2 179.0,392.5 179.1,392.8 179.2,392.5 179.3,392.7 179.4,392.3 179.5,392.5 179.6,393.0 179.7,392.8 179.8,392.8 179.9,392.4 180.0,392.4 180.1,393.0 180.2,392.7 180.3,392.4 180.4,392.1 180.5,392.5 180.6,391.6 180.7,392.6 180.8,392.2 180.9,392.8 181.0,393.1 181.1,392.6 181.2,392.4 181.2,392.5 181.3,392.6 181.4,392.8 181.5,393.0 181.6,392.8 181.7,392.4 181.8,392.2 181.9,393.2 182.0,392.3 182.1,392.1 182.2,392.0 182.3,392.5 182.4,392.3 182.5,392.9 182.6,392.7 182.7,392.4 182.8,393.2 182.9,393.0 183.0,392.6 183.1,393.2 183.2,392.6 183.3,393.2 183.4,392.6 183.5,392.7 183.6,392.9 183.7,393.1 183.8,392.9 183.9,393.2 184.0,392.9 184.1,392.6 184.2,392.1 184.3,392.9 184.4,392.8 184.4,392.0 184.5,391.8 184.6,392.9 184.7,392.2 184.8,392.1 184.9,392.4 185.0,393.2 185.1,393.2 185.2,392.4 185.3,391.6 185.4,392.8 185.5,391.9 185.6,391.8 185.7,393.3 185.8,393.0 185.9,392.0 186.0,392.2 186.1,392.5 186.2,392.7 186.3,392.4 186.4,393.0 186.5,391.5 186.6,393.3 186.7,393.3 186.8,392.7 186.9,392.0 187.0,393.0 187.1,392.8 187.2,393.2 187.3,392.8 187.4,393.2 187.5,393.2 187.6,393.3 187.6,393.0 187.7,391.9 187.8,392.8 187.9,392.7 188.0,391.7 188.1,393.1 188.2,393.2 188.3,392.5 188.4,393.3 188.5,392.6 188.6,392.2 188.7,393.3 188.8,393.0 188.9,392.0 189.0,393.3 189.1,393.1 189.2,392.7 189.3,392.9 189.4,393.2 189.5,392.0 189.6,393.1 189.7,392.6 189.8,393.0 189.9,392.9 190.0,393.3 190.1,392.4 190.2,393.0 190.3,392.2 190.4,393.3 190.5,393.0 190.6,392.6 190.7,392.8 190.7,393.1 190.8,392.9 190.9,393.4 191.0,392.8 191.1,393.4 191.2,392.7 191.3,392.2 191.4,392.4 191.5,392.4 191.6,393.0 191.7,392.6 191.8,393.0 191.9,392.9 192.0,392.9 192.1,393.4 192.2,392.4 192.3,392.6 192.4,392.5 192.5,393.3 192.6,392.5 192.7,392.6 192.8,393.4 192.9,393.4 193.0,392.8 193.1,393.2 193.2,392.9 193.3,393.2 193.4,392.2 193.5,393.4 193.6,393.4 193.7,393.3 193.8,393.4 193.9,393.1 193.9,392.9 194.0,393.4 194.1,392.7 194.2,392.3 194.3,392.4 194.4,391.9 194.5,392.4 194.6,392.9 194.7,392.1 194.8,392.6 194.9,392.0 195.0,393.0 195.1,393.4 195.2,393.4 195.3,392.8 195.4,392.6 195.5,393.0 195.6,392.4 195.7,393.4 195.8,393.2 195.9,392.5 196.0,392.9 196.1,392.9 196.2,392.3 196.3,392.4 196.4,393.3 196.5,392.8 196.6,393.4 196.7,392.9 196.8,392.7 196.9,393.4 197.0,392.2 197.1,392.0 197.1,392.7 197.2,392.5 197.3,392.2 197.4,393.0 197.5,392.5 197.6,392.8 197.7,393.4 197.8,393.4 197.9,393.2 198.0,392.5 198.1,392.9 198.2,392.5 198.3,393.2 198.4,393.5 198.5,392.0 198.6,391.7 198.7,392.8 198.8,393.0 198.9,392.4 199.0,393.5 199.1,393.1 199.2,393.5 199.3,392.7 199.4,392.9 199.5,393.1 199.6,393.3 199.7,393.5 199.8,393.3 199.9,392.4 200.0,393.1 200.1,392.4 200.2,393.4 200.3,393.0 200.3,393.2 200.4,393.1 200.5,392.6 200.6,393.5 200.7,392.6 200.8,392.7 200.9,393.0 201.0,392.9 201.1,393.1 201.2,392.7 201.3,393.0 201.4,393.4 201.5,392.9 201.6,392.6 201.7,392.8 201.8,393.0 201.9,392.9 202.0,393.2 202.1,393.2 202.2,393.5 202.3,393.1 202.4,392.6 202.5,393.2 202.6,393.4 202.7,392.6 202.8,392.9 202.9,392.9 203.0,392.8 203.1,392.7 203.2,393.0 203.3,393.4 203.4,392.2 203.5,393.0 203.5,393.3 203.6,392.9 203.7,392.5 203.8,393.5 203.9,392.4 204.0,393.1 204.1,392.1 204.2,392.7 204.3,393.1 204.4,392.5 204.5,392.4 204.6,393.2 204.7,392.9 204.8,393.2 204.9,392.6 205.0,393.5 205.1,393.1 205.2,393.5 205.3,392.8 205.4,393.5 205.5,393.5 205.6,392.9 205.7,393.2 205.8,393.2 205.9,393.4 206.0,393.2 206.1,393.5 206.2,392.9 206.3,392.7 206.4,392.7 206.5,393.0 206.6,392.5 206.7,392.8 206.7,392.6 206.8,392.9 206.9,393.0 207.0,393.4 207.1,393.5 207.2,392.7 207.3,393.1 207.4,392.2 207.5,393.5 207.6,392.7 207.7,393.5 207.8,393.0 207.9,393.4 208.0,392.9 208.1,393.0 208.2,392.7 208.3,393.0 208.4,392.8 208.5,392.5 208.6,392.8 208.7,393.1 208.8,392.5 208.9,393.1 209.0,392.9 209.1,393.2 209.2,393.3 209.3,393.5 209.4,392.7 209.5,393.5 209.6,392.7 209.7,392.3 209.8,393.5 209.9,392.7 209.9,393.1 210.0,392.9 210.1,393.5 210.2,393.0 210.3,393.0 210.4,392.4 210.5,392.1 210.6,392.9 210.7,393.2 210.8,392.1 210.9,393.1 211.0,393.1 211.1,393.0 211.2,392.9 211.3,392.7 211.4,393.3 211.5,393.1 211.6,392.2 211.7,392.4 211.8,392.9 211.9,392.9 212.0,393.2 212.1,392.6 212.2,393.3 212.3,393.0 212.4,393.3 212.5,393.3 212.6,393.0 212.7,393.1 212.8,393.3 212.9,393.1 213.0,393.0 213.1,393.3 213.1,393.4 213.2,393.1 213.3,392.8 213.4,392.6 213.5,393.0 213.6,393.2 213.7,393.1 213.8,392.2 213.9,392.7 214.0,393.5 214.1,393.1 214.2,393.3 214.3,393.2 214.4,393.6 214.5,393.1 214.6,393.6 214.7,393.3 214.8,392.4 214.9,392.7 215.0,393.5 215.1,393.5 215.2,393.5 215.3,393.6 215.4,393.5 215.5,393.2 215.6,393.5 215.7,392.8 215.8,393.1 215.9,393.3 216.0,392.3 216.1,392.8 216.2,393.1 216.3,392.3 216.3,392.5 216.4,393.4 216.5,393.0 216.6,393.3 216.7,393.6 216.8,392.3 216.9,392.5 217.0,393.6 217.1,392.9 217.2,393.6 217.3,392.6 217.4,393.1 217.5,393.2 217.6,392.6 217.7,393.1 217.8,393.2 217.9,392.7 218.0,393.2 218.1,392.7 218.2,393.1 218.3,392.7 218.4,392.8 218.5,392.8 218.6,393.5 218.7,392.3 218.8,393.2 218.9,392.4 219.0,393.4 219.1,393.2 219.2,393.2 219.3,392.6 219.4,393.3 219.4,392.9 219.5,393.6 219.6,393.3 219.7,393.0 219.8,393.2 219.9,393.6 220.0,392.9 220.1,393.5 220.2,392.3 220.3,393.2 220.4,392.1 220.5,392.8 220.6,392.9 220.7,393.3 220.8,393.2 220.9,392.9 221.0,393.6 221.1,392.7 221.2,393.6 221.3,393.2 221.4,393.6 221.5,392.9 221.6,392.8 221.7,393.0 221.8,393.0 221.9,393.3 222.0,393.1 222.1,392.6 222.2,393.3 222.3,392.9 222.4,392.8 222.5,393.2 222.6,393.0 222.6,393.0 222.7,393.3 222.8,392.1 222.9,393.3 223.0,392.4 223.1,392.7 223.2,393.6 223.3,393.0 223.4,392.7 223.5,392.8 223.6,393.5 223.7,393.0 223.8,393.6 223.9,393.6 224.0,393.2 224.1,393.1 224.2,392.5 224.3,393.0 224.4,392.7 224.5,393.6 224.6,393.6 224.7,393.4 224.8,392.4 224.9,393.6 225.0,393.6 225.1,393.2 225.2,392.6 225.3,393.6 225.4,393.3 225.5,393.6 225.6,392.5 225.7,392.9 225.8,393.0 225.8,393.2 225.9,393.3 226.0,393.1 226.1,393.4 226.2,393.5 226.3,393.6 226.4,393.2 226.5,393.5 226.6,392.8 226.7,393.6 226.8,392.9 226.9,392.9 227.0,392.6 227.1,393.3 227.2,393.6 227.3,393.6 227.4,392.7 227.5,393.3 227.6,393.3 227.7,393.4 227.8,393.2 227.9,393.3 228.0,393.6 228.1,393.4 228.2,392.7 228.3,392.5 228.4,392.7 228.5,391.6 228.6,389.3 228.7,388.4 228.8,389.6 228.9,391.5 229.0,392.4 229.0,392.4 229.1,393.4 229.2,393.0 229.3,393.3 229.4,392.7 229.5,393.1 229.6,393.1 229.7,393.6 229.8,393.3 229.9,393.3 230.0,393.6 230.1,392.8 230.2,393.2 230.3,393.3 230.4,393.3 230.5,393.2 230.6,393.1 230.7,393.7 230.8,393.1 230.9,393.1 231.0,393.2 231.1,393.7 231.2,393.3 231.3,393.7 231.4,393.1 231.5,392.6 231.6,392.8 231.7,393.3 231.8,393.4 231.9,393.4 232.0,393.1 232.1,393.5 232.2,393.4 232.2,393.7 232.3,393.6 232.4,393.5 232.5,393.4 232.6,392.7 232.7,393.7 232.8,393.7 232.9,393.0 233.0,393.6 233.1,393.3 233.2,393.1 233.3,393.2 233.4,393.5 233.5,392.8 233.6,392.6 233.7,393.6 233.8,393.3 233.9,392.8 234.0,393.3 234.1,393.6 234.2,393.4 234.3,392.9 234.4,393.6 234.5,393.1 234.6,393.1 234.7,393.5 234.8,393.0 234.9,392.9 235.0,392.8 235.1,392.8 235.2,393.7 235.3,392.9 235.4,393.0 235.4,392.8 235.5,393.6 235.6,392.8 235.7,393.1 235.8,393.7 235.9,392.7 236.0,393.6 236.1,393.7 236.2,393.1 236.3,393.5 236.4,393.1 236.5,393.3 236.6,393.1 236.7,392.9 236.8,393.2 236.9,392.9 237.0,392.9 237.1,393.6 237.2,392.9 237.3,393.0 237.4,393.2 237.5,392.8 237.6,392.6 237.7,392.9 237.8,393.7 237.9,393.1 238.0,393.3 238.1,393.4 238.2,393.1 238.3,393.4 238.4,392.6 238.5,393.1 238.6,393.2 238.6,392.9 238.7,392.9 238.8,392.8 238.9,393.0 239.0,393.3 239.1,393.2 239.2,393.7 239.3,393.7 239.4,392.8 239.5,393.4 239.6,392.5 239.7,392.5 239.8,393.7 239.9,393.1 240.0,392.1 240.1,393.6 240.2,393.1 240.3,393.3 240.4,393.4 240.5,393.4 240.6,393.3 240.7,392.9 240.8,393.6 240.9,393.0 241.0,393.6 241.1,393.0 241.2,393.1 241.3,393.6 241.4,393.2 241.5,393.6 241.6,393.6 241.7,392.8 241.8,393.7 241.8,393.0 241.9,393.0 242.0,393.5 242.1,392.8 242.2,392.9 242.3,393.7 242.4,393.1 242.5,393.1 242.6,393.6 242.7,393.0 242.8,393.0 242.9,393.6 243.0,393.7 243.1,393.1 243.2,393.6 243.3,393.7 243.4,393.4 243.5,393.7 243.6,393.4 243.7,392.7 243.8,393.7 243.9,393.1 244.0,393.7 244.1,393.4 244.2,393.7 244.3,393.0 244.4,393.3 244.5,393.6 244.6,393.7 244.7,393.5 244.8,392.8 244.9,393.7 245.0,393.1 245.0,393.1 245.1,393.7 245.2,392.8 245.3,393.3 245.4,392.4 245.5,392.6 245.6,393.4 245.7,393.4 245.8,393.7 245.9,393.7 246.0,393.0 246.1,393.4 246.2,393.5 246.3,393.4 246.4,393.0 246.5,392.9 246.6,393.3 246.7,393.4 246.8,393.3 246.9,392.4 247.0,393.7 247.1,393.7 247.2,393.1 247.3,393.2 247.4,392.8 247.5,392.8 247.6,392.5 247.7,393.6 247.8,393.0 247.9,393.4 248.0,392.9 248.1,393.2 248.2,392.9 248.2,393.6 248.3,393.2 248.4,393.5 248.5,393.4 248.6,393.5 248.7,393.7 248.8,392.8 248.9,393.2 249.0,392.9 249.1,393.7 249.2,393.7 249.3,393.6 249.4,393.4 249.5,393.0 249.6,392.9 249.7,392.8 249.8,392.7 249.9,393.0 250.0,393.3 250.1,393.6 250.2,393.0 250.3,393.5 250.4,393.6 250.5,393.1 250.6,393.2 250.7,393.0 250.8,393.6 250.9,392.8 251.0,393.2 251.1,393.4 251.2,393.6 251.3,393.8 251.3,393.8 251.4,392.7 251.5,393.8 251.6,393.1 251.7,393.4 251.8,393.6 251.9,393.5 252.0,393.4 252.1,393.0 252.2,393.1 252.3,393.3 252.4,393.8 252.5,393.8 252.6,392.6 252.7,393.7 252.8,393.8 252.9,392.9 253.0,393.8 253.1,393.0 253.2,393.0 253.3,393.2 253.4,392.9 253.5,393.8 253.6,393.8 253.7,393.4 253.8,393.3 253.9,393.4 254.0,393.1 254.1,393.6 254.2,393.8 254.3,393.2 254.4,393.4 254.5,393.0 254.5,392.5 254.6,393.3 254.7,393.1 254.8,393.7 254.9,393.0 255.0,393.2 255.1,393.2 255.2,393.0 255.3,393.8 255.4,393.1 255.5,393.2 255.6,392.7 255.7,393.8 255.8,393.4 255.9,392.5 256.0,393.5 256.1,393.5 256.2,392.6 256.3,392.3 256.4,393.3 256.5,393.6 256.6,393.6 256.7,393.5 256.8,393.7 256.9,393.7 257.0,393.3 257.1,393.3 257.2,393.2 257.3,393.3 257.4,393.8 257.5,393.1 257.6,393.3 257.7,393.6 257.7,393.5 257.8,393.2 257.9,393.3 258.0,393.4 258.1,393.1 258.2,392.9 258.3,393.5 258.4,393.4 258.5,393.8 258.6,393.4 258.7,393.2 258.8,393.0 258.9,393.3 259.0,393.4 259.1,393.7 259.2,393.3 259.3,393.8 259.4,393.3 259.5,393.4 259.6,393.7 259.7,393.2 259.8,393.5 259.9,393.1 260.0,393.6 260.1,393.2 260.2,392.8 260.3,393.3 260.4,393.1 260.5,393.6 260.6,393.5 260.7,393.8 260.8,393.4 260.9,393.8 260.9,393.3 261.0,393.8 261.1,393.7 261.2,393.3 261.3,393.2 261.4,393.8 261.5,393.5 261.6,392.4 261.7,393.1 261.8,393.3 261.9,393.8 262.0,393.8 262.1,393.2 262.2,393.3 262.3,393.2 262.4,393.0 262.5,393.4 262.6,393.1 262.7,393.8 262.8,392.4 262.9,393.5 263.0,393.6 263.1,392.8 263.2,393.2 263.3,393.0 263.4,393.6 263.5,393.3 263.6,393.1 263.7,393.8 263.8,393.5 263.9,393.5 264.0,393.5 264.1,393.7 264.1,393.8 264.2,393.2 264.3,393.3 264.4,392.9 264.5,393.4 264.6,393.7 264.7,393.8 264.8,393.4 264.9,393.5 265.0,392.6 265.1,392.5 265.2,392.8 265.3,393.8 265.4,393.8 265.5,393.5 265.6,393.8 265.7,392.9 265.8,393.4 265.9,393.6 266.0,393.4 266.1,392.9 266.2,393.8 266.3,393.2 266.4,393.8 266.5,393.5 266.6,393.7 266.7,393.3 266.8,393.4 266.9,392.9 267.0,393.1 267.1,393.7 267.2,393.8 267.3,393.7 267.3,393.6 267.4,393.5 267.5,393.7 267.6,393.0 267.7,393.1 267.8,393.5 267.9,393.6 268.0,393.5 268.1,393.4 268.2,393.4 268.3,393.8 268.4,393.6 268.5,393.8 268.6,393.4 268.7,393.2 268.8,393.8 268.9,393.4 269.0,393.7 269.1,393.7 269.2,392.7 269.3,393.1 269.4,393.2 269.5,393.6 269.6,393.3 269.7,393.5 269.8,393.3 269.9,393.8 270.0,393.5 270.1,393.6 270.2,393.8 270.3,392.8 270.4,393.1 270.5,393.7 270.5,393.8 270.6,393.7 270.7,393.8 270.8,393.7 270.9,393.8 271.0,393.8 271.1,393.4 271.2,393.3 271.3,393.8 271.4,393.4 271.5,393.8 271.6,393.8 271.7,393.6 271.8,393.7 271.9,393.2 272.0,393.2 272.1,393.6 272.2,393.7 272.3,392.8 272.4,392.7 272.5,393.3 272.6,393.5 272.7,393.1 272.8,392.9 272.9,393.7 273.0,392.8 273.1,393.5 273.2,393.0 273.3,393.7 273.4,393.4 273.5,393.6 273.6,393.4 273.7,393.1 273.7,393.8 273.8,393.6 273.9,393.2 274.0,393.6 274.1,392.7 274.2,393.9 274.3,392.5 274.4,393.7 274.5,393.1 274.6,392.8 274.7,393.3 274.8,393.9 274.9,393.6 275.0,393.4 275.1,393.2 275.2,393.1 275.3,393.0 275.4,392.9 275.5,393.8 275.6,393.1 275.7,393.9 275.8,393.4 275.9,393.9 276.0,393.9 276.1,393.1 276.2,393.5 276.3,393.1 276.4,393.9 276.5,393.9 276.6,393.5 276.7,393.7 276.8,393.4 276.9,393.7 276.9,393.6 277.0,393.9 277.1,393.0 277.2,393.6 277.3,393.9 277.4,393.2 277.5,393.3 277.6,393.4 277.7,393.4 277.8,393.6 277.9,393.5 278.0,393.9 278.1,393.9 278.2,393.9 278.3,393.4 278.4,393.0 278.5,393.5 278.6,393.6 278.7,393.1 278.8,393.6 278.9,393.2 279.0,393.3 279.1,393.9 279.2,393.4 279.3,393.4 279.4,393.9 279.5,393.9 279.6,393.9 279.7,393.0 279.8,392.7 279.9,393.2 280.0,392.9 280.0,393.9 280.1,393.0 280.2,392.7 280.3,392.9 280.4,393.9 280.5,393.1 280.6,393.5 280.7,393.1 280.8,393.7 280.9,393.5 281.0,393.7 281.1,393.3 281.2,393.5 281.3,393.1 281.4,393.2 281.5,393.3 281.6,393.5 281.7,393.6 281.8,393.5 281.9,393.2 282.0,393.5 282.1,393.4 282.2,393.5 282.3,393.5 282.4,393.8 282.5,393.9 282.6,393.3 282.7,393.3 282.8,393.9 282.9,392.8 283.0,393.9 283.1,393.1 283.2,393.4 283.2,393.4 283.3,393.1 283.4,393.2 283.5,393.5 283.6,393.9 283.7,393.9 283.8,393.4 283.9,392.9 284.0,393.2 284.1,393.5 284.2,393.4 284.3,393.3 284.4,392.9 284.5,393.8 284.6,393.2 284.7,393.4 284.8,393.8 284.9,393.9 285.0,393.0 285.1,393.4 285.2,393.6 285.3,393.5 285.4,393.2 285.5,393.5 285.6,392.9 285.7,393.6 285.8,393.8 285.9,393.6 286.0,393.9 286.1,393.7 286.2,393.1 286.3,392.9 286.4,393.3 286.4,393.5 286.5,393.9 286.6,393.9 286.7,393.4 286.8,393.5 286.9,393.8 287.0,393.7 287.1,393.0 287.2,393.2 287.3,393.5 287.4,393.5 287.5,393.1 287.6,393.4 287.7,393.5 287.8,393.9 287.9,393.9 288.0,393.9 288.1,393.9 288.2,393.6 288.3,393.4 288.4,393.9 288.5,393.4 288.6,393.4 288.7,393.6 288.8,393.9 288.9,393.0 289.0,393.1 289.1,393.8 289.2,392.8 289.3,393.6 289.4,393.9 289.5,393.7 289.6,393.9 289.6,393.7 289.7,393.9 289.8,393.2 289.9,393.5 290.0,393.9 290.1,393.4 290.2,393.9 290.3,393.5 290.4,393.4 290.5,393.6 290.6,394.0 290.7,393.6 290.8,393.7 290.9,393.6 291.0,393.0 291.1,393.0 291.2,393.0 291.3,393.8 291.4,393.9 291.5,393.6 291.6,393.4 291.7,394.0 291.8,393.8 291.9,392.9 292.0,394.0 292.1,393.9 292.2,393.9 292.3,393.4 292.4,393.6 292.5,393.7 292.6,394.0 292.7,393.4 292.8,393.6 292.8,393.9 292.9,393.6 293.0,393.3 293.1,394.0 293.2,394.0 293.3,394.0 293.4,393.9 293.5,394.0 293.6,393.8 293.7,393.2 293.8,393.7 293.9,393.3 294.0,394.0 294.1,393.7 294.2,393.1 294.3,393.1 294.4,393.8 294.5,393.9 294.6,393.5 294.7,394.0 294.8,393.8 294.9,394.0 295.0,393.6 295.1,393.6 295.2,393.1 295.3,393.5 295.4,393.9 295.5,393.7 295.6,394.0 295.7,393.6 295.8,393.7 295.9,393.5 296.0,393.3 296.0,394.0 296.1,393.5 296.2,393.4 296.3,394.0 296.4,393.0 296.5,393.9 296.6,392.8 296.7,393.4 296.8,393.3 296.9,393.6 297.0,393.3 297.1,394.0 297.2,394.0 297.3,394.0 297.4,393.5 297.5,393.9 297.6,393.4 297.7,393.5 297.8,394.0 297.9,393.4 298.0,393.6 298.1,393.6 298.2,393.5 298.3,393.7 298.4,393.7 298.5,393.3 298.6,394.0 298.7,394.0 298.8,394.0 298.9,393.3 299.0,393.8 299.1,393.0 299.2,394.0 299.2,393.9 299.3,393.8 299.4,393.6 299.5,393.2 299.6,393.8 299.7,394.0 299.8,393.4 299.9,393.2 300.0,394.0 300.1,393.5 300.2,393.6 300.3,394.0 300.4,393.9 300.5,393.6 300.6,393.7 300.7,393.8 300.8,394.0 300.9,393.6 301.0,393.9 301.1,393.7 301.2,393.9 301.3,393.6 301.4,393.5 301.5,393.6 301.6,393.5 301.7,394.0 301.8,393.6 301.9,393.6 302.0,393.9 302.1,393.8 302.2,394.0 302.3,393.7 302.4,393.9 302.4,394.1 302.5,393.6 302.6,393.9 302.7,393.6 302.8,393.8 302.9,393.6 303.0,393.7 303.1,393.8 303.2,393.6 303.3,393.4 303.4,394.1 303.5,393.7 303.6,393.9 303.7,394.1 303.8,393.3 303.9,393.4 304.0,394.1 304.1,394.1 304.2,393.5 304.3,394.0 304.4,393.9 304.5,394.1 304.6,393.8 304.7,393.4 304.8,393.9 304.9,393.8 305.0,393.2 305.1,393.5 305.2,393.3 305.3,393.5 305.4,393.3 305.5,394.1 305.6,394.0 305.6,394.1 305.7,393.0 305.8,393.7 305.9,393.8 306.0,394.0 306.1,394.1 306.2,394.1 306.3,393.0 306.4,393.8 306.5,393.7 306.6,394.1 306.7,393.8 306.8,393.6 306.9,393.8 307.0,393.6 307.1,394.1 307.2,393.7 307.3,393.5 307.4,393.6 307.5,393.6 307.6,393.8 307.7,394.1 307.8,393.6 307.9,393.9 308.0,394.1 308.1,393.5 308.2,394.1 308.3,394.0 308.4,393.5 308.5,393.5 308.6,393.9 308.7,393.8 308.8,393.6 308.8,393.8 308.9,394.0 309.0,393.6 309.1,393.7 309.2,393.8 309.3,393.4 309.4,393.7 309.5,393.9 309.6,393.7 309.7,393.2 309.8,394.0 309.9,393.9 310.0,394.1 310.1,393.7 310.2,394.1 310.3,393.7 310.4,393.6 310.5,394.1 310.6,394.1 310.7,394.1 310.8,393.8 310.9,394.1 311.0,394.0 311.1,393.9 311.2,394.0 311.3,393.5 311.4,393.3 311.5,394.1 311.6,394.1 311.7,393.7 311.8,394.1 311.9,394.0 311.9,393.8 312.0,393.4 312.1,393.4 312.2,393.9 312.3,393.8 312.4,393.9 312.5,393.9 312.6,394.1 312.7,394.1 312.8,393.9 312.9,393.5 313.0,393.6 313.1,394.1 313.2,393.9 313.3,394.0 313.4,393.7 313.5,394.1 313.6,393.5 313.7,393.9 313.8,393.7 313.9,393.6 314.0,394.1 314.1,393.9 314.2,393.4 314.3,393.8 314.4,393.5 314.5,393.7 314.6,394.0 314.7,393.8 314.8,393.5 314.9,393.4 315.0,393.4 315.1,394.1 315.1,393.6 315.2,394.1 315.3,393.9 315.4,393.9 315.5,393.7 315.6,393.8 315.7,393.5 315.8,394.0 315.9,393.6 316.0,393.7 316.1,393.9 316.2,394.1 316.3,393.7 316.4,393.8 316.5,393.6 316.6,393.9 316.7,393.9 316.8,393.7 316.9,393.7 317.0,393.6 317.1,393.3 317.2,394.1 317.3,393.2 317.4,394.2 317.5,393.6 317.6,394.1 317.7,393.2 317.8,394.2 317.9,393.5 318.0,394.2 318.1,394.2 318.2,393.6 318.3,393.6 318.3,394.1 318.4,393.1 318.5,394.0 318.6,393.4 318.7,394.2 318.8,394.2 318.9,393.9 319.0,394.2 319.1,393.7 319.2,394.2 319.3,393.8 319.4,394.1 319.5,394.2 319.6,393.8 319.7,394.0 319.8,394.0 319.9,393.6 320.0,393.8 320.1,393.8 320.2,393.5 320.3,393.9 320.4,393.6 320.5,394.0 320.6,393.7 320.7,393.7 320.8,394.1 320.9,394.2 321.0,394.2 321.1,394.2 321.2,393.7 321.3,393.9 321.4,394.0 321.5,393.8 321.5,393.7 321.6,393.5 321.7,394.1 321.8,393.7 321.9,393.7 322.0,394.2 322.1,393.9 322.2,394.2 322.3,394.0 322.4,393.8 322.5,394.2 322.6,394.2 322.7,394.2 322.8,393.9 322.9,394.1 323.0,393.8 323.1,394.2 323.2,394.1 323.3,393.7 323.4,393.8 323.5,393.9 323.6,393.9 323.7,393.6 323.8,393.5 323.9,394.0 324.0,394.1 324.1,394.2 324.2,393.4 324.3,394.2 324.4,394.2 324.5,393.8 324.6,393.6 324.7,394.2 324.7,394.0 324.8,394.2 324.9,394.1 325.0,393.4 325.1,393.9 325.2,394.0 325.3,393.9 325.4,393.8 325.5,394.0 325.6,394.2 325.7,394.2 325.8,393.3 325.9,394.2 326.0,393.6 326.1,394.2 326.2,393.6 326.3,393.7 326.4,394.0 326.5,393.3 326.6,394.2 326.7,394.0 326.8,394.2 326.9,394.2 327.0,394.1 327.1,394.2 327.2,394.0 327.3,393.5 327.4,394.2 327.5,394.2 327.6,394.2 327.7,394.1 327.8,393.7 327.9,393.7 327.9,393.8 328.0,393.9 328.1,393.3 328.2,394.2 328.3,394.2 328.4,394.0 328.5,393.9 328.6,394.0 328.7,394.2 328.8,394.2 328.9,394.0 329.0,394.2 329.1,394.1 329.2,394.2 329.3,393.6 329.4,393.8 329.5,393.4 329.6,394.1 329.7,393.9 329.8,394.0 329.9,394.0 330.0,394.0 330.1,394.0 330.2,394.2 330.3,394.1 330.4,393.8 330.5,394.2 330.6,394.1 330.7,393.8 330.8,393.6 330.9,394.0 331.0,393.8 331.1,393.5 331.1,393.6 331.2,394.1 331.3,394.2 331.4,393.7 331.5,393.9 331.6,394.1 331.7,394.0 331.8,393.9 331.9,394.0 332.0,394.1 332.1,394.1 332.2,394.2 332.3,393.5 332.4,393.6 332.5,393.6 332.6,394.0 332.7,394.0 332.8,393.8 332.9,393.8 333.0,394.2 333.1,393.9 333.2,394.2 333.3,394.0 333.4,394.2 333.5,393.5 333.6,393.8 333.7,394.0 333.8,393.6 333.9,394.0 334.0,394.2 334.1,394.1 334.2,394.1 334.3,394.0 334.3,393.8 334.4,394.0 334.5,394.0 334.6,393.7 334.7,393.9 334.8,393.7 334.9,393.8 335.0,393.5 335.1,391.3 335.2,387.9 335.3,386.0 335.4,387.8 335.5,391.2 335.6,393.5 335.7,393.8 335.8,394.0 335.9,393.9 336.0,394.2 336.1,394.3 336.2,393.6 336.3,394.3 336.4,394.0 336.5,393.6 336.6,394.3 336.7,393.8 336.8,394.0 336.9,394.1 337.0,393.9 337.1,394.3 337.2,394.3 337.3,393.5 337.4,394.1 337.5,393.8 337.5,393.7 337.6,393.9 337.7,393.9 337.8,393.8 337.9,393.6 338.0,393.9 338.1,393.7 338.2,394.1 338.3,394.1 338.4,394.0 338.5,393.9 338.6,393.9 338.7,393.5 338.8,393.8 338.9,394.0 339.0,393.5 339.1,393.9 339.2,393.9 339.3,393.9 339.4,394.1 339.5,394.3 339.6,394.0 339.7,394.1 339.8,394.3 339.9,394.0 340.0,394.1 340.1,394.2 340.2,394.3 340.3,394.1 340.4,393.6 340.5,393.8 340.6,393.7 340.6,394.0 340.7,393.8 340.8,394.2 340.9,394.2 341.0,393.9 341.1,394.3 341.2,394.0 341.3,394.0 341.4,393.6 341.5,394.2 341.6,393.9 341.7,394.2 341.8,394.2 341.9,394.3 342.0,394.3 342.1,393.7 342.2,393.9 342.3,394.0 342.4,393.4 342.5,393.9 342.6,394.3 342.7,394.1 342.8,394.1 342.9,393.6 343.0,394.3 343.1,393.9 343.2,393.8 343.3,394.3 343.4,394.0 343.5,394.3 343.6,394.0 343.7,394.3 343.8,394.2 343.8,393.6 343.9,394.0 344.0,394.0 344.1,394.0 344.2,393.5 344.3,393.9 344.4,393.8 344.5,394.2 344.6,394.2 344.7,394.3 344.8,394.1 344.9,394.3 345.0,393.8 345.1,393.9 345.2,394.1 345.3,394.2 345.4,394.3 345.5,394.2 345.6,394.0 345.7,393.9 345.8,394.3 345.9,394.3 346.0,394.0 346.1,394.3 346.2,394.1 346.3,394.2 346.4,393.9 346.5,394.3 346.6,394.2 346.7,393.8 346.8,394.0 346.9,394.3 347.0,394.0 347.0,394.0 347.1,394.3 347.2,393.9 347.3,393.9 347.4,394.1 347.5,393.8 347.6,394.3 347.7,393.9 347.8,394.1 347.9,394.3 348.0,394.2 348.1,393.8 348.2,394.2 348.3,394.2 348.4,394.3 348.5,394.3 348.6,393.8 348.7,393.5 348.8,393.7 348.9,394.0 349.0,393.9 349.1,394.2 349.2,394.2 349.3,394.3 349.4,393.7 349.5,394.2 349.6,394.3 349.7,394.3 349.8,394.0 349.9,394.2 350.0,394.1 350.1,394.0 350.2,393.7 350.2,394.3 350.3,394.0 350.4,394.3 350.5,394.2 350.6,393.7 350.7,393.9 350.8,394.2 350.9,394.0 351.0,394.1 351.1,393.8 351.2,394.2 351.3,394.0 351.4,394.1 351.5,394.1 351.6,394.1 351.7,394.3 351.8,394.1 351.9,393.8 352.0,394.3 352.1,394.2 352.2,394.0 352.3,394.3 352.4,393.9 352.5,393.9 352.6,394.3 352.7,394.3 352.8,394.3 352.9,393.9 353.0,393.9 353.1,394.3 353.2,394.3 353.3,394.1 353.4,394.2 353.4,393.9 353.5,393.9 353.6,394.0 353.7,393.8 353.8,393.9 353.9,394.1 354.0,394.2 354.1,394.3 354.2,393.9 354.3,393.9 354.4,393.8 354.5,394.2 354.6,394.2 354.7,394.0 354.8,393.8 354.9,394.0 355.0,394.1 355.1,394.3 355.2,394.0 355.3,394.0 355.4,394.3 355.5,393.7 355.6,394.3 355.7,393.9 355.8,394.2 355.9,394.1 356.0,394.3 356.1,394.3 356.2,393.9 356.3,394.2 356.4,394.2 356.5,393.9 356.6,393.9 356.6,394.1 356.7,394.1 356.8,393.7 356.9,394.2 357.0,394.0 357.1,394.0 357.2,394.3 357.3,394.3 357.4,394.1 357.5,393.9 357.6,394.1 357.7,394.3 357.8,394.3 357.9,393.9 358.0,394.2 358.1,394.3 358.2,394.0 358.3,394.1 358.4,394.0 358.5,393.9 358.6,393.8 358.7,394.0 358.8,394.2 358.9,394.3 359.0,394.1 359.1,394.2 359.2,393.8 359.3,393.8 359.4,394.0 359.5,393.8 359.6,394.1 359.7,394.1 359.8,394.3 359.8,394.2 359.9,394.1 360.0,393.9 360.1,394.3 360.2,393.9 360.3,393.6 360.4,394.3 360.5,394.2 360.6,394.1 360.7,393.9 360.8,393.6 360.9,393.8 361.0,394.1 361.1,394.3 361.2,394.1 361.3,394.1 361.4,394.1 361.5,394.4 361.6,393.8 361.7,394.3 361.8,394.0 361.9,394.1 362.0,394.4 362.1,394.1 362.2,394.1 362.3,394.2 362.4,393.9 362.5,394.3 362.6,393.5 362.7,393.9 362.8,394.4 362.9,394.4 363.0,393.8 363.0,394.1 363.1,394.1 363.2,394.4 363.3,394.4 363.4,394.4 363.5,393.5 363.6,393.8 363.7,394.3 363.8,393.7 363.9,394.4 364.0,394.0 364.1,394.0 364.2,394.4 364.3,394.3 364.4,394.4 364.5,394.1 364.6,393.8 364.7,393.9 364.8,394.0 364.9,393.9 365.0,394.4 365.1,393.7 365.2,394.2 365.3,394.4 365.4,394.2 365.5,394.3 365.6,394.1 365.7,394.1 365.8,394.4 365.9,393.8 366.0,393.7 366.1,394.4 366.2,393.8 366.2,393.8 366.3,393.9 366.4,393.8 366.5,394.4 366.6,394.0 366.7,394.4 366.8,393.6 366.9,394.4 367.0,394.4 367.1,393.9 367.2,394.0 367.3,394.2 367.4,394.1 367.5,394.0 367.6,393.7 367.7,394.3 367.8,394.3 367.9,394.3 368.0,394.2 368.1,394.2 368.2,394.4 368.3,394.1 368.4,394.4 368.5,394.2 368.6,394.2 368.7,394.2 368.8,393.8 368.9,393.8 369.0,393.9 369.1,393.8 369.2,394.2 369.3,393.8 369.4,394.2 369.4,394.1 369.5,394.1 369.6,394.4 369.7,394.3 369.8,394.2 369.9,394.1 370.0,394.2 370.1,394.4 370.2,394.4 370.3,394.2 370.4,394.4 370.5,394.4 370.6,394.2 370.7,394.1 370.8,394.4 370.9,394.4 371.0,394.1 371.1,394.0 371.2,394.3 371.3,394.3 371.4,394.4 371.5,394.0 371.6,394.4 371.7,394.0 371.8,394.3 371.9,394.2 372.0,394.2 372.1,394.4 372.2,393.5 372.3,394.4 372.4,394.2 372.5,394.4 372.5,394.2 372.6,393.9 372.7,394.4 372.8,394.2 372.9,394.1 373.0,394.2 373.1,394.1 373.2,394.4 373.3,394.4 373.4,394.4 373.5,394.3 373.6,394.0 373.7,394.2 373.8,393.8 373.9,394.2 374.0,394.1 374.1,394.1 374.2,394.4 374.3,394.0 374.4,394.4 374.5,394.3 374.6,393.6 374.7,394.4 374.8,394.2 374.9,394.1 375.0,394.2 375.1,394.2 375.2,394.3 375.3,393.7 375.4,394.4 375.5,394.4 375.6,393.8 375.7,394.1 375.7,394.4 375.8,394.4 375.9,394.3 376.0,393.6 376.1,394.1 376.2,394.4 376.3,394.1 376.4,394.3 376.5,393.8 376.6,394.1 376.7,393.9 376.8,394.2 376.9,393.7 377.0,394.1 377.1,394.1 377.2,394.4 377.3,394.3 377.4,394.1 377.5,394.3 377.6,393.6 377.7,394.2 377.8,394.4 377.9,394.0 378.0,394.3 378.1,394.1 378.2,394.2 378.3,394.4 378.4,393.9 378.5,394.2 378.6,393.9 378.7,394.3 378.8,394.4 378.9,394.4 378.9,394.3 379.0,394.2 379.1,394.2 379.2,394.1 379.3,394.4 379.4,394.2 379.5,394.4 379.6,394.4 379.7,393.6 379.8,393.9 379.9,394.3 380.0,393.8 380.1,393.9 380.2,394.0 380.3,393.9 380.4,394.3 380.5,394.2 380.6,394.4 380.7,394.1 380.8,394.4 380.9,394.3 381.0,394.1 381.1,394.3 381.2,394.1 381.3,393.8 381.4,394.4 381.5,393.9 381.6,394.4 381.7,394.4 381.8,394.2 381.9,394.0 382.0,394.4 382.1,394.4 382.1,394.3 382.2,394.4 382.3,394.2 382.4,394.4 382.5,394.3 382.6,394.1 382.7,394.3 382.8,394.0 382.9,394.4 383.0,394.4 383.1,393.8 383.2,393.9 383.3,394.2 383.4,394.0 383.5,394.1 383.6,394.3 383.7,394.1 383.8,394.1 383.9,393.9 384.0,394.4 384.1,394.0 384.2,394.2 384.3,394.4 384.4,394.3 384.5,394.3 384.6,394.4 384.7,394.4 384.8,394.0 384.9,394.4 385.0,394.3 385.1,394.4 385.2,394.4 385.3,394.1 385.3,394.2 385.4,394.2 385.5,394.4 385.6,394.1 385.7,394.4 385.8,394.0 385.9,394.2 386.0,394.3 386.1,393.9 386.2,394.3 386.3,394.0 386.4,394.2 386.5,394.2 386.6,394.0 386.7,394.1 386.8,394.2 386.9,394.3 387.0,394.2 387.1,394.2 387.2,394.3 387.3,394.4 387.4,394.4 387.5,394.3 387.6,394.3 387.7,394.0 387.8,394.1 387.9,394.0 388.0,393.8 388.1,394.3 388.2,394.4 388.3,394.1 388.4,394.4 388.5,394.3 388.5,393.9 388.6,394.1 388.7,394.0 388.8,394.4 388.9,394.2 389.0,394.0 389.1,394.4 389.2,394.2 389.3,394.1 389.4,394.4 389.5,393.9 389.6,394.4 389.7,394.3 389.8,393.9 389.9,394.4 390.0,394.1 390.1,394.3 390.2,394.2 390.3,394.4 390.4,393.9 390.5,394.4 390.6,394.2 390.7,394.1 390.8,394.3 390.9,394.3 391.0,394.3 391.1,394.0 391.2,394.1 391.3,394.3 391.4,394.4 391.5,394.2 391.6,394.1 391.7,394.2 391.7,393.9 391.8,394.4 391.9,393.7 392.0,394.3 392.1,394.4 392.2,394.4 392.3,394.1 392.4,394.1 392.5,394.3 392.6,394.3 392.7,394.2 392.8,394.3 392.9,394.0 393.0,394.1 393.1,394.3 393.2,394.4 393.3,393.9 393.4,394.4 393.5,394.4 393.6,394.0 393.7,394.1 393.8,394.4 393.9,394.4 394.0,394.3 394.1,394.4 394.2,394.3 394.3,393.7 394.4,393.6 394.5,394.3 394.6,394.1 394.7,394.1 394.8,394.3 394.9,394.4 394.9,394.0 395.0,394.3 395.1,394.2 395.2,394.1 395.3,394.4 395.4,393.9 395.5,394.2 395.6,394.2 395.7,394.3 395.8,394.1 395.9,394.0 396.0,394.4 396.1,394.1 396.2,394.3 396.3,394.4 396.4,394.3 396.5,394.1 396.6,394.1 396.7,394.0 396.8,394.4 396.9,394.3 397.0,394.2 397.1,394.1 397.2,394.3 397.3,394.4 397.4,394.4 397.5,394.0 397.6,394.0 397.7,394.4 397.8,393.9 397.9,394.3 398.0,394.2 398.1,394.0 398.1,394.4 398.2,394.4 398.3,394.4 398.4,394.2 398.5,394.2 398.6,394.1 398.7,394.1 398.8,394.2 398.9,394.0 399.0,394.4 399.1,394.2 399.2,394.2 399.3,394.3 399.4,393.9 399.5,394.2 399.6,394.0 399.7,394.1 399.8,394.3 399.9,393.9 400.0,394.0 400.1,394.3 400.2,394.3 400.3,394.4 400.4,394.3 400.5,394.3 400.6,394.2 400.7,394.4 400.8,394.1 400.9,394.3 401.0,394.4 401.1,394.4 401.2,394.4 401.2,394.4 401.3,394.3 401.4,394.1 401.5,394.4 401.6,394.4 401.7,394.3 401.8,393.6 401.9,394.4 402.0,394.2 402.1,394.4 402.2,394.1 402.3,394.0 402.4,394.3 402.5,394.0 402.6,394.4 402.7,394.2 402.8,394.4 402.9,394.2 403.0,394.4 403.1,394.2 403.2,394.4 403.3,394.2 403.4,394.2 403.5,394.4 403.6,394.4 403.7,394.4 403.8,394.4 403.9,394.2 404.0,394.3 404.1,394.2 404.2,394.0 404.3,394.3 404.4,394.2 404.4,394.1 404.5,394.2 404.6,394.2 404.7,394.3 404.8,393.9 404.9,394.3 405.0,394.4 405.1,394.2 405.2,393.9 405.3,394.0 405.4,394.3 405.5,394.1 405.6,394.2 405.7,394.3 405.8,394.1 405.9,394.2 406.0,394.3 406.1,393.9 406.2,394.4 406.3,394.0 406.4,393.8 406.5,393.8 406.6,394.2 406.7,394.3 406.8,394.5 406.9,394.3 407.0,393.8 407.1,394.5 407.2,394.5 407.3,394.1 407.4,394.2 407.5,394.5 407.6,394.3 407.6,394.2 407.7,394.5 407.8,394.1 407.9,394.5 408.0,394.1 408.1,394.2 408.2,394.4 408.3,394.5 408.4,394.4 408.5,394.3 408.6,394.3 408.7,394.4 408.8,394.3 408.9,394.1 409.0,394.5 409.1,394.3 409.2,394.2 409.3,394.3 409.4,394.1 409.5,394.0 409.6,394.4 409.7,394.2 409.8,394.5 409.9,394.4 410.0,394.2 410.1,394.5 410.2,394.0 410.3,394.5 410.4,394.0 410.5,394.4 410.6,394.5 410.7,394.4 410.8,394.3 410.8,394.5 410.9,394.5 411.0,394.4 411.1,394.1 411.2,394.2 411.3,394.0 411.4,394.4 411.5,394.4 411.6,394.4 411.7,394.3 411.8,394.2 411.9,393.9 412.0,394.2 412.1,394.3 412.2,394.0 412.3,394.5 412.4,394.5 412.5,394.2 412.6,394.3 412.7,394.3 412.8,394.1 412.9,394.4 413.0,394.3 413.1,394.2 413.2,394.2 413.3,394.1 413.4,394.3 413.5,394.2 413.6,394.5 413.7,394.1 413.8,394.5 413.9,394.3 414.0,393.8 414.0,394.4 414.1,394.5 414.2,394.0 414.3,394.4 414.4,394.3 414.5,394.3 414.6,394.2 414.7,394.1 414.8,394.3 414.9,394.1 415.0,394.5 415.1,394.2 415.2,394.4 415.3,394.2 415.4,394.4 415.5,394.4 415.6,394.0 415.7,394.5 415.8,394.5 415.9,394.2 416.0,394.4 416.1,394.4 416.2,394.3 416.3,393.9 416.4,394.5 416.5,394.4 416.6,394.3 416.7,394.5 416.8,394.3 416.9,394.2 417.0,394.5 417.1,394.1 417.2,394.5 417.2,394.3 417.3,394.2 417.4,393.7 417.5,394.5 417.6,394.3 417.7,393.8 417.8,394.4 417.9,394.1 418.0,394.3 418.1,394.5 418.2,394.2 418.3,394.5 418.4,394.3 418.5,394.5 418.6,394.2 418.7,394.5 418.8,394.4 418.9,394.1 419.0,394.2 419.1,394.4 419.2,394.4 419.3,394.4 419.4,393.8 419.5,394.3 419.6,394.3 419.7,394.5 419.8,394.4 419.9,394.2 420.0,394.4 420.1,394.5 420.2,394.4 420.3,394.4 420.4,394.3 420.4,394.4 420.5,394.4 420.6,394.5 420.7,394.1 420.8,394.3 420.9,394.4 421.0,394.3 421.1,394.3 421.2,394.5 421.3,394.4 421.4,394.0 421.5,394.2 421.6,394.1 421.7,394.5 421.8,394.5 421.9,394.5 422.0,394.1 422.1,394.5 422.2,394.5 422.3,394.1 422.4,394.4 422.5,394.4 422.6,394.3 422.7,394.3 422.8,394.4 422.9,394.3 423.0,394.5 423.1,394.3 423.2,394.2 423.3,394.5 423.4,394.4 423.5,394.5 423.6,394.2 423.6,394.2 423.7,394.1 423.8,394.1 423.9,394.1 424.0,394.2 424.1,394.5 424.2,394.2 424.3,394.5 424.4,393.9 424.5,394.3 424.6,394.2 424.7,394.5 424.8,394.1 424.9,394.1 425.0,394.5 425.1,394.4 425.2,394.4 425.3,394.5 425.4,394.1 425.5,393.9 425.6,394.5 425.7,394.1 425.8,394.4 425.9,394.1 426.0,394.5 426.1,394.4 426.2,394.1 426.3,394.5 426.4,394.1 426.5,394.4 426.6,394.1 426.7,394.2 426.8,394.4 426.8,394.5 426.9,394.4 427.0,394.1 427.1,394.3 427.2,394.5 427.3,393.7 427.4,394.5 427.5,394.4 427.6,394.2 427.7,394.5 427.8,394.3 427.9,394.4 428.0,394.5 428.1,394.3 428.2,394.5 428.3,394.5 428.4,394.1 428.5,394.5 428.6,394.2 428.7,394.1 428.8,394.2 428.9,394.3 429.0,394.4 429.1,394.5 429.2,394.3 429.3,394.3 429.4,394.4 429.5,394.5 429.6,394.2 429.7,394.5 429.8,394.3 429.9,394.4 430.0,394.5 430.0,394.0 430.1,394.2 430.2,394.2 430.3,394.5 430.4,394.4 430.5,394.3 430.6,394.5 430.7,394.0 430.8,394.5 430.9,394.2 431.0,394.5 431.1,394.5 431.2,394.5 431.3,394.2 431.4,394.5 431.5,394.5 431.6,394.5 431.7,394.5 431.8,394.5 431.9,394.5 432.0,394.4 432.1,394.4 432.2,394.5 432.3,394.5 432.4,394.1 432.5,394.4 432.6,394.4 432.7,394.5 432.8,394.5 432.9,394.4 433.0,394.5 433.1,394.4 433.1,394.5 433.2,394.3 433.3,394.5 433.4,394.2 433.5,394.2 433.6,394.5 433.7,394.2 433.8,394.4 433.9,394.2 434.0,394.5 434.1,394.4 434.2,394.4 434.3,394.1 434.4,394.5 434.5,394.2 434.6,394.4 434.7,394.5 434.8,394.4 434.9,394.2 435.0,394.2 435.1,394.1 435.2,394.5 435.3,394.5 435.4,394.5 435.5,394.4 435.6,394.5 435.7,394.2 435.8,394.0 435.9,394.3 436.0,394.5 436.1,394.2 436.2,394.5 436.3,394.4 436.3,394.2 436.4,394.3 436.5,394.4 436.6,394.3 436.7,394.2 436.8,394.3 436.9,394.0 437.0,394.5 437.1,394.5 437.2,394.5 437.3,394.2 437.4,394.3 437.5,394.2 437.6,394.5 437.7,394.4 437.8,394.3 437.9,394.4 438.0,394.5 438.1,394.3 438.2,394.1 438.3,394.5 438.4,394.1 438.5,394.3 438.6,394.5 438.7,394.3 438.8,394.4 438.9,394.2 439.0,394.5 439.1,394.2 439.2,394.5 439.3,394.3 439.4,394.3 439.5,394.4 439.5,394.3 439.6,394.5 439.7,394.2 439.8,394.5 439.9,394.5 440.0,394.4 440.1,394.4 440.2,394.5 440.3,394.2 440.4,394.4 440.5,394.3 440.6,394.5 440.7,394.5 440.8,394.4 440.9,394.5 441.0,394.4 441.1,394.3 441.2,394.2 441.3,394.1 441.4,394.2 441.5,394.5 441.6,394.3 441.7,394.5 441.8,394.3 441.9,394.5 442.0,394.1 442.1,394.3 442.2,394.4 442.3,394.5 442.4,394.3 442.5,394.5 442.6,394.3 442.7,394.5 442.7,394.5 442.8,394.3 442.9,394.1 443.0,394.5 443.1,394.4 443.2,394.3 443.3,394.4 443.4,394.5 443.5,394.0 443.6,394.5 443.7,394.3 443.8,394.5 443.9,394.4 444.0,394.5 444.1,394.2 444.2,394.4 444.3,394.5 444.4,394.1 444.5,394.4 444.6,394.5 444.7,394.5 444.8,394.2 444.9,394.4 445.0,394.4 445.1,394.5 445.2,394.5 445.3,394.3 445.4,394.4 445.5,394.5 445.6,394.5 445.7,394.4 445.8,393.9 445.9,394.5 445.9,394.5 446.0,394.3 446.1,394.5 446.2,394.5 446.3,394.3 446.4,394.4 446.5,394.5 446.6,394.5 446.7,394.4 446.8,394.4 446.9,394.5 447.0,394.2 447.1,394.5 447.2,394.2 447.3,394.3 447.4,394.4 447.5,394.3 447.6,394.5 447.7,394.4 447.8,394.1 447.9,394.5 448.0,394.3 448.1,394.5 448.2,394.4 448.3,394.2 448.4,394.5 448.5,394.3 448.6,394.5 448.7,394.5 448.8,394.5 448.9,394.2 449.0,394.3 449.1,394.5 449.1,394.4 449.2,394.4 449.3,394.5 449.4,394.3 449.5,394.2 449.6,394.2 449.7,394.5 449.8,394.5"/>
<path stroke="#000" d="M60.0,388.8 60.0,388.1 60.1,388.2 60.2,387.8 60.3,387.4 60.4,388.1 60.5,388.5 60.6,389.4 60.7,389.3 60.8,388.9 60.9,388.2 61.0,388.2 61.1,388.4 61.2,388.5 61.3,387.9 61.4,388.2 61.5,388.1 61.6,388.1 61.7,388.8 61.8,389.2 61.9,387.9 62.0,388.0 62.1,388.5 62.2,388.7 62.3,386.3 62.4,388.9 62.5,388.5 62.6,388.0 62.7,389.2 62.8,388.1 62.9,386.6 63.0,387.4 63.1,387.6 63.2,387.7 63.2,388.1 63.3,387.3 63.4,388.3 63.5,388.5 63.6,388.0 63.7,387.3 63.8,387.8 63.9,387.5 64.0,389.9 64.1,387.0 64.2,386.0 64.3,386.8 64.4,388.3 64.5,388.8 64.6,387.7 64.7,388.9 64.8,387.3 64.9,388.4 65.0,387.1 65.1,386.7 65.2,389.7 65.3,387.6 65.4,388.5 65.5,389.1 65.6,388.4 65.7,388.1 65.8,386.9 65.9,389.2 66.0,386.9 66.1,386.0 66.2,387.2 66.3,387.3 66.4,387.8 66.4,388.8 66.5,387.3 66.6,387.4 66.7,387.0 66.8,385.4 66.9,387.0 67.0,387.3 67.1,386.2 67.2,388.9 67.3,388.7 67.4,388.0 67.5,388.2 67.6,387.0 67.7,387.9 67.8,386.0 67.9,386.2 68.0,386.8 68.1,387.9 68.2,386.9 68.3,386.8 68.4,388.5 68.5,387.2 68.6,386.8 68.7,387.2 68.8,386.0 68.9,386.3 69.0,388.2 69.1,387.3 69.2,388.2 69.3,386.8 69.4,388.2 69.5,386.5 69.5,387.0 69.6,386.4 69.7,387.4 69.8,388.6 69.9,385.6 70.0,387.4 70.1,385.9 70.2,386.8 70.3,386.6 70.4,385.5 70.5,386.9 70.6,385.8 70.7,388.6 70.8,386.3 70.9,387.4 71.0,387.2 71.1,387.1 71.2,386.8 71.3,385.5 71.4,388.8 71.5,387.0 71.6,387.7 71.7,385.9 71.8,387.4 71.9,386.6 72.0,387.4 72.1,386.4 72.2,386.0 72.3,387.4 72.4,387.0 72.5,388.4 72.6,386.7 72.7,386.2 72.7,387.5 72.8,385.9 72.9,389.0 73.0,388.7 73.1,388.3 73.2,387.4 73.3,386.9 73.4,387.0 73.5,387.0 73.6,386.2 73.7,387.4 73.8,388.1 73.9,388.1 74.0,384.9 74.1,389.2 74.2,387.1 74.3,385.5 74.4,386.4 74.5,387.7 74.6,386.9 74.7,386.0 74.8,385.7 74.9,387.7 75.0,386.1 75.1,386.6 75.2,385.8 75.3,385.5 75.4,387.2 75.5,388.2 75.6,386.5 75.7,385.1 75.8,386.2 75.9,386.6 75.9,384.5 76.0,387.8 76.1,385.9 76.2,387.3 76.3,386.7 76.4,386.7 76.5,385.3 76.6,387.7 76.7,387.3 76.8,388.3 76.9,386.3 77.0,387.2 77.1,386.3 77.2,387.8 77.3,387.1 77.4,385.7 77.5,386.9 77.6,386.1 77.7,386.2 77.8,387.1 77.9,388.2 78.0,385.7 78.1,386.5 78.2,385.7 78.3,388.6 78.4,388.3 78.5,388.8 78.6,387.5 78.7,385.6 78.8,386.1 78.9,386.7 79.0,386.5 79.1,385.9 79.1,386.9 79.2,386.2 79.3,386.5 79.4,388.8 79.5,387.0 79.6,385.3 79.7,387.0 79.8,386.7 79.9,387.2 80.0,387.1 80.1,385.5 80.2,386.8 80.3,387.6 80.4,389.6 80.5,387.1 80.6,388.5 80.7,388.3 80.8,385.8 80.9,385.8 81.0,388.4 81.1,385.7 81.2,386.1 81.3,387.3 81.4,385.8 81.5,388.1 81.6,387.7 81.7,387.9 81.8,387.6 81.9,385.6 82.0,387.8 82.1,387.6 82.2,387.4 82.3,386.3 82.3,386.8 82.4,385.6 82.5,387.1 82.6,387.7 82.7,386.9 82.8,386.4 82.9,387.3 83.0,386.1 83.1,384.6 83.2,387.0 83.3,386.4 83.4,385.1 83.5,387.0 83.6,387.2 83.7,387.5 83.8,386.0 83.9,385.9 84.0,386.5 84.1,386.3 84.2,385.1 84.3,385.5 84.4,387.8 84.5,386.4 84.6,386.2 84.7,385.6 84.8,386.6 84.9,387.0 85.0,386.8 85.1,388.1 85.2,386.4 85.3,387.0 85.4,385.9 85.5,387.4 85.5,386.8 85.6,387.4 85.7,387.5 85.8,385.7 85.9,386.9 86.0,386.0 86.1,387.6 86.2,386.4 86.3,388.2 86.4,387.0 86.5,387.0 86.6,386.0 86.7,386.4 86.8,386.7 86.9,385.7 87.0,386.4 87.1,386.1 87.2,385.9 87.3,386.7 87.4,386.9 87.5,386.3 87.6,387.1 87.7,386.3 87.8,385.6 87.9,385.9 88.0,387.1 88.1,388.0 88.2,386.8 88.3,386.9 88.4,385.7 88.5,387.1 88.6,387.0 88.7,386.1 88.7,387.3 88.8,387.0 88.9,385.1 89.0,385.4 89.1,386.2 89.2,386.6 89.3,387.8 89.4,386.3 89.5,386.8 89.6,386.7 89.7,387.4 89.8,386.9 89.9,387.1 90.0,386.6 90.1,385.6 90.2,386.6 90.3,388.6 90.4,387.9 90.5,388.5 90.6,387.8 90.7,386.5 90.8,386.6 90.9,387.6 91.0,386.8 91.1,387.8 91.2,388.4 91.3,388.4 91.4,387.9 91.5,385.7 91.6,388.4 91.7,385.9 91.8,385.9 91.9,387.3 91.9,387.2 92.0,387.7 92.1,387.2 92.2,386.6 92.3,387.2 92.4,386.3 92.5,386.1 92.6,386.9 92.7,386.9 92.8,387.3 92.9,386.9 93.0,388.3 93.1,386.9 93.2,387.1 93.3,388.1 93.4,385.3 93.5,388.2 93.6,388.1 93.7,387.1 93.8,389.2 93.9,388.1 94.0,388.8 94.1,388.3 94.2,387.5 94.3,387.1 94.4,386.4 94.5,386.7 94.6,386.3 94.7,386.9 94.8,387.9 94.9,386.4 95.0,387.9 95.1,388.0 95.1,386.1 95.2,386.8 95.3,387.3 95.4,386.8 95.5,386.7 95.6,388.8 95.7,387.6 95.8,388.6 95.9,387.5 96.0,388.2 96.1,386.3 96.2,387.1 96.3,388.4 96.4,387.6 96.5,388.7 96.6,387.6 96.7,387.1 96.8,387.4 96.9,389.4 97.0,388.0 97.1,387.2 97.2,387.4 97.3,386.6 97.4,388.9 97.5,387.2 97.6,388.3 97.7,387.6 97.8,387.4 97.9,387.1 98.0,388.3 98.1,387.6 98.2,388.7 98.2,388.1 98.3,384.6 98.4,381.6 98.5,379.8 98.6,381.8 98.7,384.9 98.8,385.8 98.9,386.8 99.0,387.1 99.1,389.5 99.2,388.0 99.3,387.5 99.4,387.6 99.5,387.5 99.6,388.1 99.7,386.4 99.8,386.6 99.9,388.0 100.0,388.8 100.1,386.1 100.2,388.5 100.3,386.9 100.4,386.3 100.5,388.9 100.6,387.8 100.7,388.4 100.8,387.6 100.9,387.8 101.0,386.4 101.1,387.6 101.2,388.1 101.3,387.1 101.4,388.4 101.4,388.5 101.5,386.2 101.6,388.9 101.7,388.6 101.8,388.2 101.9,389.2 102.0,390.1 102.1,387.4 102.2,389.0 102.3,388.8 102.4,388.6 102.5,389.2 102.6,389.3 102.7,388.2 102.8,386.3 102.9,387.8 103.0,387.8 103.1,389.7 103.2,388.5 103.3,389.5 103.4,387.8 103.5,388.7 103.6,388.5 103.7,388.6 103.8,389.0 103.9,389.9 104.0,388.1 104.1,389.8 104.2,389.6 104.3,388.9 104.4,389.2 104.5,388.4 104.6,387.8 104.6,388.5 104.7,388.5 104.8,388.7 104.9,388.0 105.0,390.3 105.1,388.4 105.2,389.5 105.3,389.8 105.4,388.8 105.5,389.1 105.6,388.3 105.7,387.9 105.8,390.8 105.9,388.9 106.0,387.2 106.1,388.1 106.2,387.7 106.3,388.8 106.4,390.1 106.5,389.9 106.6,388.4 106.7,388.2 106.8,389.6 106.9,389.2 107.0,388.8 107.1,390.5 107.2,389.3 107.3,387.7 107.4,387.3 107.5,389.2 107.6,387.6 107.7,389.5 107.8,389.8 107.8,390.9 107.9,388.3 108.0,389.4 108.1,387.3 108.2,388.9 108.3,389.0 108.4,390.7 108.5,388.0 108.6,389.5 108.7,389.4 108.8,391.0 108.9,388.5 109.0,388.4 109.1,389.3 109.2,387.8 109.3,386.1 109.4,385.3 109.5,386.2 109.6,387.0 109.7,389.1 109.8,389.8 109.9,389.7 110.0,391.4 110.1,390.0 110.2,388.6 110.3,389.2 110.4,390.1 110.5,389.2 110.6,391.1 110.7,389.7 110.8,389.1 110.9,389.0 111.0,390.1 111.0,388.8 111.1,388.1 111.2,389.9 111.3,389.0 111.4,390.8 111.5,391.1 111.6,389.1 111.7,389.6 111.8,389.5 111.9,390.1 112.0,389.9 112.1,389.0 112.2,388.4 112.3,389.8 112.4,391.0 112.5,388.7 112.6,389.3 112.7,389.2 112.8,389.6 112.9,388.0 113.0,389.7 113.1,389.4 113.2,391.2 113.3,390.2 113.4,390.3 113.5,389.8 113.6,389.6 113.7,390.4 113.8,388.6 113.9,390.7 114.0,390.2 114.1,389.7 114.2,390.8 114.2,389.5 114.3,389.5 114.4,390.2 114.5,388.5 114.6,389.9 114.7,389.8 114.8,390.7 114.9,391.2 115.0,390.5 115.1,390.2 115.2,390.4 115.3,389.5 115.4,391.8 115.5,390.9 115.6,391.4 115.7,389.1 115.8,390.5 115.9,390.5 116.0,390.9 116.1,389.5 116.2,390.4 116.3,390.0 116.4,391.6 116.5,389.3 116.6,389.9 116.7,389.8 116.8,389.3 116.9,390.4 117.0,390.3 117.1,389.7 117.2,389.9 117.3,390.4 117.4,390.2 117.4,390.6 117.5,389.8 117.6,389.6 117.7,390.3 117.8,389.0 117.9,391.4 118.0,390.5 118.1,389.2 118.2,390.7 118.3,391.5 118.4,389.4 118.5,390.0 118.6,391.2 118.7,389.9 118.8,391.1 118.9,391.4 119.0,390.6 119.1,390.8 119.2,391.2 119.3,390.7 119.4,391.2 119.5,390.5 119.6,390.5 119.7,390.0 119.8,390.8 119.9,391.4 120.0,391.4 120.1,390.6 120.2,389.1 120.3,388.3 120.4,386.6 120.5,385.3 120.6,386.6 120.6,388.3 120.7,390.3 120.8,390.1 120.9,390.2 121.0,390.9 121.1,390.5 121.2,391.4 121.3,390.7 121.4,390.0 121.5,388.0 121.6,390.3 121.7,390.7 121.8,391.4 121.9,390.1 122.0,391.9 122.1,391.3 122.2,390.6 122.3,391.6 122.4,389.8 122.5,390.1 122.6,391.2 122.7,391.2 122.8,391.7 122.9,391.8 123.0,390.6 123.1,390.5 123.2,390.7 123.3,390.7 123.4,391.3 123.5,390.7 123.6,391.9 123.7,390.9 123.8,390.0 123.8,390.1 123.9,391.3 124.0,391.2 124.1,390.1 124.2,389.9 124.3,391.9 124.4,391.3 124.5,390.9 124.6,390.3 124.7,391.6 124.8,390.6 124.9,391.2 125.0,389.6 125.1,390.8 125.2,391.2 125.3,391.3 125.4,390.4 125.5,390.7 125.6,391.8 125.7,391.0 125.8,392.0 125.9,391.6 126.0,391.9 126.1,392.0 126.2,391.6 126.3,391.8 126.4,390.9 126.5,390.7 126.6,391.3 126.7,391.9 126.8,390.7 126.9,392.5 127.0,392.4 127.0,390.8 127.1,390.9 127.2,390.7 127.3,391.4 127.4,392.0 127.5,391.6 127.6,391.0 127.7,391.8 127.8,391.7 127.9,392.1 128.0,392.0 128.1,390.8 128.2,391.1 128.3,392.0 128.4,392.0 128.5,391.7 128.6,391.1 128.7,392.1 128.8,391.5 128.9,392.7 129.0,392.1 129.1,391.2 129.2,390.9 129.3,392.1 129.4,391.9 129.5,391.0 129.6,391.7 129.7,391.8 129.8,391.2 129.9,391.4 130.0,390.8 130.1,391.0 130.1,391.8 130.2,391.5 130.3,391.5 130.4,392.3 130.5,392.0 130.6,390.9 130.7,392.4 130.8,390.9 130.9,391.3 131.0,391.6 131.1,391.2 131.2,391.2 131.3,390.8 131.4,391.7 131.5,391.6 131.6,391.7 131.7,390.5 131.8,391.0 131.9,392.1 132.0,391.7 132.1,391.9 132.2,391.5 132.3,391.4 132.4,390.3 132.5,392.6 132.6,391.0 132.7,391.3 132.8,392.0 132.9,391.6 133.0,391.8 133.1,391.5 133.2,391.0 133.3,392.4 133.3,390.8 133.4,391.8 133.5,390.7 133.6,391.4 133.7,390.9 133.8,391.3 133.9,391.0 134.0,391.6 134.1,392.1 134.2,391.2 134.3,391.2 134.4,390.4 134.5,392.7 134.6,391.7 134.7,391.0 134.8,392.3 134.9,391.7 135.0,390.5 135.1,390.8 135.2,392.1 135.3,390.8 135.4,391.0 135.5,391.2 135.6,391.4 135.7,391.5 135.8,392.1 135.9,391.9 136.0,391.3 136.1,391.6 136.2,390.6 136.3,391.8 136.4,393.0 136.5,391.8 136.5,391.5 136.6,391.5 136.7,391.6 136.8,392.1 136.9,390.9 137.0,392.0 137.1,391.3 137.2,391.8 137.3,392.3 137.4,390.9 137.5,393.0 137.6,392.2 137.7,391.5 137.8,391.9 137.9,391.3 138.0,391.8 138.1,392.0 138.2,390.6 138.3,391.8 138.4,391.8 138.5,392.3 138.6,392.1 138.7,391.4 138.8,391.4 138.9,391.7 139.0,392.1 139.1,391.4 139.2,392.6 139.3,391.9 139.4,391.9 139.5,392.2 139.6,391.7 139.7,392.1 139.7,392.2 139.8,390.8 139.9,391.4 140.0,391.1 140.1,391.7 140.2,391.3 140.3,391.4 140.4,391.1 140.5,390.5 140.6,391.9 140.7,391.6 140.8,391.8 140.9,393.6 141.0,392.5 141.1,391.8 141.2,391.4 141.3,392.1 141.4,391.2 141.5,391.1 141.6,392.0 141.7,391.0 141.8,390.9 141.9,391.6 142.0,392.3 142.1,391.0 142.2,391.9 142.3,392.0 142.4,391.7 142.5,392.1 142.6,391.2 142.7,391.4 142.8,391.2 142.9,391.5 142.9,392.2 143.0,391.9 143.1,391.4 143.2,392.0 143.3,390.3 143.4,392.0 143.5,392.1 143.6,391.2 143.7,391.4 143.8,391.8 143.9,392.0 144.0,391.6 144.1,391.4 144.2,391.4 144.3,392.0 144.4,391.6 144.5,391.4 144.6,391.5 144.7,393.4 144.8,392.3 144.9,392.3 145.0,392.0 145.1,391.8 145.2,391.4 145.3,391.5 145.4,391.9 145.5,391.9 145.6,391.0 145.7,392.2 145.8,391.7 145.9,391.1 146.0,391.7 146.1,392.9 146.1,391.7 146.2,392.1 146.3,391.9 146.4,391.3 146.5,391.6 146.6,392.0 146.7,391.4 146.8,391.7 146.9,391.8 147.0,391.7 147.1,391.8 147.2,392.1 147.3,392.1 147.4,391.9 147.5,392.4 147.6,392.6 147.7,391.2 147.8,392.0 147.9,391.9 148.0,392.0 148.1,391.9 148.2,391.9 148.3,391.9 148.4,392.3 148.5,391.5 148.6,392.3 148.7,391.4 148.8,392.9 148.9,392.5 149.0,391.4 149.1,392.0 149.2,392.3 149.3,391.8 149.3,392.5 149.4,391.9 149.5,393.1 149.6,392.2 149.7,392.3 149.8,391.7 149.9,391.5 150.0,392.4 150.1,391.2 150.2,392.3 150.3,393.0 150.4,393.2 150.5,391.3 150.6,392.1 150.7,392.4 150.8,392.5 150.9,392.6 151.0,391.4 151.1,392.2 151.2,391.3 151.3,392.2 151.4,393.3 151.5,391.8 151.6,392.3 151.7,391.5 151.8,386.9 151.9,375.9 152.0,356.8 152.1,346.7 152.2,357.0 152.3,375.7 152.4,387.9 152.5,390.9 152.5,391.8 152.6,392.3 152.7,392.0 152.8,392.1 152.9,392.5 153.0,391.9 153.1,392.5 153.2,392.1 153.3,392.8 153.4,392.3 153.5,392.2 153.6,392.7 153.7,392.6 153.8,392.6 153.9,392.0 154.0,392.7 154.1,392.2 154.2,391.7 154.3,392.2 154.4,393.1 154.5,392.3 154.6,391.9 154.7,392.5 154.8,391.9 154.9,392.1 155.0,392.2 155.1,392.5 155.2,392.6 155.3,392.5 155.4,392.4 155.5,392.2 155.6,392.2 155.7,392.5 155.7,392.4 155.8,392.2 155.9,393.2 156.0,392.8 156.1,392.8 156.2,392.5 156.3,392.5 156.4,392.5 156.5,392.8 156.6,392.1 156.7,392.3 156.8,393.2 156.9,392.4 157.0,392.9 157.1,391.7 157.2,392.6 157.3,392.6 157.4,392.4 157.5,392.5 157.6,392.5 157.7,391.7 157.8,392.3 157.9,392.1 158.0,391.9 158.1,392.9 158.2,391.7 158.3,392.1 158.4,392.0 158.5,392.9 158.6,392.1 158.7,392.3 158.8,392.7 158.8,391.4 158.9,392.2 159.0,392.6 159.1,392.4 159.2,392.1 159.3,392.0 159.4,392.2 159.5,391.9 159.6,391.8 159.7,393.1 159.8,392.7 159.9,392.9 160.0,392.5 160.1,391.8 160.2,392.2 160.3,393.0 160.4,392.6 160.5,392.0 160.6,392.7 160.7,392.1 160.8,390.9 160.9,389.5 161.0,388.4 161.1,389.3 161.2,390.9 161.3,392.5 161.4,392.8 161.5,392.8 161.6,392.4 161.7,392.5 161.8,392.5 161.9,391.7 162.0,392.0 162.0,392.9 162.1,392.8 162.2,391.8 162.3,392.7 162.4,391.9 162.5,391.8 162.6,392.8 162.7,392.7 162.8,392.5 162.9,392.9 163.0,393.0 163.1,392.7 163.2,392.2 163.3,392.8 163.4,392.7 163.5,392.8 163.6,393.2 163.7,391.9 163.8,393.6 163.9,392.9 164.0,392.3 164.1,393.2 164.2,392.3 164.3,392.0 164.4,393.0 164.5,392.5 164.6,393.1 164.7,392.4 164.8,392.6 164.9,392.5 165.0,392.0 165.1,392.4 165.2,392.0 165.2,392.2 165.3,392.4 165.4,390.2 165.5,387.5 165.6,386.0 165.7,387.4 165.8,390.2 165.9,391.8 166.0,392.9 166.1,392.6 166.2,392.5 166.3,392.8 166.4,392.6 166.5,393.6 166.6,392.0 166.7,393.1 166.8,393.6 166.9,393.1 167.0,393.0 167.1,392.4 167.2,393.1 167.3,392.5 167.4,393.1 167.5,391.7 167.6,392.4 167.7,391.8 167.8,393.1 167.9,392.4 168.0,393.1 168.1,392.4 168.2,392.4 168.3,393.4 168.4,393.2 168.4,393.2 168.5,393.3 168.6,393.0 168.7,393.1 168.8,393.3 168.9,392.7 169.0,392.5 169.1,393.3 169.2,392.9 169.3,392.7 169.4,392.8 169.5,393.0 169.6,392.4 169.7,392.3 169.8,392.4 169.9,392.8 170.0,391.9 170.1,391.9 170.2,392.4 170.3,391.2 170.4,389.2 170.5,388.4 170.6,389.3 170.7,391.1 170.8,392.6 170.9,392.8 171.0,393.4 171.1,393.0 171.2,393.6 171.3,391.8 171.4,392.1 171.5,392.2 171.6,392.6 171.6,392.3 171.7,392.2 171.8,392.3 171.9,392.4 172.0,393.1 172.1,392.6 172.2,393.0 172.3,393.3 172.4,393.2 172.5,392.6 172.6,392.3 172.7,393.4 172.8,392.0 172.9,392.2 173.0,392.9 173.1,393.0 173.2,392.8 173.3,392.4 173.4,392.9 173.5,393.3 173.6,392.6 173.7,393.7 173.8,392.7 173.9,392.3 174.0,392.7 174.1,392.5 174.2,392.6 174.3,392.5 174.4,392.7 174.5,393.2 174.6,392.9 174.7,392.8 174.8,392.3 174.8,392.1 174.9,392.6 175.0,393.1 175.1,393.1 175.2,392.9 175.3,392.2 175.4,392.7 175.5,392.9 175.6,393.2 175.7,392.5 175.8,392.7 175.9,392.9 176.0,392.8 176.1,392.1 176.2,392.9 176.3,392.1 176.4,392.3 176.5,392.8 176.6,392.5 176.7,392.9 176.8,393.2 176.9,393.0 177.0,393.2 177.1,392.6 177.2,392.9 177.3,392.6 177.4,392.5 177.5,394.2 177.6,392.7 177.7,393.6 177.8,392.8 177.9,393.2 178.0,392.8 178.0,392.3 178.1,393.6 178.2,392.8 178.3,392.9 178.4,393.7 178.5,392.6 178.6,392.9 178.7,393.1 178.8,393.2 178.9,391.6 179.0,393.1 179.1,393.6 179.2,393.3 179.3,393.1 179.4,393.1 179.5,392.9 179.6,393.3 179.7,392.7 179.8,393.1 179.9,393.5 180.0,393.2 180.1,393.1 180.2,392.6 180.3,392.7 180.4,393.1 180.5,392.9 180.6,392.8 180.7,392.1 180.8,393.2 180.9,392.7 181.0,392.6 181.1,393.3 181.2,392.9 181.2,392.9 181.3,393.1 181.4,392.7 181.5,392.5 181.6,392.5 181.7,393.0 181.8,392.9 181.9,392.0 182.0,393.4 182.1,392.9 182.2,392.6 182.3,392.9 182.4,392.7 182.5,392.9 182.6,392.7 182.7,392.5 182.8,393.1 182.9,392.9 183.0,393.0 183.1,393.1 183.2,393.0 183.3,393.4 183.4,392.7 183.5,392.3 183.6,392.3 183.7,392.5 183.8,393.4 183.9,392.4 184.0,393.3 184.1,393.0 184.2,392.3 184.3,393.4 184.4,392.7 184.4,392.9 184.5,393.1 184.6,393.3 184.7,392.8 184.8,393.2 184.9,392.6 185.0,392.5 185.1,393.5 185.2,393.2 185.3,393.1 185.4,393.5 185.5,393.5 185.6,393.0 185.7,393.1 185.8,393.7 185.9,393.2 186.0,392.8 186.1,393.5 186.2,393.4 186.3,392.4 186.4,392.5 186.5,393.7 186.6,393.6 186.7,392.9 186.8,393.5 186.9,393.1 187.0,393.2 187.1,392.8 187.2,394.0 187.3,393.9 187.4,393.5 187.5,392.7 187.6,393.1 187.6,393.7 187.7,392.9 187.8,392.8 187.9,393.1 188.0,393.2 188.1,392.9 188.2,392.6 188.3,393.0 188.4,392.9 188.5,393.1 188.6,393.2 188.7,393.4 188.8,393.0 188.9,393.2 189.0,393.2 189.1,392.7 189.2,392.9 189.3,392.7 189.4,393.7 189.5,392.9 189.6,393.3 189.7,393.4 189.8,393.4 189.9,392.6 190.0,392.8 190.1,393.4 190.2,393.5 190.3,393.1 190.4,393.3 190.5,392.5 190.6,393.7 190.7,393.8 190.7,393.2 190.8,393.1 190.9,393.1 191.0,392.8 191.1,392.3 191.2,393.2 191.3,393.3 191.4,393.8 191.5,393.0 191.6,392.8 191.7,393.2 191.8,392.7 191.9,393.1 192.0,392.5 192.1,393.0 192.2,393.5 192.3,393.4 192.4,393.7 192.5,393.8 192.6,393.0 192.7,392.8 192.8,392.4 192.9,393.2 193.0,393.2 193.1,393.6 193.2,392.8 193.3,393.0 193.4,393.4 193.5,392.9 193.6,392.9 193.7,393.9 193.8,392.9 193.9,393.1 193.9,393.3 194.0,393.3 194.1,392.5 194.2,392.6 194.3,392.5 194.4,393.6 194.5,393.4 194.6,392.8 194.7,393.6 194.8,393.4 194.9,393.8 195.0,392.5 195.1,392.8 195.2,393.0 195.3,393.1 195.4,393.3 195.5,393.3 195.6,392.9 195.7,393.4 195.8,392.7 195.9,393.4 196.0,393.5 196.1,392.7 196.2,393.2 196.3,393.0 196.4,393.3 196.5,394.0 196.6,393.0 196.7,393.7 196.8,392.8 196.9,393.8 197.0,393.9 197.1,393.1 197.1,393.0 197.2,393.2 197.3,393.7 197.4,392.9 197.5,393.7 197.6,393.4 197.7,393.5 197.8,393.3 197.9,392.9 198.0,393.4 198.1,393.0 198.2,393.0 198.3,393.8 198.4,393.6 198.5,393.4 198.6,393.4 198.7,393.1 198.8,393.9 198.9,393.0 199.0,393.0 199.1,393.3 199.2,393.7 199.3,393.2 199.4,393.4 199.5,393.0 199.6,393.3 199.7,393.0 199.8,393.4 199.9,392.7 200.0,394.1 200.1,393.6 200.2,393.1 200.3,393.8 200.3,393.0 200.4,393.7 200.5,393.2 200.6,393.6 200.7,393.4 200.8,393.2 200.9,393.3 201.0,393.4 201.1,392.5 201.2,393.2 201.3,393.6 201.4,392.9 201.5,393.0 201.6,392.8 201.7,392.6 201.8,393.6 201.9,392.9 202.0,392.8 202.1,393.3 202.2,393.2 202.3,394.3 202.4,393.5 202.5,392.6 202.6,393.9 202.7,393.5 202.8,393.2 202.9,393.1 203.0,392.7 203.1,393.9 203.2,393.2 203.3,393.0 203.4,393.7 203.5,393.3 203.5,392.6 203.6,392.8 203.7,393.1 203.8,394.2 203.9,393.3 204.0,393.1 204.1,393.4 204.2,393.3 204.3,392.2 204.4,393.3 204.5,393.6 204.6,393.2 204.7,393.4 204.8,393.4 204.9,393.3 205.0,393.0 205.1,393.2 205.2,393.7 205.3,393.3 205.4,393.1 205.5,393.4 205.6,392.9 205.7,393.0 205.8,393.6 205.9,393.2 206.0,392.6 206.1,392.7 206.2,393.3 206.3,393.0 206.4,393.5 206.5,393.8 206.6,393.1 206.7,393.2 206.7,393.1 206.8,393.3 206.9,393.2 207.0,393.5 207.1,393.1 207.2,393.0 207.3,393.3 207.4,393.0 207.5,393.9 207.6,393.6 207.7,392.8 207.8,392.7 207.9,393.2 208.0,393.3 208.1,393.7 208.2,393.2 208.3,393.0 208.4,393.8 208.5,393.1 208.6,393.1 208.7,393.1 208.8,393.7 208.9,393.1 209.0,393.8 209.1,392.8 209.2,393.3 209.3,393.7 209.4,392.8 209.5,392.9 209.6,393.5 209.7,392.5 209.8,393.7 209.9,393.2 209.9,392.9 210.0,394.1 210.1,393.0 210.2,393.3 210.3,393.3 210.4,393.7 210.5,393.2 210.6,393.7 210.7,393.7 210.8,393.5 210.9,393.7 211.0,392.8 211.1,393.8 211.2,393.6 211.3,393.4 211.4,393.3 211.5,393.0 211.6,393.0 211.7,393.4 211.8,393.5 211.9,393.3 212.0,393.0 212.1,393.1 212.2,393.5 212.3,394.0 212.4,392.6 212.5,393.0 212.6,393.2 212.7,393.2 212.8,393.5 212.9,393.7 213.0,393.4 213.1,393.4 213.1,393.5 213.2,393.8 213.3,393.4 213.4,393.1 213.5,393.5 213.6,393.3 213.7,394.1 213.8,393.4 213.9,393.4 214.0,393.8 214.1,393.9 214.2,393.2 214.3,393.6 214.4,393.2 214.5,393.5 214.6,393.1 214.7,393.5 214.8,393.9 214.9,393.4 215.0,393.5 215.1,393.1 215.2,393.5 215.3,393.5 215.4,393.0 215.5,392.9 215.6,393.1 215.7,393.0 215.8,393.2 215.9,393.1 216.0,393.0 216.1,393.2 216.2,393.3 216.3,393.3 216.3,392.5 216.4,393.3 216.5,393.4 216.6,393.5 216.7,393.4 216.8,393.3 216.9,393.7 217.0,394.0 217.1,393.2 217.2,393.9 217.3,393.3 217.4,393.3 217.5,392.9 217.6,392.8 217.7,393.2 217.8,393.5 217.9,393.8 218.0,393.6 218.1,393.3 218.2,394.1 218.3,393.3 218.4,393.4 218.5,393.1 218.6,393.5 218.7,393.3 218.8,393.6 218.9,393.5 219.0,394.0 219.1,393.3 219.2,392.8 219.3,393.3 219.4,393.2 219.4,393.7 219.5,392.9 219.6,393.6 219.7,393.1 219.8,393.3 219.9,393.7 220.0,393.0 220.1,393.4 220.2,393.3 220.3,393.2 220.4,393.4 220.5,393.5 220.6,393.2 220.7,393.5 220.8,393.3 220.9,393.6 221.0,393.9 221.1,393.6 221.2,393.5 221.3,393.4 221.4,393.0 221.5,394.0 221.6,393.3 221.7,394.1 221.8,393.7 221.9,393.6 222.0,394.2 222.1,394.0 222.2,393.3 222.3,393.4 222.4,393.4 222.5,393.7 222.6,392.6 222.6,393.4 222.7,393.7 222.8,392.8 222.9,393.2 223.0,393.5 223.1,393.0 223.2,393.3 223.3,393.2 223.4,393.3 223.5,393.7 223.6,393.1 223.7,393.3 223.8,393.7 223.9,393.7 224.0,393.1 224.1,393.5 224.2,393.4 224.3,393.2 224.4,393.3 224.5,393.9 224.6,393.2 224.7,393.1 224.8,393.1 224.9,392.8 225.0,393.3 225.1,393.1 225.2,392.9 225.3,393.5 225.4,392.8 225.5,392.8 225.6,393.1 225.7,392.8 225.8,393.1 225.8,393.7 225.9,393.0 226.0,393.3 226.1,393.3 226.2,393.3 226.3,392.9 226.4,393.2 226.5,393.6 226.6,393.2 226.7,393.2 226.8,393.7 226.9,393.6 227.0,393.5 227.1,393.6 227.2,393.3 227.3,393.1 227.4,392.8 227.5,393.0 227.6,393.1 227.7,393.0 227.8,393.0 227.9,393.5 228.0,393.2 228.1,393.3 228.2,393.5 228.3,393.6 228.4,393.6 228.5,393.4 228.6,393.2 228.7,391.0 228.8,388.6 228.9,387.1 229.0,388.5 229.0,391.0 229.1,393.0 229.2,393.3 229.3,394.0 229.4,394.2 229.5,394.1 229.6,392.9 229.7,394.0 229.8,393.3 229.9,392.9 230.0,393.6 230.1,392.9 230.2,392.8 230.3,393.1 230.4,392.6 230.5,393.2 230.6,393.7 230.7,393.3 230.8,393.6 230.9,393.9 231.0,393.9 231.1,392.6 231.2,393.6 231.3,393.4 231.4,393.7 231.5,393.4 231.6,393.5 231.7,393.6 231.8,393.8 231.9,393.9 232.0,393.7 232.1,393.3 232.2,392.7 232.2,393.1 232.3,392.8 232.4,393.3 232.5,393.5 232.6,393.9 232.7,393.4 232.8,394.2 232.9,393.5 233.0,392.9 233.1,393.3 233.2,393.1 233.3,393.6 233.4,393.9 233.5,393.6 233.6,393.6 233.7,393.0 233.8,392.8 233.9,393.7 234.0,393.6 234.1,393.5 234.2,393.6 234.3,393.9 234.4,393.4 234.5,393.3 234.6,393.3 234.7,393.8 234.8,393.5 234.9,394.0 235.0,393.1 235.1,393.8 235.2,393.5 235.3,393.6 235.4,393.6 235.4,393.8 235.5,394.0 235.6,392.9 235.7,393.4 235.8,393.4 235.9,392.7 236.0,393.5 236.1,393.3 236.2,393.4 236.3,393.1 236.4,393.3 236.5,393.3 236.6,393.5 236.7,393.4 236.8,393.1 236.9,394.1 237.0,393.5 237.1,393.6 237.2,393.6 237.3,394.1 237.4,393.2 237.5,393.7 237.6,393.5 237.7,393.6 237.8,394.0 237.9,393.6 238.0,394.1 238.1,393.8 238.2,393.6 238.3,393.5 238.4,393.4 238.5,393.5 238.6,392.8 238.6,393.3 238.7,393.9 238.8,393.7 238.9,393.7 239.0,393.5 239.1,393.7 239.2,393.7 239.3,392.9 239.4,393.5 239.5,393.6 239.6,393.5 239.7,393.5 239.8,392.7 239.9,392.1 240.0,390.6 240.1,389.9 240.2,390.7 240.3,392.0 240.4,392.5 240.5,393.4 240.6,394.0 240.7,393.3 240.8,393.7 240.9,394.1 241.0,393.7 241.1,393.1 241.2,393.1 241.3,393.2 241.4,393.8 241.5,392.6 241.6,393.9 241.7,393.5 241.8,394.0 241.8,393.0 241.9,393.3 242.0,393.2 242.1,393.4 242.2,393.5 242.3,393.4 242.4,394.1 242.5,393.2 242.6,393.2 242.7,393.6 242.8,393.5 242.9,393.4 243.0,393.0 243.1,393.3 243.2,393.5 243.3,393.7 243.4,394.0 243.5,393.7 243.6,393.5 243.7,393.6 243.8,393.5 243.9,393.2 244.0,393.3 244.1,393.4 244.2,393.3 244.3,393.4 244.4,393.5 244.5,393.3 244.6,394.1 244.7,393.1 244.8,393.9 244.9,393.2 245.0,393.5 245.0,393.1 245.1,393.5 245.2,393.8 245.3,393.1 245.4,393.4 245.5,393.5 245.6,393.5 245.7,393.2 245.8,393.2 245.9,393.4 246.0,394.0 246.1,393.6 246.2,393.5 246.3,392.9 246.4,393.4 246.5,393.5 246.6,393.1 246.7,393.5 246.8,393.5 246.9,393.4 247.0,394.0 247.1,393.2 247.2,393.4 247.3,393.6 247.4,393.9 247.5,393.4 247.6,393.0 247.7,393.7 247.8,393.8 247.9,393.4 248.0,394.0 248.1,394.2 248.2,393.6 248.2,393.7 248.3,393.6 248.4,393.7 248.5,393.4 248.6,393.6 248.7,393.7 248.8,393.7 248.9,393.3 249.0,393.2 249.1,393.2 249.2,393.3 249.3,394.6 249.4,393.8 249.5,393.6 249.6,393.4 249.7,394.0 249.8,393.1 249.9,393.4 250.0,393.7 250.1,393.5 250.2,393.6 250.3,393.8 250.4,393.4 250.5,393.7 250.6,394.0 250.7,393.7 250.8,393.6 250.9,393.9 251.0,393.1 251.1,393.9 251.2,393.0 251.3,393.2 251.3,393.8 251.4,393.5 251.5,393.1 251.6,393.6 251.7,393.9 251.8,393.5 251.9,392.9 252.0,394.0 252.1,393.3 252.2,393.5 252.3,393.6 252.4,393.6 252.5,393.6 252.6,393.2 252.7,393.3 252.8,393.8 252.9,393.0 253.0,393.9 253.1,393.3 253.2,393.5 253.3,393.1 253.4,393.4 253.5,393.2 253.6,393.5 253.7,393.2 253.8,393.4 253.9,392.8 254.0,393.8 254.1,393.1 254.2,393.4 254.3,393.5 254.4,393.7 254.5,393.4 254.5,394.0 254.6,394.0 254.7,393.3 254.8,394.0 254.9,393.1 255.0,393.6 255.1,393.5 255.2,393.5 255.3,393.4 255.4,393.6 255.5,393.7 255.6,393.6 255.7,393.2 255.8,393.2 255.9,393.1 256.0,393.4 256.1,393.6 256.2,394.1 256.3,393.3 256.4,393.3 256.5,393.7 256.6,393.3 256.7,393.1 256.8,393.5 256.9,393.2 257.0,393.4 257.1,394.1 257.2,393.7 257.3,393.7 257.4,393.4 257.5,393.8 257.6,393.7 257.7,393.9 257.7,393.6 257.8,393.5 257.9,393.2 258.0,393.3 258.1,393.5 258.2,393.5 258.3,393.5 258.4,393.5 258.5,393.1 258.6,394.3 258.7,393.6 258.8,393.5 258.9,393.2 259.0,393.9 259.1,393.4 259.2,393.3 259.3,393.7 259.4,394.2 259.5,393.7 259.6,393.9 259.7,393.4 259.8,393.8 259.9,393.0 260.0,393.5 260.1,393.8 260.2,393.7 260.3,393.9 260.4,393.4 260.5,393.1 260.6,393.6 260.7,393.3 260.8,393.9 260.9,393.5 260.9,392.8 261.0,394.0 261.1,393.2 261.2,393.2 261.3,394.2 261.4,394.0 261.5,393.9 261.6,393.3 261.7,393.7 261.8,393.6 261.9,393.3 262.0,393.5 262.1,393.5 262.2,393.7 262.3,393.2 262.4,393.8 262.5,393.0 262.6,393.7 262.7,393.8 262.8,393.4 262.9,393.4 263.0,394.2 263.1,393.5 263.2,394.0 263.3,393.8 263.4,393.3 263.5,393.8 263.6,393.5 263.7,393.7 263.8,393.0 263.9,393.6 264.0,393.9 264.1,393.9 264.1,393.9 264.2,393.5 264.3,393.6 264.4,393.3 264.5,393.5 264.6,393.5 264.7,393.5 264.8,393.6 264.9,393.5 265.0,393.3 265.1,393.3 265.2,393.8 265.3,394.1 265.4,393.8 265.5,393.5 265.6,394.4 265.7,393.7 265.8,393.4 265.9,393.8 266.0,393.9 266.1,393.0 266.2,393.2 266.3,393.7 266.4,393.2 266.5,393.2 266.6,393.9 266.7,392.8 266.8,393.9 266.9,393.7 267.0,393.9 267.1,393.6 267.2,394.0 267.3,393.6 267.3,393.3 267.4,393.5 267.5,393.7 267.6,393.1 267.7,393.9 267.8,393.3 267.9,393.7 268.0,393.5 268.1,393.6 268.2,393.6 268.3,393.6 268.4,393.8 268.5,393.8 268.6,393.5 268.7,393.6 268.8,394.0 268.9,393.8 269.0,393.8 269.1,393.6 269.2,393.6 269.3,393.6 269.4,393.8 269.5,393.6 269.6,394.0 269.7,394.5 269.8,393.6 269.9,394.1 270.0,393.9 270.1,394.0 270.2,393.4 270.3,394.0 270.4,393.5 270.5,393.8 270.5,394.0 270.6,394.1 270.7,393.5 270.8,393.5 270.9,393.4 271.0,393.1 271.1,393.5 271.2,393.5 271.3,393.7 271.4,393.6 271.5,393.7 271.6,393.9 271.7,393.0 271.8,394.2 271.9,393.6 272.0,393.5 272.1,393.6 272.2,393.9 272.3,393.7 272.4,393.8 272.5,394.0 272.6,393.7 272.7,393.8 272.8,393.8 272.9,393.4 273.0,394.0 273.1,393.5 273.2,393.8 273.3,393.5 273.4,393.6 273.5,393.6 273.6,393.9 273.7,393.9 273.7,393.9 273.8,393.6 273.9,393.4 274.0,393.3 274.1,393.8 274.2,393.6 274.3,394.1 274.4,394.3 274.5,393.9 274.6,393.9 274.7,394.1 274.8,394.2 274.9,393.5 275.0,393.9 275.1,394.2 275.2,393.0 275.3,393.6 275.4,393.8 275.5,393.5 275.6,393.9 275.7,393.2 275.8,394.1 275.9,394.1 276.0,393.7 276.1,393.9 276.2,393.2 276.3,394.1 276.4,393.9 276.5,393.6 276.6,393.5 276.7,393.4 276.8,393.6 276.9,393.0 276.9,393.8 277.0,393.6 277.1,393.4 277.2,393.8 277.3,393.8 277.4,393.8 277.5,393.9 277.6,394.0 277.7,393.8 277.8,394.1 277.9,393.6 278.0,394.2 278.1,393.1 278.2,393.2 278.3,393.3 278.4,393.7 278.5,393.9 278.6,393.3 278.7,393.6 278.8,393.5 278.9,393.9 279.0,393.4 279.1,393.9 279.2,393.7 279.3,394.2 279.4,393.9 279.5,393.5 279.6,393.8 279.7,393.8 279.8,393.5 279.9,393.7 280.0,393.3 280.0,394.4 280.1,393.5 280.2,393.5 280.3,394.2 280.4,394.1 280.5,393.4 280.6,394.0 280.7,393.9 280.8,393.5 280.9,393.8 281.0,393.6 281.1,394.0 281.2,393.6 281.3,393.4 281.4,393.6 281.5,394.4 281.6,393.5 281.7,393.7 281.8,394.0 281.9,393.3 282.0,394.2 282.1,393.1 282.2,393.9 282.3,393.2 282.4,393.7 282.5,394.1 282.6,393.7 282.7,393.6 282.8,393.5 282.9,393.4 283.0,394.0 283.1,393.6 283.2,393.5 283.2,393.8 283.3,394.0 283.4,394.0 283.5,393.5 283.6,393.5 283.7,394.0 283.8,394.1 283.9,393.3 284.0,394.2 284.1,393.7 284.2,393.9 284.3,394.2 284.4,393.7 284.5,393.8 284.6,393.3 284.7,393.0 284.8,393.8 284.9,393.4 285.0,393.4 285.1,393.9 285.2,394.0 285.3,393.2 285.4,393.8 285.5,393.7 285.6,393.8 285.7,393.8 285.8,393.9 285.9,393.5 286.0,393.4 286.1,393.8 286.2,394.1 286.3,393.7 286.4,394.2 286.4,393.9 286.5,393.4 286.6,393.1 286.7,393.6 286.8,394.0 286.9,393.5 287.0,394.4 287.1,393.9 287.2,393.3 287.3,393.5 287.4,394.1 287.5,394.2 287.6,393.5 287.7,393.8 287.8,393.9 287.9,393.6 288.0,393.9 288.1,394.3 288.2,393.5 288.3,393.9 288.4,394.0 288.5,394.1 288.6,393.7 288.7,394.0 288.8,393.6 288.9,393.8 289.0,393.4 289.1,393.9 289.2,393.9 289.3,394.3 289.4,394.1 289.5,393.6 289.6,392.9 289.6,394.1 289.7,394.1 289.8,393.7 289.9,393.6 290.0,394.0 290.1,393.7 290.2,394.2 290.3,393.9 290.4,393.5 290.5,393.3 290.6,393.8 290.7,393.8 290.8,393.6 290.9,393.5 291.0,393.6 291.1,394.0 291.2,393.7 291.3,393.5 291.4,394.0 291.5,394.2 291.6,393.6 291.7,393.7 291.8,393.5 291.9,393.8 292.0,394.0 292.1,393.9 292.2,394.1 292.3,394.1 292.4,393.9 292.5,393.9 292.6,393.5 292.7,394.1 292.8,393.8 292.8,394.0 292.9,393.4 293.0,393.7 293.1,393.9 293.2,393.6 293.3,393.8 293.4,393.9 293.5,393.4 293.6,393.6 293.7,393.3 293.8,393.5 293.9,393.6 294.0,393.8 294.1,394.1 294.2,393.6 294.3,393.8 294.4,393.6 294.5,393.8 294.6,394.0 294.7,394.1 294.8,393.6 294.9,393.5 295.0,393.9 295.1,393.7 295.2,393.4 295.3,394.0 295.4,393.9 295.5,394.1 295.6,393.5 295.7,393.7 295.8,393.9 295.9,394.3 296.0,393.9 296.0,393.5 296.1,393.9 296.2,393.9 296.3,393.6 296.4,394.2 296.5,393.8 296.6,393.7 296.7,394.0 296.8,394.1 296.9,393.8 297.0,393.9 297.1,393.9 297.2,393.8 297.3,393.8 297.4,394.1 297.5,394.0 297.6,393.7 297.7,393.5 297.8,393.5 297.9,394.1 298.0,393.5 298.1,393.6 298.2,393.8 298.3,393.7 298.4,393.6 298.5,393.4 298.6,394.1 298.7,393.7 298.8,393.9 298.9,393.9 299.0,393.5 299.1,393.6 299.2,394.1 299.2,393.9 299.3,393.8 299.4,394.2 299.5,393.6 299.6,393.9 299.7,393.8 299.8,393.8 299.9,393.4 300.0,393.8 300.1,394.0 300.2,393.4 300.3,394.0 300.4,394.0 300.5,394.2 300.6,393.6 300.7,393.8 300.8,393.7 300.9,393.8 301.0,393.9 301.1,394.1 301.2,394.1 301.3,393.8 301.4,393.8 301.5,393.4 301.6,394.1 301.7,394.0 301.8,394.1 301.9,393.5 302.0,394.2 302.1,393.7 302.2,393.5 302.3,393.9 302.4,393.7 302.4,394.4 302.5,394.0 302.6,394.3 302.7,393.8 302.8,393.9 302.9,394.1 303.0,393.6 303.1,393.8 303.2,394.0 303.3,394.0 303.4,394.3 303.5,393.9 303.6,393.3 303.7,394.1 303.8,393.8 303.9,394.0 304.0,393.7 304.1,393.8 304.2,394.0 304.3,394.4 304.4,394.0 304.5,393.6 304.6,394.0 304.7,393.7 304.8,394.0 304.9,394.4 305.0,393.8 305.1,393.8 305.2,394.0 305.3,394.0 305.4,393.8 305.5,394.1 305.6,393.8 305.6,394.0 305.7,394.5 305.8,393.9 305.9,394.1 306.0,394.1 306.1,393.8 306.2,394.0 306.3,393.8 306.4,393.6 306.5,393.9 306.6,394.3 306.7,394.1 306.8,393.7 306.9,394.0 307.0,394.1 307.1,393.9 307.2,393.8 307.3,393.8 307.4,393.7 307.5,394.1 307.6,394.0 307.7,394.0 307.8,393.9 307.9,394.5 308.0,394.0 308.1,394.3 308.2,393.6 308.3,393.5 308.4,393.5 308.5,393.7 308.6,394.0 308.7,393.7 308.8,394.0 308.8,393.8 308.9,394.2 309.0,394.1 309.1,393.8 309.2,393.5 309.3,393.9 309.4,393.4 309.5,393.2 309.6,394.3 309.7,393.9 309.8,394.2 309.9,394.0 310.0,394.1 310.1,394.0 310.2,393.7 310.3,393.7 310.4,393.9 310.5,393.9 310.6,393.9 310.7,393.9 310.8,393.8 310.9,393.9 311.0,393.8 311.1,394.3 311.2,393.7 311.3,393.5 311.4,393.9 311.5,394.3 311.6,393.6 311.7,394.0 311.8,394.7 311.9,394.0 311.9,393.8 312.0,393.9 312.1,393.6 312.2,393.8 312.3,393.9 312.4,394.4 312.5,394.2 312.6,393.9 312.7,393.8 312.8,394.2 312.9,394.1 313.0,393.8 313.1,394.4 313.2,394.4 313.3,394.0 313.4,393.9 313.5,394.1 313.6,394.5 313.7,394.0 313.8,394.3 313.9,393.8 314.0,394.0 314.1,393.9 314.2,393.8 314.3,394.1 314.4,393.8 314.5,393.7 314.6,393.9 314.7,393.6 314.8,394.1 314.9,393.7 315.0,393.9 315.1,394.2 315.1,394.0 315.2,394.1 315.3,394.1 315.4,394.0 315.5,393.7 315.6,394.1 315.7,393.9 315.8,394.3 315.9,394.0 316.0,393.7 316.1,393.8 316.2,393.9 316.3,394.1 316.4,394.2 316.5,394.0 316.6,394.3 316.7,394.3 316.8,393.8 316.9,394.2 317.0,393.6 317.1,394.3 317.2,393.9 317.3,394.3 317.4,393.9 317.5,394.2 317.6,394.0 317.7,394.0 317.8,394.1 317.9,393.9 318.0,393.6 318.1,394.1 318.2,393.8 318.3,394.0 318.3,394.0 318.4,393.5 318.5,394.5 318.6,394.2 318.7,394.4 318.8,394.1 318.9,394.1 319.0,393.1 319.1,393.9 319.2,393.6 319.3,393.7 319.4,394.1 319.5,393.9 319.6,393.6 319.7,394.0 319.8,394.0 319.9,393.9 320.0,394.4 320.1,394.2 320.2,393.9 320.3,393.9 320.4,394.2 320.5,394.1 320.6,394.0 320.7,394.0 320.8,393.8 320.9,394.0 321.0,394.0 321.1,394.4 321.2,394.3 321.3,393.9 321.4,394.4 321.5,394.0 321.5,394.2 321.6,394.2 321.7,393.9 321.8,394.2 321.9,394.2 322.0,394.2 322.1,394.0 322.2,393.4 322.3,394.5 322.4,394.0 322.5,394.1 322.6,393.8 322.7,394.1 322.8,394.6 322.9,393.7 323.0,394.3 323.1,394.0 323.2,394.4 323.3,394.3 323.4,394.2 323.5,393.8 323.6,393.8 323.7,394.2 323.8,393.9 323.9,394.1 324.0,394.0 324.1,394.0 324.2,393.9 324.3,394.2 324.4,394.1 324.5,394.0 324.6,394.0 324.7,394.2 324.7,393.6 324.8,394.2 324.9,393.9 325.0,394.0 325.1,393.8 325.2,394.6 325.3,393.6 325.4,394.1 325.5,394.3 325.6,394.0 325.7,393.5 325.8,393.9 325.9,394.3 326.0,394.2 326.1,393.7 326.2,394.4 326.3,394.1 326.4,394.1 326.5,393.6 326.6,394.1 326.7,393.8 326.8,394.2 326.9,394.2 327.0,393.8 327.1,393.9 327.2,394.5 327.3,393.9 327.4,393.9 327.5,394.2 327.6,394.0 327.7,394.0 327.8,394.2 327.9,394.2 327.9,394.2 328.0,394.1 328.1,394.4 328.2,394.1 328.3,394.4 328.4,394.1 328.5,394.1 328.6,394.3 328.7,393.9 328.8,393.6 328.9,393.8 329.0,394.4 329.1,393.8 329.2,394.0 329.3,394.1 329.4,394.2 329.5,394.1 329.6,393.8 329.7,394.0 329.8,394.2 329.9,394.2 330.0,394.2 330.1,393.9 330.2,393.7 330.3,394.3 330.4,394.1 330.5,394.2 330.6,394.3 330.7,394.0 330.8,394.0 330.9,394.4 331.0,394.3 331.1,393.8 331.1,394.0 331.2,394.0 331.3,394.2 331.4,394.2 331.5,394.0 331.6,394.2 331.7,394.3 331.8,394.1 331.9,393.9 332.0,394.3 332.1,393.9 332.2,393.9 332.3,394.3 332.4,394.1 332.5,394.1 332.6,394.0 332.7,393.9 332.8,394.4 332.9,394.4 333.0,393.9 333.1,394.1 333.2,394.0 333.3,394.0 333.4,393.8 333.5,394.4 333.6,393.9 333.7,394.3 333.8,393.9 333.9,393.8 334.0,394.4 334.1,394.0 334.2,394.2 334.3,394.2 334.3,394.1 334.4,394.3 334.5,394.3 334.6,394.0 334.7,393.9 334.8,394.2 334.9,394.4 335.0,393.6 335.1,393.8 335.2,393.4 335.3,391.9 335.4,389.1 335.5,387.6 335.6,389.1 335.7,391.5 335.8,393.4 335.9,393.9 336.0,394.3 336.1,394.3 336.2,394.3 336.3,394.1 336.4,394.2 336.5,394.2 336.6,394.1 336.7,394.1 336.8,393.8 336.9,394.2 337.0,394.3 337.1,394.1 337.2,393.8 337.3,394.2 337.4,394.1 337.5,394.2 337.5,394.0 337.6,394.1 337.7,394.3 337.8,394.2 337.9,393.9 338.0,393.9 338.1,393.9 338.2,393.9 338.3,394.2 338.4,394.2 338.5,393.9 338.6,394.4 338.7,394.1 338.8,394.5 338.9,394.2 339.0,394.3 339.1,394.4 339.2,394.0 339.3,394.3 339.4,394.2 339.5,394.2 339.6,394.3 339.7,393.8 339.8,394.2 339.9,394.1 340.0,394.4 340.1,394.2 340.2,394.2 340.3,394.2 340.4,394.3 340.5,394.1 340.6,393.8 340.6,394.2 340.7,394.2 340.8,394.2 340.9,393.6 341.0,393.8 341.1,394.0 341.2,394.0 341.3,394.3 341.4,394.2 341.5,394.1 341.6,394.1 341.7,394.3 341.8,394.3 341.9,394.0 342.0,394.1 342.1,394.6 342.2,394.1 342.3,393.9 342.4,394.3 342.5,394.1 342.6,394.5 342.7,394.0 342.8,394.4 342.9,394.4 343.0,394.2 343.1,393.7 343.2,394.3 343.3,394.4 343.4,394.1 343.5,394.1 343.6,393.8 343.7,394.4 343.8,394.5 343.8,394.2 343.9,394.1 344.0,394.1 344.1,393.9 344.2,394.5 344.3,394.3 344.4,394.2 344.5,394.0 344.6,394.1 344.7,394.2 344.8,394.4 344.9,394.0 345.0,394.0 345.1,393.6 345.2,394.2 345.3,393.8 345.4,394.4 345.5,394.3 345.6,394.3 345.7,394.3 345.8,394.3 345.9,394.3 346.0,394.2 346.1,394.3 346.2,394.0 346.3,394.2 346.4,394.2 346.5,393.9 346.6,394.1 346.7,394.1 346.8,394.2 346.9,394.2 347.0,394.1 347.0,394.3 347.1,393.9 347.2,393.9 347.3,393.9 347.4,394.3 347.5,394.5 347.6,394.3 347.7,394.1 347.8,394.0 347.9,394.2 348.0,394.2 348.1,393.9 348.2,394.3 348.3,394.0 348.4,394.0 348.5,394.4 348.6,394.1 348.7,394.3 348.8,394.4 348.9,394.5 349.0,394.5 349.1,394.1 349.2,394.3 349.3,394.1 349.4,394.4 349.5,394.2 349.6,394.2 349.7,394.5 349.8,394.5 349.9,394.1 350.0,394.2 350.1,394.4 350.2,394.2 350.2,394.0 350.3,393.8 350.4,394.4 350.5,394.1 350.6,393.8 350.7,394.2 350.8,393.9 350.9,394.7 351.0,393.9 351.1,394.2 351.2,394.6 351.3,394.0 351.4,394.0 351.5,393.9 351.6,393.9 351.7,394.2 351.8,394.3 351.9,394.3 352.0,394.2 352.1,394.1 352.2,394.3 352.3,394.2 352.4,394.0 352.5,394.1 352.6,393.7 352.7,393.8 352.8,394.4 352.9,394.3 353.0,394.4 353.1,394.4 353.2,394.1 353.3,394.4 353.4,394.4 353.4,394.2 353.5,394.0 353.6,394.3 353.7,394.3 353.8,394.0 353.9,394.1 354.0,394.1 354.1,394.0 354.2,394.4 354.3,394.2 354.4,394.3 354.5,394.0 354.6,394.0 354.7,394.4 354.8,393.9 354.9,394.4 355.0,394.0 355.1,394.2 355.2,394.4 355.3,394.4 355.4,394.3 355.5,394.2 355.6,394.3 355.7,394.1 355.8,394.5 355.9,394.2 356.0,394.2 356.1,394.6 356.2,394.1 356.3,394.4 356.4,394.7 356.5,394.3 356.6,394.2 356.6,394.0 356.7,394.3 356.8,393.9 356.9,393.9 357.0,394.0 357.1,393.9 357.2,394.1 357.3,394.3 357.4,394.1 357.5,394.0 357.6,394.2 357.7,394.3 357.8,394.5 357.9,394.1 358.0,394.1 358.1,394.5 358.2,394.2 358.3,394.1 358.4,394.2 358.5,394.1 358.6,394.1 358.7,394.5 358.8,394.3 358.9,394.1 359.0,394.0 359.1,393.9 359.2,394.6 359.3,394.2 359.4,394.1 359.5,394.0 359.6,393.9 359.7,394.4 359.8,394.3 359.8,394.4 359.9,394.1 360.0,394.5 360.1,394.0 360.2,394.0 360.3,394.1 360.4,394.6 360.5,394.3 360.6,394.1 360.7,394.5 360.8,394.3 360.9,394.2 361.0,394.0 361.1,394.2 361.2,394.2 361.3,394.3 361.4,394.2 361.5,394.2 361.6,394.1 361.7,394.3 361.8,394.0 361.9,394.5 362.0,394.0 362.1,394.3 362.2,394.0 362.3,394.2 362.4,394.1 362.5,393.9 362.6,394.3 362.7,394.2 362.8,394.3 362.9,394.2 363.0,394.5 363.0,394.3 363.1,394.3 363.2,394.4 363.3,394.3 363.4,394.5 363.5,394.0 363.6,394.1 363.7,393.9 363.8,394.4 363.9,394.4 364.0,394.2 364.1,394.5 364.2,394.2 364.3,394.4 364.4,394.3 364.5,394.2 364.6,394.2 364.7,393.9 364.8,394.1 364.9,394.5 365.0,394.0 365.1,394.5 365.2,394.2 365.3,394.5 365.4,394.4 365.5,394.0 365.6,394.3 365.7,394.4 365.8,394.3 365.9,394.3 366.0,394.0 366.1,394.5 366.2,394.5 366.2,394.1 366.3,394.5 366.4,394.3 366.5,394.0 366.6,394.2 366.7,394.3 366.8,394.4 366.9,394.4 367.0,394.4 367.1,394.2 367.2,394.0 367.3,394.1 367.4,394.3 367.5,394.4 367.6,394.1 367.7,394.6 367.8,394.3 367.9,394.3 368.0,394.5 368.1,394.4 368.2,394.2 368.3,394.6 368.4,394.4 368.5,394.4 368.6,394.2 368.7,394.5 368.8,394.0 368.9,394.3 369.0,394.3 369.1,394.3 369.2,394.4 369.3,394.4 369.4,394.0 369.4,394.2 369.5,394.3 369.6,394.1 369.7,394.4 369.8,394.1 369.9,394.2 370.0,394.4 370.1,394.1 370.2,394.5 370.3,394.1 370.4,394.4 370.5,394.2 370.6,394.0 370.7,394.2 370.8,394.4 370.9,394.3 371.0,394.3 371.1,394.5 371.2,394.5 371.3,394.3 371.4,394.2 371.5,394.6 371.6,394.3 371.7,394.2 371.8,394.2 371.9,394.4 372.0,394.1 372.1,394.5 372.2,394.1 372.3,394.0 372.4,394.6 372.5,394.2 372.5,394.2 372.6,394.2 372.7,394.4 372.8,394.3 372.9,394.5 373.0,394.2 373.1,394.2 373.2,394.4 373.3,394.4 373.4,394.4 373.5,394.3 373.6,394.3 373.7,394.3 373.8,394.3 373.9,394.5 374.0,394.8 374.1,394.2 374.2,394.0 374.3,394.5 374.4,394.4 374.5,394.2 374.6,394.1 374.7,394.2 374.8,394.0 374.9,394.3 375.0,394.2 375.1,394.2 375.2,394.4 375.3,394.1 375.4,394.2 375.5,394.1 375.6,394.3 375.7,394.1 375.7,394.5 375.8,394.2 375.9,394.7 376.0,394.5 376.1,394.1 376.2,394.4 376.3,394.2 376.4,394.6 376.5,394.0 376.6,394.2 376.7,394.3 376.8,394.2 376.9,394.2 377.0,394.0 377.1,394.2 377.2,394.5 377.3,394.3 377.4,394.1 377.5,394.2 377.6,394.4 377.7,394.2 377.8,394.3 377.9,394.2 378.0,394.6 378.1,394.4 378.2,394.2 378.3,394.3 378.4,394.2 378.5,393.9 378.6,394.3 378.7,394.2 378.8,394.4 378.9,394.4 378.9,394.3 379.0,394.5 379.1,394.7 379.2,394.0 379.3,394.3 379.4,394.1 379.5,394.3 379.6,394.3 379.7,394.2 379.8,394.2 379.9,394.5 380.0,394.1 380.1,394.5 380.2,394.3 380.3,393.8 380.4,394.3 380.5,394.0 380.6,394.4 380.7,394.2 380.8,394.3 380.9,394.2 381.0,394.4 381.1,394.5 381.2,394.2 381.3,394.6 381.4,394.4 381.5,394.2 381.6,394.4 381.7,394.4 381.8,394.5 381.9,394.3 382.0,394.4 382.1,394.3 382.1,394.3 382.2,394.0 382.3,394.4 382.4,394.6 382.5,394.3 382.6,394.3 382.7,394.3 382.8,394.6 382.9,394.1 383.0,394.3 383.1,394.3 383.2,394.6 383.3,394.2 383.4,394.3 383.5,394.1 383.6,394.4 383.7,394.5 383.8,394.3 383.9,394.5 384.0,394.2 384.1,394.5 384.2,394.3 384.3,394.3 384.4,394.3 384.5,394.4 384.6,394.4 384.7,394.3 384.8,394.4 384.9,394.3 385.0,394.3 385.1,394.7 385.2,394.3 385.3,394.1 385.3,394.3 385.4,394.2 385.5,394.2 385.6,394.4 385.7,394.5 385.8,394.2 385.9,394.1 386.0,394.2 386.1,394.2 386.2,394.2 386.3,394.3 386.4,394.3 386.5,394.3 386.6,394.3 386.7,394.5 386.8,394.4 386.9,394.2 387.0,394.4 387.1,394.7 387.2,394.3 387.3,394.7 387.4,394.0 387.5,394.2 387.6,394.2 387.7,394.4 387.8,394.5 387.9,394.3 388.0,394.3 388.1,394.4 388.2,394.3 388.3,394.2 388.4,394.2 388.5,394.5 388.5,394.7 388.6,394.3 388.7,394.4 388.8,394.2 388.9,394.0 389.0,394.0 389.1,394.3 389.2,394.1 389.3,394.0 389.4,394.3 389.5,394.3 389.6,394.2 389.7,394.3 389.8,394.4 389.9,394.4 390.0,394.3 390.1,394.4 390.2,394.2 390.3,394.4 390.4,394.1 390.5,394.1 390.6,394.5 390.7,394.1 390.8,394.4 390.9,394.1 391.0,394.2 391.1,394.3 391.2,394.2 391.3,394.4 391.4,394.3 391.5,394.3 391.6,394.3 391.7,394.3 391.7,394.5 391.8,394.2 391.9,394.5 392.0,394.2 392.1,394.2 392.2,394.2 392.3,394.4 392.4,393.8 392.5,394.4 392.6,394.3 392.7,394.4 392.8,394.1 392.9,394.4 393.0,394.2 393.1,394.5 393.2,394.3 393.3,394.4 393.4,394.2 393.5,394.4 393.6,394.5 393.7,394.2 393.8,394.5 393.9,394.5 394.0,394.2 394.1,394.6 394.2,394.2 394.3,394.4 394.4,394.5 394.5,394.3 394.6,394.2 394.7,394.4 394.8,394.3 394.9,394.2 394.9,394.2 395.0,394.3 395.1,394.4 395.2,394.5 395.3,394.4 395.4,394.2 395.5,394.2 395.6,394.3 395.7,394.1 395.8,394.4 395.9,394.4 396.0,394.4 396.1,394.0 396.2,394.6 396.3,394.3 396.4,394.2 396.5,394.3 396.6,394.0 396.7,394.1 396.8,394.2 396.9,394.5 397.0,394.2 397.1,394.4 397.2,394.3 397.3,394.3 397.4,394.4 397.5,394.2 397.6,394.1 397.7,394.2 397.8,394.3 397.9,394.6 398.0,394.2 398.1,394.2 398.1,394.4 398.2,394.4 398.3,394.2 398.4,394.4 398.5,394.2 398.6,394.5 398.7,394.5 398.8,394.3 398.9,394.5 399.0,394.3 399.1,394.2 399.2,394.5 399.3,394.2 399.4,394.4 399.5,394.2 399.6,394.3 399.7,394.4 399.8,394.4 399.9,394.6 400.0,394.4 400.1,394.4 400.2,394.1 400.3,394.2 400.4,394.5 400.5,394.2 400.6,394.3 400.7,394.4 400.8,394.3 400.9,394.2 401.0,394.4 401.1,394.4 401.2,394.3 401.2,394.5 401.3,394.3 401.4,394.3 401.5,394.4 401.6,394.5 401.7,394.3 401.8,394.2 401.9,394.3 402.0,394.5 402.1,394.2 402.2,394.3 402.3,394.2 402.4,394.2 402.5,394.5 402.6,394.4 402.7,394.4 402.8,394.5 402.9,394.0 403.0,394.2 403.1,394.6 403.2,394.3 403.3,394.4 403.4,394.2 403.5,394.3 403.6,394.4 403.7,394.3 403.8,394.3 403.9,394.3 404.0,394.4 404.1,394.4 404.2,394.3 404.3,394.5 404.4,394.3 404.4,394.4 404.5,394.4 404.6,394.2 404.7,394.5 404.8,394.4 404.9,394.5 405.0,394.3 405.1,394.4 405.2,394.3 405.3,394.3 405.4,394.6 405.5,394.3 405.6,394.4 405.7,394.4 405.8,394.4 405.9,394.2 406.0,394.2 406.1,394.1 406.2,394.3 406.3,394.4 406.4,394.4 406.5,394.2 406.6,394.1 406.7,394.3 406.8,394.4 406.9,394.3 407.0,394.3 407.1,394.3 407.2,394.4 407.3,394.7 407.4,394.4 407.5,394.2 407.6,394.3 407.6,394.7 407.7,394.3 407.8,394.6 407.9,394.0 408.0,394.3 408.1,394.5 408.2,394.2 408.3,394.5 408.4,394.3 408.5,394.3 408.6,394.5 408.7,394.2 408.8,394.5 408.9,394.1 409.0,394.3 409.1,394.5 409.2,394.6 409.3,394.1 409.4,394.1 409.5,394.5 409.6,394.1 409.7,394.3 409.8,394.4 409.9,394.4 410.0,394.4 410.1,394.1 410.2,394.3 410.3,394.6 410.4,394.0 410.5,394.2 410.6,394.5 410.7,394.4 410.8,394.5 410.8,394.3 410.9,394.3 411.0,394.3 411.1,394.4 411.2,394.5 411.3,394.2 411.4,394.4 411.5,394.0 411.6,394.5 411.7,394.2 411.8,394.3 411.9,394.5 412.0,394.2 412.1,394.3 412.2,394.5 412.3,394.4 412.4,394.2 412.5,394.5 412.6,394.2 412.7,394.3 412.8,394.4 412.9,394.2 413.0,394.1 413.1,394.3 413.2,394.3 413.3,394.1 413.4,394.1 413.5,394.5 413.6,394.4 413.7,394.4 413.8,394.4 413.9,394.6 414.0,394.2 414.0,394.3 414.1,394.3 414.2,394.2 414.3,394.4 414.4,394.4 414.5,394.3 414.6,394.4 414.7,394.4 414.8,394.2 414.9,394.4 415.0,394.2 415.1,394.5 415.2,394.3 415.3,394.6 415.4,394.4 415.5,394.5 415.6,394.2 415.7,394.2 415.8,394.3 415.9,394.1 416.0,394.1 416.1,394.3 416.2,394.5 416.3,394.6 416.4,394.4 416.5,394.4 416.6,394.5 416.7,394.4 416.8,394.6 416.9,394.1 417.0,394.5 417.1,394.5 417.2,394.3 417.2,394.6 417.3,394.2 417.4,394.2 417.5,394.4 417.6,394.5 417.7,394.4 417.8,394.6 417.9,394.2 418.0,394.4 418.1,394.5 418.2,394.5 418.3,394.3 418.4,394.1 418.5,394.5 418.6,394.4 418.7,394.6 418.8,394.3 418.9,394.3 419.0,394.0 419.1,394.4 419.2,394.4 419.3,394.5 419.4,394.2 419.5,394.6 419.6,394.3 419.7,394.3 419.8,394.4 419.9,394.5 420.0,394.2 420.1,394.1 420.2,394.4 420.3,394.3 420.4,394.1 420.4,394.5 420.5,394.4 420.6,394.5 420.7,394.4 420.8,394.4 420.9,394.4 421.0,394.5 421.1,394.6 421.2,394.6 421.3,394.5 421.4,394.3 421.5,394.4 421.6,394.5 421.7,394.3 421.8,394.3 421.9,394.5 422.0,394.5 422.1,394.3 422.2,394.3 422.3,394.5 422.4,394.3 422.5,394.4 422.6,394.2 422.7,394.5 422.8,394.2 422.9,394.3 423.0,394.5 423.1,394.2 423.2,394.2 423.3,394.6 423.4,394.1 423.5,394.5 423.6,394.5 423.6,394.4 423.7,394.3 423.8,394.3 423.9,394.4 424.0,394.2 424.1,394.3 424.2,394.2 424.3,394.0 424.4,394.3 424.5,394.7 424.6,394.4 424.7,394.5 424.8,394.4 424.9,394.4 425.0,394.5 425.1,394.5 425.2,394.4 425.3,394.4 425.4,394.7 425.5,394.2 425.6,394.4 425.7,394.4 425.8,394.3 425.9,394.5 426.0,394.4 426.1,394.2 426.2,394.2 426.3,394.3 426.4,394.4 426.5,394.5 426.6,394.2 426.7,394.3 426.8,394.4 426.8,394.7 426.9,394.5 427.0,394.7 427.1,394.2 427.2,394.4 427.3,394.5 427.4,394.4 427.5,394.0 427.6,394.2 427.7,394.6 427.8,394.4 427.9,394.6 428.0,394.6 428.1,394.4 428.2,394.0 428.3,394.2 428.4,394.4 428.5,394.4 428.6,394.4 428.7,394.2 428.8,394.6 428.9,394.6 429.0,394.1 429.1,394.3 429.2,394.2 429.3,394.4 429.4,394.2 429.5,394.5 429.6,394.3 429.7,394.2 429.8,394.2 429.9,394.5 430.0,394.3 430.0,394.5 430.1,394.6 430.2,394.3 430.3,394.2 430.4,394.3 430.5,394.6 430.6,394.3 430.7,394.3 430.8,394.5 430.9,394.7 431.0,394.2 431.1,394.3 431.2,394.3 431.3,394.6 431.4,394.6 431.5,394.2 431.6,394.3 431.7,394.3 431.8,394.4 431.9,394.3 432.0,394.5 432.1,394.4 432.2,394.5 432.3,394.4 432.4,394.4 432.5,394.3 432.6,394.3 432.7,394.5 432.8,394.1 432.9,394.6 433.0,394.3 433.1,394.2 433.1,394.2 433.2,394.7 433.3,394.2 433.4,394.2 433.5,394.2 433.6,394.7 433.7,394.5 433.8,394.4 433.9,394.5 434.0,394.2 434.1,394.5 434.2,394.2 434.3,394.3 434.4,394.6 434.5,394.5 434.6,394.5 434.7,394.4 434.8,394.3 434.9,394.4 435.0,394.3 435.1,394.6 435.2,394.8 435.3,394.4 435.4,394.3 435.5,394.4 435.6,394.5 435.7,394.3 435.8,394.1 435.9,394.4 436.0,394.5 436.1,394.5 436.2,394.1 436.3,394.4 436.3,394.3 436.4,394.2 436.5,394.2 436.6,394.5 436.7,394.3 436.8,394.3 436.9,394.3 437.0,394.3 437.1,394.5 437.2,394.4 437.3,394.5 437.4,394.3 437.5,394.5 437.6,394.3 437.7,394.6 437.8,394.4 437.9,394.4 438.0,394.4 438.1,394.4 438.2,394.4 438.3,394.4 438.4,394.7 438.5,394.2 438.6,394.5 438.7,394.4 438.8,394.5 438.9,394.3 439.0,394.5 439.1,394.3 439.2,394.2 439.3,394.2 439.4,394.2 439.5,394.3 439.5,394.6 439.6,394.2 439.7,394.2 439.8,394.3 439.9,394.3 440.0,394.4 440.1,394.5 440.2,394.3 440.3,394.2 440.4,394.5 440.5,394.3 440.6,394.4 440.7,394.3 440.8,394.4 440.9,394.3 441.0,394.3 441.1,394.3 441.2,394.6 441.3,394.3 441.4,394.4 441.5,394.6 441.6,394.3 441.7,394.6 441.8,394.3 441.9,394.2 442.0,394.5 442.1,394.3 442.2,394.3 442.3,394.3 442.4,394.6 442.5,394.3 442.6,394.4 442.7,394.3 442.7,394.4 442.8,394.3 442.9,394.4 443.0,394.3 443.1,394.2 443.2,394.4 443.3,394.3 443.4,394.4 443.5,394.3 443.6,394.5 443.7,394.3 443.8,394.2 443.9,394.4 444.0,394.3 444.1,394.3 444.2,394.6 444.3,394.4 444.4,394.2 444.5,394.5 444.6,394.6 444.7,394.4 444.8,394.5 444.9,394.2 445.0,394.4 445.1,394.4 445.2,394.5 445.3,394.4 445.4,394.5 445.5,394.5 445.6,394.4 445.7,394.5 445.8,394.2 445.9,394.6 445.9,394.4 446.0,394.5 446.1,394.6 446.2,394.2 446.3,394.7 446.4,394.2 446.5,394.6 446.6,394.4 446.7,394.1 446.8,394.7 446.9,394.6 447.0,394.2 447.1,394.4 447.2,394.5 447.3,394.4 447.4,394.5 447.5,394.4 447.6,394.2 447.7,394.5 447.8,394.4 447.9,394.3 448.0,394.2 448.1,394.5 448.2,394.4 448.3,394.5 448.4,394.5 448.5,394.5 448.6,394.5 448.7,394.6 448.8,394.7 448.9,394.5 449.0,394.4 449.1,394.3 449.1,394.5 449.2,394.4 449.3,394.3 449.4,394.3 449.5,394.4 449.6,394.4 449.7,394.2 449.8,394.5"/>
</g>
<path d="M52.00,4.95V409.9H537.65" fill="none" stroke="#000" stroke-width="1.75" stroke-linejoin="miter"/>
<path d="M52.00,409.9v-4.8M52.00,394.60h4.8M100.48,409.9v-2.4M52.00,355.72h2.4M148.96,409.9v-4.8M52.00,316.84h4.8M197.44,409.9v-2.4M52.00,277.96h2.4M245.92,409.9v-4.8M52.00,239.08h4.8M294.40,409.9v-2.4M52.00,200.20h2.4M342.88,409.9v-4.8M52.00,161.32h4.8M391.36,409.9v-2.4M52.00,122.44h2.4M439.84,409.9v-4.8M52.00,83.56h4.8M488.32,409.9v-2.4M52.00,44.68h2.4M536.80,409.9v-4.8M52.00,5.80h4.8" fill="none" stroke="#000" stroke-width="1.65"/>
<g font-family="Liberation Sans, Arial, sans-serif" fill="#000">
<text transform="translate(52.25,424.60) scale(1,1.04)" font-size="12.2" text-anchor="middle">0</text>
<text transform="translate(49.50,400.50) scale(1,1.04)" font-size="12.2" text-anchor="end">0</text>
<text transform="translate(149.21,424.60) scale(1,1.04)" font-size="12.2" text-anchor="middle">500</text>
<text transform="translate(49.50,322.74) scale(1,1.04)" font-size="12.2" text-anchor="end">500</text>
<text transform="translate(246.17,424.60) scale(1,1.04)" font-size="12.2" text-anchor="middle">1000</text>
<text transform="translate(49.50,244.98) scale(1,1.04)" font-size="12.2" text-anchor="end">1000</text>
<text transform="translate(343.13,424.60) scale(1,1.04)" font-size="12.2" text-anchor="middle">1500</text>
<text transform="translate(49.50,167.22) scale(1,1.04)" font-size="12.2" text-anchor="end">1500</text>
<text transform="translate(440.09,424.60) scale(1,1.04)" font-size="12.2" text-anchor="middle">2000</text>
<text transform="translate(49.50,89.46) scale(1,1.04)" font-size="12.2" text-anchor="end">2000</text>
<text transform="translate(537.05,424.60) scale(1,1.04)" font-size="12.2" text-anchor="middle">2500</text>
<text transform="translate(49.50,11.70) scale(1,1.04)" font-size="12.2" text-anchor="end">2500</text>
<text transform="translate(236.20,445.40) scale(1,1.04)" font-size="15.5">Energy (keV)</text>
<text transform="translate(14.00,234.90) rotate(-90) scale(1,1.04)" font-size="15.8">Total counts</text>
<text transform="translate(59.50,28.30) scale(1,1.04)" font-size="15.5">Th-234</text>
<text transform="translate(80.00,163.30) scale(1,1.04)" font-size="15.5">U-235/Ra-226</text>
<text transform="translate(93.50,225.60) scale(1,1.04)" font-size="15.5">Pb-212</text>
<text transform="translate(111.50,248.20) scale(1,1.04)" font-size="15.5">annihilation peak</text>
<text transform="translate(280.50,241.30) scale(1,1.04)" font-size="15.5">U-238</text>
<text transform="translate(318.20,335.90) scale(1,1.04)" font-size="15.5">K-40</text>
<text transform="translate(235.80,365.30) rotate(-90) scale(1,1.04)" font-size="15.5">Ac-228</text>
<line x1="327.6" x2="363.1" y1="33.2" y2="33.2" stroke="#000" stroke-width="1.4"/>
<text transform="translate(367.60,39.10) scale(1,1.04)" font-size="15.5">Ge03</text>
<line x1="327.6" x2="363.1" y1="52.4" y2="52.4" stroke="#ff0000" stroke-width="1.4"/>
<text transform="translate(367.60,58.33) scale(1,1.04)" font-size="15.5">Ge08</text>
<line x1="327.6" x2="363.1" y1="71.7" y2="71.7" stroke="#0000ff" stroke-width="1.4"/>
<text transform="translate(367.60,77.56) scale(1,1.04)" font-size="15.5">Ge09</text>
<line x1="327.6" x2="363.1" y1="90.9" y2="90.9" stroke="#ff8000" stroke-width="1.4"/>
<text transform="translate(367.60,96.79) scale(1,1.04)" font-size="15.5">Ge11</text>
</g>
<line x1="292.3" y1="247.2" x2="249.2" y2="368.2" stroke="#000" stroke-width="1.6"/>
<polygon points="245.7,378.1 246.4,367.2 252.0,369.2" fill="#000"/>
</svg>
</body></html>
